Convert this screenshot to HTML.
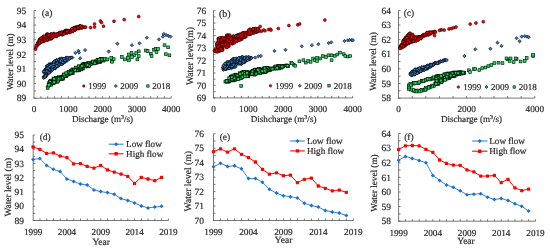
<!DOCTYPE html>
<html><head><meta charset="utf-8"><style>
html,body{margin:0;padding:0;background:#fff;}
svg{display:block;will-change:transform;font-family:"Liberation Serif", serif;fill:#222;}
text{fill:#2a2a2a;stroke:#2a2a2a;stroke-width:0.2px;text-rendering:geometricPrecision;}
</style></head><body>
<svg width="550" height="248" viewBox="0 0 550 248">
<line x1="34.00" y1="98.60" x2="34.00" y2="10.50" stroke="#555" stroke-width="0.8"/>
<line x1="33.60" y1="98.20" x2="171.20" y2="98.20" stroke="#555" stroke-width="0.8"/>
<line x1="34.00" y1="98.20" x2="36.00" y2="98.20" stroke="#555" stroke-width="0.8"/>
<text x="26.20" y="101.40" font-size="9.5" text-anchor="end" >89</text>
<line x1="34.00" y1="83.58" x2="36.00" y2="83.58" stroke="#555" stroke-width="0.8"/>
<text x="26.20" y="86.78" font-size="9.5" text-anchor="end" >90</text>
<line x1="34.00" y1="68.97" x2="36.00" y2="68.97" stroke="#555" stroke-width="0.8"/>
<text x="26.20" y="72.17" font-size="9.5" text-anchor="end" >91</text>
<line x1="34.00" y1="54.35" x2="36.00" y2="54.35" stroke="#555" stroke-width="0.8"/>
<text x="26.20" y="57.55" font-size="9.5" text-anchor="end" >92</text>
<line x1="34.00" y1="39.73" x2="36.00" y2="39.73" stroke="#555" stroke-width="0.8"/>
<text x="26.20" y="42.93" font-size="9.5" text-anchor="end" >93</text>
<line x1="34.00" y1="25.12" x2="36.00" y2="25.12" stroke="#555" stroke-width="0.8"/>
<text x="26.20" y="28.32" font-size="9.5" text-anchor="end" >94</text>
<line x1="34.00" y1="10.50" x2="36.00" y2="10.50" stroke="#555" stroke-width="0.8"/>
<text x="26.20" y="13.70" font-size="9.5" text-anchor="end" >95</text>
<line x1="34.00" y1="90.89" x2="36.00" y2="90.89" stroke="#555" stroke-width="0.8"/>
<line x1="34.00" y1="76.28" x2="36.00" y2="76.28" stroke="#555" stroke-width="0.8"/>
<line x1="34.00" y1="61.66" x2="36.00" y2="61.66" stroke="#555" stroke-width="0.8"/>
<line x1="34.00" y1="47.04" x2="36.00" y2="47.04" stroke="#555" stroke-width="0.8"/>
<line x1="34.00" y1="32.42" x2="36.00" y2="32.42" stroke="#555" stroke-width="0.8"/>
<line x1="34.00" y1="17.81" x2="36.00" y2="17.81" stroke="#555" stroke-width="0.8"/>
<line x1="40.86" y1="98.20" x2="40.86" y2="96.20" stroke="#555" stroke-width="0.8"/>
<line x1="47.72" y1="98.20" x2="47.72" y2="96.20" stroke="#555" stroke-width="0.8"/>
<line x1="54.58" y1="98.20" x2="54.58" y2="96.20" stroke="#555" stroke-width="0.8"/>
<line x1="61.44" y1="98.20" x2="61.44" y2="96.20" stroke="#555" stroke-width="0.8"/>
<line x1="68.30" y1="98.20" x2="68.30" y2="96.20" stroke="#555" stroke-width="0.8"/>
<line x1="75.16" y1="98.20" x2="75.16" y2="96.20" stroke="#555" stroke-width="0.8"/>
<line x1="82.02" y1="98.20" x2="82.02" y2="96.20" stroke="#555" stroke-width="0.8"/>
<line x1="88.88" y1="98.20" x2="88.88" y2="96.20" stroke="#555" stroke-width="0.8"/>
<line x1="95.74" y1="98.20" x2="95.74" y2="96.20" stroke="#555" stroke-width="0.8"/>
<line x1="102.60" y1="98.20" x2="102.60" y2="96.20" stroke="#555" stroke-width="0.8"/>
<line x1="109.46" y1="98.20" x2="109.46" y2="96.20" stroke="#555" stroke-width="0.8"/>
<line x1="116.32" y1="98.20" x2="116.32" y2="96.20" stroke="#555" stroke-width="0.8"/>
<line x1="123.18" y1="98.20" x2="123.18" y2="96.20" stroke="#555" stroke-width="0.8"/>
<line x1="130.04" y1="98.20" x2="130.04" y2="96.20" stroke="#555" stroke-width="0.8"/>
<line x1="136.90" y1="98.20" x2="136.90" y2="96.20" stroke="#555" stroke-width="0.8"/>
<line x1="143.76" y1="98.20" x2="143.76" y2="96.20" stroke="#555" stroke-width="0.8"/>
<line x1="150.62" y1="98.20" x2="150.62" y2="96.20" stroke="#555" stroke-width="0.8"/>
<line x1="157.48" y1="98.20" x2="157.48" y2="96.20" stroke="#555" stroke-width="0.8"/>
<line x1="164.34" y1="98.20" x2="164.34" y2="96.20" stroke="#555" stroke-width="0.8"/>
<line x1="171.20" y1="98.20" x2="171.20" y2="96.20" stroke="#555" stroke-width="0.8"/>
<text x="34.00" y="111.80" font-size="9.2" text-anchor="middle" >0</text>
<text x="68.30" y="111.80" font-size="9.2" text-anchor="middle" >1000</text>
<text x="102.60" y="111.80" font-size="9.2" text-anchor="middle" >2000</text>
<text x="136.90" y="111.80" font-size="9.2" text-anchor="middle" >3000</text>
<text x="171.20" y="111.80" font-size="9.2" text-anchor="middle" >4000</text>
<line x1="213.50" y1="98.30" x2="213.50" y2="10.60" stroke="#555" stroke-width="0.8"/>
<line x1="213.10" y1="97.90" x2="352.70" y2="97.90" stroke="#555" stroke-width="0.8"/>
<line x1="213.50" y1="97.90" x2="215.50" y2="97.90" stroke="#555" stroke-width="0.8"/>
<text x="206.30" y="101.10" font-size="9.5" text-anchor="end" >69</text>
<line x1="213.50" y1="85.43" x2="215.50" y2="85.43" stroke="#555" stroke-width="0.8"/>
<text x="206.30" y="88.63" font-size="9.5" text-anchor="end" >70</text>
<line x1="213.50" y1="72.96" x2="215.50" y2="72.96" stroke="#555" stroke-width="0.8"/>
<text x="206.30" y="76.16" font-size="9.5" text-anchor="end" >71</text>
<line x1="213.50" y1="60.49" x2="215.50" y2="60.49" stroke="#555" stroke-width="0.8"/>
<text x="206.30" y="63.69" font-size="9.5" text-anchor="end" >72</text>
<line x1="213.50" y1="48.01" x2="215.50" y2="48.01" stroke="#555" stroke-width="0.8"/>
<text x="206.30" y="51.21" font-size="9.5" text-anchor="end" >73</text>
<line x1="213.50" y1="35.54" x2="215.50" y2="35.54" stroke="#555" stroke-width="0.8"/>
<text x="206.30" y="38.74" font-size="9.5" text-anchor="end" >74</text>
<line x1="213.50" y1="23.07" x2="215.50" y2="23.07" stroke="#555" stroke-width="0.8"/>
<text x="206.30" y="26.27" font-size="9.5" text-anchor="end" >75</text>
<line x1="213.50" y1="10.60" x2="215.50" y2="10.60" stroke="#555" stroke-width="0.8"/>
<text x="206.30" y="13.80" font-size="9.5" text-anchor="end" >76</text>
<line x1="213.50" y1="91.66" x2="215.50" y2="91.66" stroke="#555" stroke-width="0.8"/>
<line x1="213.50" y1="79.19" x2="215.50" y2="79.19" stroke="#555" stroke-width="0.8"/>
<line x1="213.50" y1="66.72" x2="215.50" y2="66.72" stroke="#555" stroke-width="0.8"/>
<line x1="213.50" y1="54.25" x2="215.50" y2="54.25" stroke="#555" stroke-width="0.8"/>
<line x1="213.50" y1="41.78" x2="215.50" y2="41.78" stroke="#555" stroke-width="0.8"/>
<line x1="213.50" y1="29.31" x2="215.50" y2="29.31" stroke="#555" stroke-width="0.8"/>
<line x1="213.50" y1="16.84" x2="215.50" y2="16.84" stroke="#555" stroke-width="0.8"/>
<line x1="220.46" y1="97.90" x2="220.46" y2="95.90" stroke="#555" stroke-width="0.8"/>
<line x1="227.42" y1="97.90" x2="227.42" y2="95.90" stroke="#555" stroke-width="0.8"/>
<line x1="234.38" y1="97.90" x2="234.38" y2="95.90" stroke="#555" stroke-width="0.8"/>
<line x1="241.34" y1="97.90" x2="241.34" y2="95.90" stroke="#555" stroke-width="0.8"/>
<line x1="248.30" y1="97.90" x2="248.30" y2="95.90" stroke="#555" stroke-width="0.8"/>
<line x1="255.26" y1="97.90" x2="255.26" y2="95.90" stroke="#555" stroke-width="0.8"/>
<line x1="262.22" y1="97.90" x2="262.22" y2="95.90" stroke="#555" stroke-width="0.8"/>
<line x1="269.18" y1="97.90" x2="269.18" y2="95.90" stroke="#555" stroke-width="0.8"/>
<line x1="276.14" y1="97.90" x2="276.14" y2="95.90" stroke="#555" stroke-width="0.8"/>
<line x1="283.10" y1="97.90" x2="283.10" y2="95.90" stroke="#555" stroke-width="0.8"/>
<line x1="290.06" y1="97.90" x2="290.06" y2="95.90" stroke="#555" stroke-width="0.8"/>
<line x1="297.02" y1="97.90" x2="297.02" y2="95.90" stroke="#555" stroke-width="0.8"/>
<line x1="303.98" y1="97.90" x2="303.98" y2="95.90" stroke="#555" stroke-width="0.8"/>
<line x1="310.94" y1="97.90" x2="310.94" y2="95.90" stroke="#555" stroke-width="0.8"/>
<line x1="317.90" y1="97.90" x2="317.90" y2="95.90" stroke="#555" stroke-width="0.8"/>
<line x1="324.86" y1="97.90" x2="324.86" y2="95.90" stroke="#555" stroke-width="0.8"/>
<line x1="331.82" y1="97.90" x2="331.82" y2="95.90" stroke="#555" stroke-width="0.8"/>
<line x1="338.78" y1="97.90" x2="338.78" y2="95.90" stroke="#555" stroke-width="0.8"/>
<line x1="345.74" y1="97.90" x2="345.74" y2="95.90" stroke="#555" stroke-width="0.8"/>
<line x1="352.70" y1="97.90" x2="352.70" y2="95.90" stroke="#555" stroke-width="0.8"/>
<text x="213.50" y="111.80" font-size="9.2" text-anchor="middle" >0</text>
<text x="248.30" y="111.80" font-size="9.2" text-anchor="middle" >1000</text>
<text x="283.10" y="111.80" font-size="9.2" text-anchor="middle" >2000</text>
<text x="317.90" y="111.80" font-size="9.2" text-anchor="middle" >3000</text>
<text x="352.70" y="111.80" font-size="9.2" text-anchor="middle" >4000</text>
<line x1="398.50" y1="98.50" x2="398.50" y2="10.40" stroke="#555" stroke-width="0.8"/>
<line x1="398.10" y1="98.10" x2="534.80" y2="98.10" stroke="#555" stroke-width="0.8"/>
<line x1="398.50" y1="98.10" x2="400.50" y2="98.10" stroke="#555" stroke-width="0.8"/>
<text x="391.00" y="101.30" font-size="9.5" text-anchor="end" >58</text>
<line x1="398.50" y1="83.48" x2="400.50" y2="83.48" stroke="#555" stroke-width="0.8"/>
<text x="391.00" y="86.68" font-size="9.5" text-anchor="end" >59</text>
<line x1="398.50" y1="68.87" x2="400.50" y2="68.87" stroke="#555" stroke-width="0.8"/>
<text x="391.00" y="72.07" font-size="9.5" text-anchor="end" >60</text>
<line x1="398.50" y1="54.25" x2="400.50" y2="54.25" stroke="#555" stroke-width="0.8"/>
<text x="391.00" y="57.45" font-size="9.5" text-anchor="end" >61</text>
<line x1="398.50" y1="39.63" x2="400.50" y2="39.63" stroke="#555" stroke-width="0.8"/>
<text x="391.00" y="42.83" font-size="9.5" text-anchor="end" >62</text>
<line x1="398.50" y1="25.02" x2="400.50" y2="25.02" stroke="#555" stroke-width="0.8"/>
<text x="391.00" y="28.22" font-size="9.5" text-anchor="end" >63</text>
<line x1="398.50" y1="10.40" x2="400.50" y2="10.40" stroke="#555" stroke-width="0.8"/>
<text x="391.00" y="13.60" font-size="9.5" text-anchor="end" >64</text>
<line x1="398.50" y1="90.79" x2="400.50" y2="90.79" stroke="#555" stroke-width="0.8"/>
<line x1="398.50" y1="76.17" x2="400.50" y2="76.17" stroke="#555" stroke-width="0.8"/>
<line x1="398.50" y1="61.56" x2="400.50" y2="61.56" stroke="#555" stroke-width="0.8"/>
<line x1="398.50" y1="46.94" x2="400.50" y2="46.94" stroke="#555" stroke-width="0.8"/>
<line x1="398.50" y1="32.33" x2="400.50" y2="32.33" stroke="#555" stroke-width="0.8"/>
<line x1="398.50" y1="17.71" x2="400.50" y2="17.71" stroke="#555" stroke-width="0.8"/>
<line x1="412.13" y1="98.10" x2="412.13" y2="96.10" stroke="#555" stroke-width="0.8"/>
<line x1="425.76" y1="98.10" x2="425.76" y2="96.10" stroke="#555" stroke-width="0.8"/>
<line x1="439.39" y1="98.10" x2="439.39" y2="96.10" stroke="#555" stroke-width="0.8"/>
<line x1="453.02" y1="98.10" x2="453.02" y2="96.10" stroke="#555" stroke-width="0.8"/>
<line x1="466.65" y1="98.10" x2="466.65" y2="96.10" stroke="#555" stroke-width="0.8"/>
<line x1="480.28" y1="98.10" x2="480.28" y2="96.10" stroke="#555" stroke-width="0.8"/>
<line x1="493.91" y1="98.10" x2="493.91" y2="96.10" stroke="#555" stroke-width="0.8"/>
<line x1="507.54" y1="98.10" x2="507.54" y2="96.10" stroke="#555" stroke-width="0.8"/>
<line x1="521.17" y1="98.10" x2="521.17" y2="96.10" stroke="#555" stroke-width="0.8"/>
<line x1="534.80" y1="98.10" x2="534.80" y2="96.10" stroke="#555" stroke-width="0.8"/>
<text x="398.50" y="111.80" font-size="9.2" text-anchor="middle" >0</text>
<text x="466.65" y="111.80" font-size="9.2" text-anchor="middle" >2000</text>
<text x="534.80" y="111.80" font-size="9.2" text-anchor="middle" >4000</text>
<line x1="33.20" y1="220.90" x2="33.20" y2="135.00" stroke="#555" stroke-width="0.8"/>
<line x1="32.80" y1="220.50" x2="168.40" y2="220.50" stroke="#555" stroke-width="0.8"/>
<line x1="33.20" y1="220.50" x2="35.20" y2="220.50" stroke="#555" stroke-width="0.8"/>
<text x="24.00" y="223.70" font-size="9.5" text-anchor="end" >89</text>
<line x1="33.20" y1="206.25" x2="35.20" y2="206.25" stroke="#555" stroke-width="0.8"/>
<text x="24.00" y="209.45" font-size="9.5" text-anchor="end" >90</text>
<line x1="33.20" y1="192.00" x2="35.20" y2="192.00" stroke="#555" stroke-width="0.8"/>
<text x="24.00" y="195.20" font-size="9.5" text-anchor="end" >91</text>
<line x1="33.20" y1="177.75" x2="35.20" y2="177.75" stroke="#555" stroke-width="0.8"/>
<text x="24.00" y="180.95" font-size="9.5" text-anchor="end" >92</text>
<line x1="33.20" y1="163.50" x2="35.20" y2="163.50" stroke="#555" stroke-width="0.8"/>
<text x="24.00" y="166.70" font-size="9.5" text-anchor="end" >93</text>
<line x1="33.20" y1="149.25" x2="35.20" y2="149.25" stroke="#555" stroke-width="0.8"/>
<text x="24.00" y="152.45" font-size="9.5" text-anchor="end" >94</text>
<line x1="33.20" y1="135.00" x2="35.20" y2="135.00" stroke="#555" stroke-width="0.8"/>
<text x="24.00" y="138.20" font-size="9.5" text-anchor="end" >95</text>
<line x1="33.20" y1="213.38" x2="35.20" y2="213.38" stroke="#555" stroke-width="0.8"/>
<line x1="33.20" y1="199.12" x2="35.20" y2="199.12" stroke="#555" stroke-width="0.8"/>
<line x1="33.20" y1="184.88" x2="35.20" y2="184.88" stroke="#555" stroke-width="0.8"/>
<line x1="33.20" y1="170.62" x2="35.20" y2="170.62" stroke="#555" stroke-width="0.8"/>
<line x1="33.20" y1="156.38" x2="35.20" y2="156.38" stroke="#555" stroke-width="0.8"/>
<line x1="33.20" y1="142.12" x2="35.20" y2="142.12" stroke="#555" stroke-width="0.8"/>
<line x1="39.96" y1="220.50" x2="39.96" y2="218.50" stroke="#555" stroke-width="0.8"/>
<line x1="46.72" y1="220.50" x2="46.72" y2="218.50" stroke="#555" stroke-width="0.8"/>
<line x1="53.48" y1="220.50" x2="53.48" y2="218.50" stroke="#555" stroke-width="0.8"/>
<line x1="60.24" y1="220.50" x2="60.24" y2="218.50" stroke="#555" stroke-width="0.8"/>
<line x1="67.00" y1="220.50" x2="67.00" y2="218.50" stroke="#555" stroke-width="0.8"/>
<line x1="73.76" y1="220.50" x2="73.76" y2="218.50" stroke="#555" stroke-width="0.8"/>
<line x1="80.52" y1="220.50" x2="80.52" y2="218.50" stroke="#555" stroke-width="0.8"/>
<line x1="87.28" y1="220.50" x2="87.28" y2="218.50" stroke="#555" stroke-width="0.8"/>
<line x1="94.04" y1="220.50" x2="94.04" y2="218.50" stroke="#555" stroke-width="0.8"/>
<line x1="100.80" y1="220.50" x2="100.80" y2="218.50" stroke="#555" stroke-width="0.8"/>
<line x1="107.56" y1="220.50" x2="107.56" y2="218.50" stroke="#555" stroke-width="0.8"/>
<line x1="114.32" y1="220.50" x2="114.32" y2="218.50" stroke="#555" stroke-width="0.8"/>
<line x1="121.08" y1="220.50" x2="121.08" y2="218.50" stroke="#555" stroke-width="0.8"/>
<line x1="127.84" y1="220.50" x2="127.84" y2="218.50" stroke="#555" stroke-width="0.8"/>
<line x1="134.60" y1="220.50" x2="134.60" y2="218.50" stroke="#555" stroke-width="0.8"/>
<line x1="141.36" y1="220.50" x2="141.36" y2="218.50" stroke="#555" stroke-width="0.8"/>
<line x1="148.12" y1="220.50" x2="148.12" y2="218.50" stroke="#555" stroke-width="0.8"/>
<line x1="154.88" y1="220.50" x2="154.88" y2="218.50" stroke="#555" stroke-width="0.8"/>
<line x1="161.64" y1="220.50" x2="161.64" y2="218.50" stroke="#555" stroke-width="0.8"/>
<line x1="168.40" y1="220.50" x2="168.40" y2="218.50" stroke="#555" stroke-width="0.8"/>
<text x="33.20" y="234.80" font-size="9.2" text-anchor="middle" >1999</text>
<text x="67.00" y="234.80" font-size="9.2" text-anchor="middle" >2004</text>
<text x="100.80" y="234.80" font-size="9.2" text-anchor="middle" >2009</text>
<text x="134.60" y="234.80" font-size="9.2" text-anchor="middle" >2014</text>
<text x="168.40" y="234.80" font-size="9.2" text-anchor="middle" >2019</text>
<line x1="213.50" y1="220.90" x2="213.50" y2="133.80" stroke="#555" stroke-width="0.8"/>
<line x1="213.10" y1="220.50" x2="353.30" y2="220.50" stroke="#555" stroke-width="0.8"/>
<line x1="213.50" y1="220.50" x2="215.50" y2="220.50" stroke="#555" stroke-width="0.8"/>
<text x="204.00" y="223.70" font-size="9.5" text-anchor="end" >70</text>
<line x1="213.50" y1="206.05" x2="215.50" y2="206.05" stroke="#555" stroke-width="0.8"/>
<text x="204.00" y="209.25" font-size="9.5" text-anchor="end" >71</text>
<line x1="213.50" y1="191.60" x2="215.50" y2="191.60" stroke="#555" stroke-width="0.8"/>
<text x="204.00" y="194.80" font-size="9.5" text-anchor="end" >72</text>
<line x1="213.50" y1="177.15" x2="215.50" y2="177.15" stroke="#555" stroke-width="0.8"/>
<text x="204.00" y="180.35" font-size="9.5" text-anchor="end" >73</text>
<line x1="213.50" y1="162.70" x2="215.50" y2="162.70" stroke="#555" stroke-width="0.8"/>
<text x="204.00" y="165.90" font-size="9.5" text-anchor="end" >74</text>
<line x1="213.50" y1="148.25" x2="215.50" y2="148.25" stroke="#555" stroke-width="0.8"/>
<text x="204.00" y="151.45" font-size="9.5" text-anchor="end" >75</text>
<line x1="213.50" y1="133.80" x2="215.50" y2="133.80" stroke="#555" stroke-width="0.8"/>
<text x="204.00" y="137.00" font-size="9.5" text-anchor="end" >76</text>
<line x1="213.50" y1="213.28" x2="215.50" y2="213.28" stroke="#555" stroke-width="0.8"/>
<line x1="213.50" y1="198.82" x2="215.50" y2="198.82" stroke="#555" stroke-width="0.8"/>
<line x1="213.50" y1="184.38" x2="215.50" y2="184.38" stroke="#555" stroke-width="0.8"/>
<line x1="213.50" y1="169.93" x2="215.50" y2="169.93" stroke="#555" stroke-width="0.8"/>
<line x1="213.50" y1="155.48" x2="215.50" y2="155.48" stroke="#555" stroke-width="0.8"/>
<line x1="213.50" y1="141.03" x2="215.50" y2="141.03" stroke="#555" stroke-width="0.8"/>
<line x1="220.49" y1="220.50" x2="220.49" y2="218.50" stroke="#555" stroke-width="0.8"/>
<line x1="227.48" y1="220.50" x2="227.48" y2="218.50" stroke="#555" stroke-width="0.8"/>
<line x1="234.47" y1="220.50" x2="234.47" y2="218.50" stroke="#555" stroke-width="0.8"/>
<line x1="241.46" y1="220.50" x2="241.46" y2="218.50" stroke="#555" stroke-width="0.8"/>
<line x1="248.45" y1="220.50" x2="248.45" y2="218.50" stroke="#555" stroke-width="0.8"/>
<line x1="255.44" y1="220.50" x2="255.44" y2="218.50" stroke="#555" stroke-width="0.8"/>
<line x1="262.43" y1="220.50" x2="262.43" y2="218.50" stroke="#555" stroke-width="0.8"/>
<line x1="269.42" y1="220.50" x2="269.42" y2="218.50" stroke="#555" stroke-width="0.8"/>
<line x1="276.41" y1="220.50" x2="276.41" y2="218.50" stroke="#555" stroke-width="0.8"/>
<line x1="283.40" y1="220.50" x2="283.40" y2="218.50" stroke="#555" stroke-width="0.8"/>
<line x1="290.39" y1="220.50" x2="290.39" y2="218.50" stroke="#555" stroke-width="0.8"/>
<line x1="297.38" y1="220.50" x2="297.38" y2="218.50" stroke="#555" stroke-width="0.8"/>
<line x1="304.37" y1="220.50" x2="304.37" y2="218.50" stroke="#555" stroke-width="0.8"/>
<line x1="311.36" y1="220.50" x2="311.36" y2="218.50" stroke="#555" stroke-width="0.8"/>
<line x1="318.35" y1="220.50" x2="318.35" y2="218.50" stroke="#555" stroke-width="0.8"/>
<line x1="325.34" y1="220.50" x2="325.34" y2="218.50" stroke="#555" stroke-width="0.8"/>
<line x1="332.33" y1="220.50" x2="332.33" y2="218.50" stroke="#555" stroke-width="0.8"/>
<line x1="339.32" y1="220.50" x2="339.32" y2="218.50" stroke="#555" stroke-width="0.8"/>
<line x1="346.31" y1="220.50" x2="346.31" y2="218.50" stroke="#555" stroke-width="0.8"/>
<line x1="353.30" y1="220.50" x2="353.30" y2="218.50" stroke="#555" stroke-width="0.8"/>
<text x="213.50" y="234.80" font-size="9.2" text-anchor="middle" >1999</text>
<text x="248.45" y="234.80" font-size="9.2" text-anchor="middle" >2004</text>
<text x="283.40" y="234.80" font-size="9.2" text-anchor="middle" >2009</text>
<text x="318.35" y="234.80" font-size="9.2" text-anchor="middle" >2014</text>
<text x="353.30" y="234.80" font-size="9.2" text-anchor="middle" >2019</text>
<line x1="398.60" y1="221.60" x2="398.60" y2="133.50" stroke="#555" stroke-width="0.8"/>
<line x1="398.20" y1="221.20" x2="535.50" y2="221.20" stroke="#555" stroke-width="0.8"/>
<line x1="398.60" y1="221.20" x2="400.60" y2="221.20" stroke="#555" stroke-width="0.8"/>
<text x="391.00" y="224.40" font-size="9.5" text-anchor="end" >58</text>
<line x1="398.60" y1="206.58" x2="400.60" y2="206.58" stroke="#555" stroke-width="0.8"/>
<text x="391.00" y="209.78" font-size="9.5" text-anchor="end" >59</text>
<line x1="398.60" y1="191.97" x2="400.60" y2="191.97" stroke="#555" stroke-width="0.8"/>
<text x="391.00" y="195.17" font-size="9.5" text-anchor="end" >60</text>
<line x1="398.60" y1="177.35" x2="400.60" y2="177.35" stroke="#555" stroke-width="0.8"/>
<text x="391.00" y="180.55" font-size="9.5" text-anchor="end" >61</text>
<line x1="398.60" y1="162.73" x2="400.60" y2="162.73" stroke="#555" stroke-width="0.8"/>
<text x="391.00" y="165.93" font-size="9.5" text-anchor="end" >62</text>
<line x1="398.60" y1="148.12" x2="400.60" y2="148.12" stroke="#555" stroke-width="0.8"/>
<text x="391.00" y="151.32" font-size="9.5" text-anchor="end" >63</text>
<line x1="398.60" y1="133.50" x2="400.60" y2="133.50" stroke="#555" stroke-width="0.8"/>
<text x="391.00" y="136.70" font-size="9.5" text-anchor="end" >64</text>
<line x1="398.60" y1="213.89" x2="400.60" y2="213.89" stroke="#555" stroke-width="0.8"/>
<line x1="398.60" y1="199.27" x2="400.60" y2="199.27" stroke="#555" stroke-width="0.8"/>
<line x1="398.60" y1="184.66" x2="400.60" y2="184.66" stroke="#555" stroke-width="0.8"/>
<line x1="398.60" y1="170.04" x2="400.60" y2="170.04" stroke="#555" stroke-width="0.8"/>
<line x1="398.60" y1="155.43" x2="400.60" y2="155.43" stroke="#555" stroke-width="0.8"/>
<line x1="398.60" y1="140.81" x2="400.60" y2="140.81" stroke="#555" stroke-width="0.8"/>
<line x1="405.45" y1="221.20" x2="405.45" y2="219.20" stroke="#555" stroke-width="0.8"/>
<line x1="412.29" y1="221.20" x2="412.29" y2="219.20" stroke="#555" stroke-width="0.8"/>
<line x1="419.13" y1="221.20" x2="419.13" y2="219.20" stroke="#555" stroke-width="0.8"/>
<line x1="425.98" y1="221.20" x2="425.98" y2="219.20" stroke="#555" stroke-width="0.8"/>
<line x1="432.83" y1="221.20" x2="432.83" y2="219.20" stroke="#555" stroke-width="0.8"/>
<line x1="439.67" y1="221.20" x2="439.67" y2="219.20" stroke="#555" stroke-width="0.8"/>
<line x1="446.51" y1="221.20" x2="446.51" y2="219.20" stroke="#555" stroke-width="0.8"/>
<line x1="453.36" y1="221.20" x2="453.36" y2="219.20" stroke="#555" stroke-width="0.8"/>
<line x1="460.21" y1="221.20" x2="460.21" y2="219.20" stroke="#555" stroke-width="0.8"/>
<line x1="467.05" y1="221.20" x2="467.05" y2="219.20" stroke="#555" stroke-width="0.8"/>
<line x1="473.89" y1="221.20" x2="473.89" y2="219.20" stroke="#555" stroke-width="0.8"/>
<line x1="480.74" y1="221.20" x2="480.74" y2="219.20" stroke="#555" stroke-width="0.8"/>
<line x1="487.59" y1="221.20" x2="487.59" y2="219.20" stroke="#555" stroke-width="0.8"/>
<line x1="494.43" y1="221.20" x2="494.43" y2="219.20" stroke="#555" stroke-width="0.8"/>
<line x1="501.27" y1="221.20" x2="501.27" y2="219.20" stroke="#555" stroke-width="0.8"/>
<line x1="508.12" y1="221.20" x2="508.12" y2="219.20" stroke="#555" stroke-width="0.8"/>
<line x1="514.97" y1="221.20" x2="514.97" y2="219.20" stroke="#555" stroke-width="0.8"/>
<line x1="521.81" y1="221.20" x2="521.81" y2="219.20" stroke="#555" stroke-width="0.8"/>
<line x1="528.65" y1="221.20" x2="528.65" y2="219.20" stroke="#555" stroke-width="0.8"/>
<line x1="535.50" y1="221.20" x2="535.50" y2="219.20" stroke="#555" stroke-width="0.8"/>
<text x="398.60" y="235.80" font-size="9.2" text-anchor="middle" >1999</text>
<text x="432.83" y="235.80" font-size="9.2" text-anchor="middle" >2004</text>
<text x="467.05" y="235.80" font-size="9.2" text-anchor="middle" >2009</text>
<text x="501.27" y="235.80" font-size="9.2" text-anchor="middle" >2014</text>
<text x="535.50" y="235.80" font-size="9.2" text-anchor="middle" >2019</text>
<text x="102.50" y="122.10" font-size="9.1" text-anchor="middle" >Discharge (m<tspan font-size="6" dy="-3.3">3</tspan><tspan dy="3.3">/s)</tspan></text>
<text x="283.60" y="122.10" font-size="9.1" text-anchor="middle" >Dishcharge (m<tspan font-size="6" dy="-3.3">3</tspan><tspan dy="3.3">/s)</tspan></text>
<text x="471.50" y="122.10" font-size="9.1" text-anchor="middle" >Discharge (m<tspan font-size="6" dy="-3.3">3</tspan><tspan dy="3.3">/s)</tspan></text>
<text x="101.20" y="244.50" font-size="9.5" text-anchor="middle" >Year</text>
<text x="283.60" y="242.90" font-size="9.5" text-anchor="middle" >Year</text>
<text x="466.00" y="243.70" font-size="9.5" text-anchor="middle" >Year</text>
<text transform="translate(12.7,61.9) rotate(-90)" font-size="9.1" text-anchor="middle" >Water level (m)</text>
<text transform="translate(192.9,56.0) rotate(-90)" font-size="9.7" text-anchor="middle" stroke="#262626" stroke-width="0.25">Water level(m)</text>
<text transform="translate(375.8,61.5) rotate(-90)" font-size="9.4" text-anchor="middle" >Water level (m)</text>
<text transform="translate(10.8,187.2) rotate(-90)" font-size="9.4" text-anchor="middle" >Water level (m)</text>
<text transform="translate(190.5,181.2) rotate(-90)" font-size="9.7" text-anchor="middle" >Water level (m)</text>
<text transform="translate(377.4,183.1) rotate(-90)" font-size="9.2" text-anchor="middle" >Water level (m)</text>
<text x="41.80" y="15.60" font-size="9.5" text-anchor="start" >(a)</text>
<text x="219.00" y="17.00" font-size="10" text-anchor="start" stroke-width="0.45">(b)</text>
<text x="403.70" y="15.80" font-size="9.5" text-anchor="start" >(c)</text>
<text x="39.70" y="139.60" font-size="9.5" text-anchor="start" >(d)</text>
<text x="219.70" y="139.50" font-size="9.5" text-anchor="start" >(e)</text>
<text x="404.20" y="139.50" font-size="9.5" text-anchor="start" >(f)</text>
<path d="M33.10 159.40 L39.86 158.60 L46.62 165.40 L53.38 169.30 L60.14 171.60 L66.90 178.90 L73.66 181.40 L80.42 184.10 L87.18 185.00 L93.94 189.90 L100.70 191.60 L107.46 192.60 L114.22 194.30 L120.98 198.60 L127.74 200.40 L134.50 202.90 L141.26 205.90 L148.02 207.90 L154.78 207.10 L161.54 206.30" fill="none" stroke="#3585dc" stroke-width="1.0"/>
<path d="M33.10 157.40L35.10 159.40L33.10 161.40L31.10 159.40Z" fill="#1a6fd0"/>
<path d="M39.86 156.60L41.86 158.60L39.86 160.60L37.86 158.60Z" fill="#1a6fd0"/>
<path d="M46.62 163.40L48.62 165.40L46.62 167.40L44.62 165.40Z" fill="#1a6fd0"/>
<path d="M53.38 167.30L55.38 169.30L53.38 171.30L51.38 169.30Z" fill="#1a6fd0"/>
<path d="M60.14 169.60L62.14 171.60L60.14 173.60L58.14 171.60Z" fill="#1a6fd0"/>
<path d="M66.90 176.90L68.90 178.90L66.90 180.90L64.90 178.90Z" fill="#1a6fd0"/>
<path d="M73.66 179.40L75.66 181.40L73.66 183.40L71.66 181.40Z" fill="#1a6fd0"/>
<path d="M80.42 182.10L82.42 184.10L80.42 186.10L78.42 184.10Z" fill="#1a6fd0"/>
<path d="M87.18 183.00L89.18 185.00L87.18 187.00L85.18 185.00Z" fill="#1a6fd0"/>
<path d="M93.94 187.90L95.94 189.90L93.94 191.90L91.94 189.90Z" fill="#1a6fd0"/>
<path d="M100.70 189.60L102.70 191.60L100.70 193.60L98.70 191.60Z" fill="#1a6fd0"/>
<path d="M107.46 190.60L109.46 192.60L107.46 194.60L105.46 192.60Z" fill="#1a6fd0"/>
<path d="M114.22 192.30L116.22 194.30L114.22 196.30L112.22 194.30Z" fill="#1a6fd0"/>
<path d="M120.98 196.60L122.98 198.60L120.98 200.60L118.98 198.60Z" fill="#1a6fd0"/>
<path d="M127.74 198.40L129.74 200.40L127.74 202.40L125.74 200.40Z" fill="#1a6fd0"/>
<path d="M134.50 200.90L136.50 202.90L134.50 204.90L132.50 202.90Z" fill="#1a6fd0"/>
<path d="M141.26 203.90L143.26 205.90L141.26 207.90L139.26 205.90Z" fill="#1a6fd0"/>
<path d="M148.02 205.90L150.02 207.90L148.02 209.90L146.02 207.90Z" fill="#1a6fd0"/>
<path d="M154.78 205.10L156.78 207.10L154.78 209.10L152.78 207.10Z" fill="#1a6fd0"/>
<path d="M161.54 204.30L163.54 206.30L161.54 208.30L159.54 206.30Z" fill="#1a6fd0"/>
<path d="M33.10 147.00 L39.86 149.30 L46.62 153.40 L53.38 152.90 L60.14 156.10 L66.90 157.60 L73.66 163.80 L80.42 163.60 L87.18 166.40 L93.94 168.10 L100.70 165.40 L107.46 169.90 L114.22 172.10 L120.98 174.10 L127.74 176.30 L134.50 183.40 L141.26 177.40 L148.02 179.00 L154.78 180.70 L161.54 177.40" fill="none" stroke="#ff0000" stroke-width="1.0"/>
<rect x="31.45" y="145.35" width="3.3" height="3.3" rx="0.9" fill="#ff0000"/>
<rect x="38.21" y="147.65" width="3.3" height="3.3" rx="0.9" fill="#ff0000"/>
<rect x="44.97" y="151.75" width="3.3" height="3.3" rx="0.9" fill="#ff0000"/>
<rect x="51.73" y="151.25" width="3.3" height="3.3" rx="0.9" fill="#ff0000"/>
<rect x="58.49" y="154.45" width="3.3" height="3.3" rx="0.9" fill="#ff0000"/>
<rect x="65.25" y="155.95" width="3.3" height="3.3" rx="0.9" fill="#ff0000"/>
<rect x="72.01" y="162.15" width="3.3" height="3.3" rx="0.9" fill="#ff0000"/>
<rect x="78.77" y="161.95" width="3.3" height="3.3" rx="0.9" fill="#ff0000"/>
<rect x="85.53" y="164.75" width="3.3" height="3.3" rx="0.9" fill="#ff0000"/>
<rect x="92.29" y="166.45" width="3.3" height="3.3" rx="0.9" fill="#ff0000"/>
<rect x="99.05" y="163.75" width="3.3" height="3.3" rx="0.9" fill="#ff0000"/>
<rect x="105.81" y="168.25" width="3.3" height="3.3" rx="0.9" fill="#ff0000"/>
<rect x="112.57" y="170.45" width="3.3" height="3.3" rx="0.9" fill="#ff0000"/>
<rect x="119.33" y="172.45" width="3.3" height="3.3" rx="0.9" fill="#ff0000"/>
<rect x="126.09" y="174.65" width="3.3" height="3.3" rx="0.9" fill="#ff0000"/>
<rect x="132.85" y="181.75" width="3.3" height="3.3" rx="0.9" fill="#ff0000"/>
<rect x="139.61" y="175.75" width="3.3" height="3.3" rx="0.9" fill="#ff0000"/>
<rect x="146.37" y="177.35" width="3.3" height="3.3" rx="0.9" fill="#ff0000"/>
<rect x="153.13" y="179.05" width="3.3" height="3.3" rx="0.9" fill="#ff0000"/>
<rect x="159.89" y="175.75" width="3.3" height="3.3" rx="0.9" fill="#ff0000"/>
<path d="M213.50 166.80 L220.49 163.20 L227.48 166.40 L234.47 165.80 L241.46 168.80 L248.45 178.60 L255.44 178.40 L262.43 182.30 L269.42 189.30 L276.41 193.10 L283.40 195.70 L290.39 196.70 L297.38 197.90 L304.37 203.30 L311.36 205.60 L318.35 207.10 L325.34 210.60 L332.33 212.00 L339.32 213.10 L346.31 215.60" fill="none" stroke="#3585dc" stroke-width="1.0"/>
<path d="M213.50 164.80L215.50 166.80L213.50 168.80L211.50 166.80Z" fill="#1a6fd0"/>
<path d="M220.49 161.20L222.49 163.20L220.49 165.20L218.49 163.20Z" fill="#1a6fd0"/>
<path d="M227.48 164.40L229.48 166.40L227.48 168.40L225.48 166.40Z" fill="#1a6fd0"/>
<path d="M234.47 163.80L236.47 165.80L234.47 167.80L232.47 165.80Z" fill="#1a6fd0"/>
<path d="M241.46 166.80L243.46 168.80L241.46 170.80L239.46 168.80Z" fill="#1a6fd0"/>
<path d="M248.45 176.60L250.45 178.60L248.45 180.60L246.45 178.60Z" fill="#1a6fd0"/>
<path d="M255.44 176.40L257.44 178.40L255.44 180.40L253.44 178.40Z" fill="#1a6fd0"/>
<path d="M262.43 180.30L264.43 182.30L262.43 184.30L260.43 182.30Z" fill="#1a6fd0"/>
<path d="M269.42 187.30L271.42 189.30L269.42 191.30L267.42 189.30Z" fill="#1a6fd0"/>
<path d="M276.41 191.10L278.41 193.10L276.41 195.10L274.41 193.10Z" fill="#1a6fd0"/>
<path d="M283.40 193.70L285.40 195.70L283.40 197.70L281.40 195.70Z" fill="#1a6fd0"/>
<path d="M290.39 194.70L292.39 196.70L290.39 198.70L288.39 196.70Z" fill="#1a6fd0"/>
<path d="M297.38 195.90L299.38 197.90L297.38 199.90L295.38 197.90Z" fill="#1a6fd0"/>
<path d="M304.37 201.30L306.37 203.30L304.37 205.30L302.37 203.30Z" fill="#1a6fd0"/>
<path d="M311.36 203.60L313.36 205.60L311.36 207.60L309.36 205.60Z" fill="#1a6fd0"/>
<path d="M318.35 205.10L320.35 207.10L318.35 209.10L316.35 207.10Z" fill="#1a6fd0"/>
<path d="M325.34 208.60L327.34 210.60L325.34 212.60L323.34 210.60Z" fill="#1a6fd0"/>
<path d="M332.33 210.00L334.33 212.00L332.33 214.00L330.33 212.00Z" fill="#1a6fd0"/>
<path d="M339.32 211.10L341.32 213.10L339.32 215.10L337.32 213.10Z" fill="#1a6fd0"/>
<path d="M346.31 213.60L348.31 215.60L346.31 217.60L344.31 215.60Z" fill="#1a6fd0"/>
<path d="M213.50 151.60 L220.49 148.90 L227.48 152.10 L234.47 148.80 L241.46 154.30 L248.45 157.60 L255.44 162.00 L262.43 169.30 L269.42 174.20 L276.41 172.80 L283.40 175.70 L290.39 175.10 L297.38 182.60 L304.37 179.30 L311.36 178.10 L318.35 186.00 L325.34 188.30 L332.33 190.80 L339.32 190.10 L346.31 192.30" fill="none" stroke="#ff0000" stroke-width="1.0"/>
<rect x="211.85" y="149.95" width="3.3" height="3.3" rx="0.9" fill="#ff0000"/>
<rect x="218.84" y="147.25" width="3.3" height="3.3" rx="0.9" fill="#ff0000"/>
<rect x="225.83" y="150.45" width="3.3" height="3.3" rx="0.9" fill="#ff0000"/>
<rect x="232.82" y="147.15" width="3.3" height="3.3" rx="0.9" fill="#ff0000"/>
<rect x="239.81" y="152.65" width="3.3" height="3.3" rx="0.9" fill="#ff0000"/>
<rect x="246.80" y="155.95" width="3.3" height="3.3" rx="0.9" fill="#ff0000"/>
<rect x="253.79" y="160.35" width="3.3" height="3.3" rx="0.9" fill="#ff0000"/>
<rect x="260.78" y="167.65" width="3.3" height="3.3" rx="0.9" fill="#ff0000"/>
<rect x="267.77" y="172.55" width="3.3" height="3.3" rx="0.9" fill="#ff0000"/>
<rect x="274.76" y="171.15" width="3.3" height="3.3" rx="0.9" fill="#ff0000"/>
<rect x="281.75" y="174.05" width="3.3" height="3.3" rx="0.9" fill="#ff0000"/>
<rect x="288.74" y="173.45" width="3.3" height="3.3" rx="0.9" fill="#ff0000"/>
<rect x="295.73" y="180.95" width="3.3" height="3.3" rx="0.9" fill="#ff0000"/>
<rect x="302.72" y="177.65" width="3.3" height="3.3" rx="0.9" fill="#ff0000"/>
<rect x="309.71" y="176.45" width="3.3" height="3.3" rx="0.9" fill="#ff0000"/>
<rect x="316.70" y="184.35" width="3.3" height="3.3" rx="0.9" fill="#ff0000"/>
<rect x="323.69" y="186.65" width="3.3" height="3.3" rx="0.9" fill="#ff0000"/>
<rect x="330.68" y="189.15" width="3.3" height="3.3" rx="0.9" fill="#ff0000"/>
<rect x="337.67" y="188.45" width="3.3" height="3.3" rx="0.9" fill="#ff0000"/>
<rect x="344.66" y="190.65" width="3.3" height="3.3" rx="0.9" fill="#ff0000"/>
<path d="M398.60 160.20 L405.44 156.40 L412.28 158.40 L419.12 160.50 L425.96 162.70 L432.80 175.40 L439.64 180.40 L446.48 185.00 L453.32 187.30 L460.16 190.80 L467.00 194.70 L473.84 194.20 L480.68 193.70 L487.52 197.20 L494.36 199.50 L501.20 198.50 L508.04 200.50 L514.88 203.70 L521.72 206.20 L528.56 211.00" fill="none" stroke="#3585dc" stroke-width="1.0"/>
<path d="M398.60 158.20L400.60 160.20L398.60 162.20L396.60 160.20Z" fill="#1a6fd0"/>
<path d="M405.44 154.40L407.44 156.40L405.44 158.40L403.44 156.40Z" fill="#1a6fd0"/>
<path d="M412.28 156.40L414.28 158.40L412.28 160.40L410.28 158.40Z" fill="#1a6fd0"/>
<path d="M419.12 158.50L421.12 160.50L419.12 162.50L417.12 160.50Z" fill="#1a6fd0"/>
<path d="M425.96 160.70L427.96 162.70L425.96 164.70L423.96 162.70Z" fill="#1a6fd0"/>
<path d="M432.80 173.40L434.80 175.40L432.80 177.40L430.80 175.40Z" fill="#1a6fd0"/>
<path d="M439.64 178.40L441.64 180.40L439.64 182.40L437.64 180.40Z" fill="#1a6fd0"/>
<path d="M446.48 183.00L448.48 185.00L446.48 187.00L444.48 185.00Z" fill="#1a6fd0"/>
<path d="M453.32 185.30L455.32 187.30L453.32 189.30L451.32 187.30Z" fill="#1a6fd0"/>
<path d="M460.16 188.80L462.16 190.80L460.16 192.80L458.16 190.80Z" fill="#1a6fd0"/>
<path d="M467.00 192.70L469.00 194.70L467.00 196.70L465.00 194.70Z" fill="#1a6fd0"/>
<path d="M473.84 192.20L475.84 194.20L473.84 196.20L471.84 194.20Z" fill="#1a6fd0"/>
<path d="M480.68 191.70L482.68 193.70L480.68 195.70L478.68 193.70Z" fill="#1a6fd0"/>
<path d="M487.52 195.20L489.52 197.20L487.52 199.20L485.52 197.20Z" fill="#1a6fd0"/>
<path d="M494.36 197.50L496.36 199.50L494.36 201.50L492.36 199.50Z" fill="#1a6fd0"/>
<path d="M501.20 196.50L503.20 198.50L501.20 200.50L499.20 198.50Z" fill="#1a6fd0"/>
<path d="M508.04 198.50L510.04 200.50L508.04 202.50L506.04 200.50Z" fill="#1a6fd0"/>
<path d="M514.88 201.70L516.88 203.70L514.88 205.70L512.88 203.70Z" fill="#1a6fd0"/>
<path d="M521.72 204.20L523.72 206.20L521.72 208.20L519.72 206.20Z" fill="#1a6fd0"/>
<path d="M528.56 209.00L530.56 211.00L528.56 213.00L526.56 211.00Z" fill="#1a6fd0"/>
<path d="M398.60 149.60 L405.44 145.80 L412.28 145.50 L419.12 145.80 L425.96 149.40 L432.80 152.30 L439.64 160.00 L446.48 163.40 L453.32 165.10 L460.16 165.30 L467.00 169.90 L473.84 171.80 L480.68 176.10 L487.52 176.10 L494.36 175.40 L501.20 182.60 L508.04 179.30 L514.88 187.80 L521.72 190.60 L528.56 189.20" fill="none" stroke="#ff0000" stroke-width="1.0"/>
<rect x="396.95" y="147.95" width="3.3" height="3.3" rx="0.9" fill="#ff0000"/>
<rect x="403.79" y="144.15" width="3.3" height="3.3" rx="0.9" fill="#ff0000"/>
<rect x="410.63" y="143.85" width="3.3" height="3.3" rx="0.9" fill="#ff0000"/>
<rect x="417.47" y="144.15" width="3.3" height="3.3" rx="0.9" fill="#ff0000"/>
<rect x="424.31" y="147.75" width="3.3" height="3.3" rx="0.9" fill="#ff0000"/>
<rect x="431.15" y="150.65" width="3.3" height="3.3" rx="0.9" fill="#ff0000"/>
<rect x="437.99" y="158.35" width="3.3" height="3.3" rx="0.9" fill="#ff0000"/>
<rect x="444.83" y="161.75" width="3.3" height="3.3" rx="0.9" fill="#ff0000"/>
<rect x="451.67" y="163.45" width="3.3" height="3.3" rx="0.9" fill="#ff0000"/>
<rect x="458.51" y="163.65" width="3.3" height="3.3" rx="0.9" fill="#ff0000"/>
<rect x="465.35" y="168.25" width="3.3" height="3.3" rx="0.9" fill="#ff0000"/>
<rect x="472.19" y="170.15" width="3.3" height="3.3" rx="0.9" fill="#ff0000"/>
<rect x="479.03" y="174.45" width="3.3" height="3.3" rx="0.9" fill="#ff0000"/>
<rect x="485.87" y="174.45" width="3.3" height="3.3" rx="0.9" fill="#ff0000"/>
<rect x="492.71" y="173.75" width="3.3" height="3.3" rx="0.9" fill="#ff0000"/>
<rect x="499.55" y="180.95" width="3.3" height="3.3" rx="0.9" fill="#ff0000"/>
<rect x="506.39" y="177.65" width="3.3" height="3.3" rx="0.9" fill="#ff0000"/>
<rect x="513.23" y="186.15" width="3.3" height="3.3" rx="0.9" fill="#ff0000"/>
<rect x="520.07" y="188.95" width="3.3" height="3.3" rx="0.9" fill="#ff0000"/>
<rect x="526.91" y="187.55" width="3.3" height="3.3" rx="0.9" fill="#ff0000"/>
<line x1="108.7" y1="144.2" x2="123.5" y2="144.2" stroke="#3585dc" stroke-width="1.1"/>
<path d="M116.10 142.20L118.10 144.20L116.10 146.20L114.10 144.20Z" fill="#1a6fd0"/>
<line x1="108.7" y1="153.8" x2="123.5" y2="153.8" stroke="#ff0000" stroke-width="1.1"/>
<rect x="114.40" y="152.10" width="3.4" height="3.4" rx="0.5" fill="#ff0000"/>
<text x="126.10" y="147.40" font-size="9.1" text-anchor="start" >Low flow</text>
<text x="126.10" y="157.00" font-size="9.1" text-anchor="start" >High flow</text>
<line x1="290.2" y1="141.0" x2="304.8" y2="141.0" stroke="#3585dc" stroke-width="1.1"/>
<path d="M297.50 139.00L299.50 141.00L297.50 143.00L295.50 141.00Z" fill="#1a6fd0"/>
<line x1="290.2" y1="150.9" x2="304.8" y2="150.9" stroke="#ff0000" stroke-width="1.1"/>
<rect x="295.80" y="149.20" width="3.4" height="3.4" rx="0.5" fill="#ff0000"/>
<text x="307.00" y="144.20" font-size="9.1" text-anchor="start" >Low flow</text>
<text x="307.00" y="154.10" font-size="9.1" text-anchor="start" >High flow</text>
<line x1="472.1" y1="141.0" x2="487.4" y2="141.0" stroke="#3585dc" stroke-width="1.1"/>
<path d="M479.75 139.00L481.75 141.00L479.75 143.00L477.75 141.00Z" fill="#1a6fd0"/>
<line x1="472.1" y1="151.2" x2="487.4" y2="151.2" stroke="#ff0000" stroke-width="1.1"/>
<rect x="478.05" y="149.50" width="3.4" height="3.4" rx="0.5" fill="#ff0000"/>
<text x="489.30" y="144.20" font-size="9.1" text-anchor="start" >Low flow</text>
<text x="489.30" y="154.40" font-size="9.1" text-anchor="start" >High flow</text>
<circle cx="83.80" cy="86.00" r="1.25" fill="#f20000" stroke="#200000" stroke-width="0.5"/>
<text x="88.30" y="89.20" font-size="9.0" text-anchor="start" >1999</text>
<path d="M115.80 84.50L117.30 86.00L115.80 87.50L114.30 86.00Z" fill="#3d76b4" stroke="#081220" stroke-width="0.65"/>
<text x="120.30" y="89.20" font-size="9.0" text-anchor="start" >2009</text>
<rect x="146.70" y="84.80" width="2.40" height="2.40" fill="#1ad858" stroke="#021206" stroke-width="0.6"/>
<text x="152.30" y="89.20" font-size="9.0" text-anchor="start" >2018</text>
<circle cx="270.50" cy="85.80" r="1.25" fill="#f20000" stroke="#200000" stroke-width="0.5"/>
<text x="275.30" y="89.00" font-size="9.0" text-anchor="start" >1999</text>
<path d="M299.80 84.30L301.30 85.80L299.80 87.30L298.30 85.80Z" fill="#3d76b4" stroke="#081220" stroke-width="0.65"/>
<text x="304.30" y="89.00" font-size="9.0" text-anchor="start" >2009</text>
<rect x="327.80" y="84.60" width="2.40" height="2.40" fill="#1ad858" stroke="#021206" stroke-width="0.6"/>
<text x="333.80" y="89.00" font-size="9.0" text-anchor="start" >2018</text>
<circle cx="458.30" cy="87.00" r="1.25" fill="#f20000" stroke="#200000" stroke-width="0.5"/>
<text x="463.30" y="90.20" font-size="9.0" text-anchor="start" >1999</text>
<path d="M486.50 85.50L488.00 87.00L486.50 88.50L485.00 87.00Z" fill="#3d76b4" stroke="#081220" stroke-width="0.65"/>
<text x="491.00" y="90.20" font-size="9.0" text-anchor="start" >2009</text>
<rect x="513.00" y="85.80" width="2.40" height="2.40" fill="#1ad858" stroke="#021206" stroke-width="0.6"/>
<text x="518.80" y="90.20" font-size="9.0" text-anchor="start" >2018</text>
<circle cx="73.26" cy="29.49" r="1.5" fill="#f20000" stroke="#200000" stroke-width="0.65"/>
<circle cx="74.50" cy="27.74" r="1.5" fill="#f20000" stroke="#200000" stroke-width="0.65"/>
<circle cx="73.19" cy="29.37" r="1.5" fill="#f20000" stroke="#200000" stroke-width="0.65"/>
<circle cx="71.16" cy="31.66" r="1.5" fill="#f20000" stroke="#200000" stroke-width="0.65"/>
<circle cx="80.10" cy="26.12" r="1.5" fill="#f20000" stroke="#200000" stroke-width="0.65"/>
<circle cx="54.25" cy="35.32" r="1.5" fill="#f20000" stroke="#200000" stroke-width="0.65"/>
<circle cx="57.06" cy="33.99" r="1.5" fill="#f20000" stroke="#200000" stroke-width="0.65"/>
<circle cx="46.77" cy="36.81" r="1.5" fill="#f20000" stroke="#200000" stroke-width="0.65"/>
<circle cx="49.70" cy="38.46" r="1.5" fill="#f20000" stroke="#200000" stroke-width="0.65"/>
<circle cx="78.04" cy="27.42" r="1.5" fill="#f20000" stroke="#200000" stroke-width="0.65"/>
<circle cx="50.38" cy="38.52" r="1.5" fill="#f20000" stroke="#200000" stroke-width="0.65"/>
<circle cx="64.57" cy="31.71" r="1.5" fill="#f20000" stroke="#200000" stroke-width="0.65"/>
<circle cx="74.93" cy="28.01" r="1.5" fill="#f20000" stroke="#200000" stroke-width="0.65"/>
<circle cx="68.82" cy="30.85" r="1.5" fill="#f20000" stroke="#200000" stroke-width="0.65"/>
<circle cx="61.19" cy="33.59" r="1.5" fill="#f20000" stroke="#200000" stroke-width="0.65"/>
<circle cx="36.77" cy="45.36" r="1.5" fill="#f20000" stroke="#200000" stroke-width="0.65"/>
<circle cx="54.86" cy="35.52" r="1.5" fill="#f20000" stroke="#200000" stroke-width="0.65"/>
<circle cx="46.84" cy="40.07" r="1.5" fill="#f20000" stroke="#200000" stroke-width="0.65"/>
<circle cx="64.02" cy="31.98" r="1.5" fill="#f20000" stroke="#200000" stroke-width="0.65"/>
<circle cx="56.48" cy="36.43" r="1.5" fill="#f20000" stroke="#200000" stroke-width="0.65"/>
<circle cx="63.63" cy="32.85" r="1.5" fill="#f20000" stroke="#200000" stroke-width="0.65"/>
<circle cx="59.40" cy="33.67" r="1.5" fill="#f20000" stroke="#200000" stroke-width="0.65"/>
<circle cx="65.74" cy="30.62" r="1.5" fill="#f20000" stroke="#200000" stroke-width="0.65"/>
<circle cx="46.71" cy="37.67" r="1.5" fill="#f20000" stroke="#200000" stroke-width="0.65"/>
<circle cx="47.99" cy="37.77" r="1.5" fill="#f20000" stroke="#200000" stroke-width="0.65"/>
<circle cx="39.44" cy="39.66" r="1.5" fill="#f20000" stroke="#200000" stroke-width="0.65"/>
<circle cx="72.85" cy="28.48" r="1.5" fill="#f20000" stroke="#200000" stroke-width="0.65"/>
<circle cx="66.35" cy="30.53" r="1.5" fill="#f20000" stroke="#200000" stroke-width="0.65"/>
<circle cx="43.23" cy="37.39" r="1.5" fill="#f20000" stroke="#200000" stroke-width="0.65"/>
<circle cx="48.86" cy="36.30" r="1.5" fill="#f20000" stroke="#200000" stroke-width="0.65"/>
<circle cx="51.30" cy="33.93" r="1.5" fill="#f20000" stroke="#200000" stroke-width="0.65"/>
<circle cx="54.51" cy="34.31" r="1.5" fill="#f20000" stroke="#200000" stroke-width="0.65"/>
<circle cx="60.65" cy="34.11" r="1.5" fill="#f20000" stroke="#200000" stroke-width="0.65"/>
<circle cx="75.91" cy="27.29" r="1.5" fill="#f20000" stroke="#200000" stroke-width="0.65"/>
<circle cx="42.58" cy="37.81" r="1.5" fill="#f20000" stroke="#200000" stroke-width="0.65"/>
<circle cx="62.37" cy="34.72" r="1.5" fill="#f20000" stroke="#200000" stroke-width="0.65"/>
<circle cx="46.39" cy="36.61" r="1.5" fill="#f20000" stroke="#200000" stroke-width="0.65"/>
<circle cx="63.92" cy="33.14" r="1.5" fill="#f20000" stroke="#200000" stroke-width="0.65"/>
<circle cx="38.22" cy="44.29" r="1.5" fill="#f20000" stroke="#200000" stroke-width="0.65"/>
<circle cx="78.81" cy="28.47" r="1.5" fill="#f20000" stroke="#200000" stroke-width="0.65"/>
<circle cx="72.27" cy="29.10" r="1.5" fill="#f20000" stroke="#200000" stroke-width="0.65"/>
<circle cx="60.59" cy="33.32" r="1.5" fill="#f20000" stroke="#200000" stroke-width="0.65"/>
<circle cx="45.53" cy="37.37" r="1.5" fill="#f20000" stroke="#200000" stroke-width="0.65"/>
<circle cx="44.95" cy="39.09" r="1.5" fill="#f20000" stroke="#200000" stroke-width="0.65"/>
<circle cx="50.01" cy="35.61" r="1.5" fill="#f20000" stroke="#200000" stroke-width="0.65"/>
<circle cx="74.20" cy="28.36" r="1.5" fill="#f20000" stroke="#200000" stroke-width="0.65"/>
<circle cx="81.63" cy="27.91" r="1.5" fill="#f20000" stroke="#200000" stroke-width="0.65"/>
<circle cx="69.45" cy="32.43" r="1.5" fill="#f20000" stroke="#200000" stroke-width="0.65"/>
<circle cx="46.96" cy="34.17" r="1.5" fill="#f20000" stroke="#200000" stroke-width="0.65"/>
<circle cx="45.88" cy="38.21" r="1.5" fill="#f20000" stroke="#200000" stroke-width="0.65"/>
<circle cx="77.10" cy="27.75" r="1.5" fill="#f20000" stroke="#200000" stroke-width="0.65"/>
<circle cx="79.40" cy="27.59" r="1.5" fill="#f20000" stroke="#200000" stroke-width="0.65"/>
<circle cx="40.48" cy="38.94" r="1.5" fill="#f20000" stroke="#200000" stroke-width="0.65"/>
<circle cx="76.48" cy="28.68" r="1.5" fill="#f20000" stroke="#200000" stroke-width="0.65"/>
<circle cx="74.16" cy="29.39" r="1.5" fill="#f20000" stroke="#200000" stroke-width="0.65"/>
<circle cx="46.42" cy="35.76" r="1.5" fill="#f20000" stroke="#200000" stroke-width="0.65"/>
<circle cx="49.08" cy="38.56" r="1.5" fill="#f20000" stroke="#200000" stroke-width="0.65"/>
<circle cx="39.86" cy="42.79" r="1.5" fill="#f20000" stroke="#200000" stroke-width="0.65"/>
<circle cx="41.04" cy="39.28" r="1.5" fill="#f20000" stroke="#200000" stroke-width="0.65"/>
<circle cx="72.28" cy="31.11" r="1.5" fill="#f20000" stroke="#200000" stroke-width="0.65"/>
<circle cx="80.49" cy="26.59" r="1.5" fill="#f20000" stroke="#200000" stroke-width="0.65"/>
<circle cx="59.01" cy="34.80" r="1.5" fill="#f20000" stroke="#200000" stroke-width="0.65"/>
<circle cx="37.27" cy="45.00" r="1.5" fill="#f20000" stroke="#200000" stroke-width="0.65"/>
<circle cx="49.99" cy="36.28" r="1.5" fill="#f20000" stroke="#200000" stroke-width="0.65"/>
<circle cx="50.87" cy="38.52" r="1.5" fill="#f20000" stroke="#200000" stroke-width="0.65"/>
<circle cx="40.83" cy="41.09" r="1.5" fill="#f20000" stroke="#200000" stroke-width="0.65"/>
<circle cx="48.18" cy="35.32" r="1.5" fill="#f20000" stroke="#200000" stroke-width="0.65"/>
<circle cx="47.55" cy="35.11" r="1.5" fill="#f20000" stroke="#200000" stroke-width="0.65"/>
<circle cx="82.05" cy="26.34" r="1.5" fill="#f20000" stroke="#200000" stroke-width="0.65"/>
<circle cx="51.56" cy="37.97" r="1.5" fill="#f20000" stroke="#200000" stroke-width="0.65"/>
<circle cx="79.71" cy="26.98" r="1.5" fill="#f20000" stroke="#200000" stroke-width="0.65"/>
<circle cx="64.92" cy="30.89" r="1.5" fill="#f20000" stroke="#200000" stroke-width="0.65"/>
<circle cx="47.41" cy="37.07" r="1.5" fill="#f20000" stroke="#200000" stroke-width="0.65"/>
<circle cx="38.82" cy="42.79" r="1.5" fill="#f20000" stroke="#200000" stroke-width="0.65"/>
<circle cx="49.75" cy="36.52" r="1.5" fill="#f20000" stroke="#200000" stroke-width="0.65"/>
<circle cx="78.17" cy="27.78" r="1.5" fill="#f20000" stroke="#200000" stroke-width="0.65"/>
<circle cx="74.81" cy="30.21" r="1.5" fill="#f20000" stroke="#200000" stroke-width="0.65"/>
<circle cx="43.91" cy="41.42" r="1.5" fill="#f20000" stroke="#200000" stroke-width="0.65"/>
<circle cx="76.13" cy="27.46" r="1.5" fill="#f20000" stroke="#200000" stroke-width="0.65"/>
<circle cx="44.15" cy="36.67" r="1.5" fill="#f20000" stroke="#200000" stroke-width="0.65"/>
<circle cx="47.85" cy="39.78" r="1.5" fill="#f20000" stroke="#200000" stroke-width="0.65"/>
<circle cx="57.83" cy="34.12" r="1.5" fill="#f20000" stroke="#200000" stroke-width="0.65"/>
<circle cx="48.12" cy="37.58" r="1.5" fill="#f20000" stroke="#200000" stroke-width="0.65"/>
<circle cx="38.40" cy="41.93" r="1.5" fill="#f20000" stroke="#200000" stroke-width="0.65"/>
<circle cx="41.52" cy="41.70" r="1.5" fill="#f20000" stroke="#200000" stroke-width="0.65"/>
<circle cx="55.07" cy="35.90" r="1.5" fill="#f20000" stroke="#200000" stroke-width="0.65"/>
<circle cx="46.91" cy="37.19" r="1.5" fill="#f20000" stroke="#200000" stroke-width="0.65"/>
<circle cx="71.65" cy="30.05" r="1.5" fill="#f20000" stroke="#200000" stroke-width="0.65"/>
<circle cx="59.10" cy="33.98" r="1.5" fill="#f20000" stroke="#200000" stroke-width="0.65"/>
<circle cx="80.91" cy="27.48" r="1.5" fill="#f20000" stroke="#200000" stroke-width="0.65"/>
<circle cx="37.70" cy="43.84" r="1.5" fill="#f20000" stroke="#200000" stroke-width="0.65"/>
<circle cx="78.91" cy="28.22" r="1.5" fill="#f20000" stroke="#200000" stroke-width="0.65"/>
<circle cx="79.19" cy="27.98" r="1.5" fill="#f20000" stroke="#200000" stroke-width="0.65"/>
<circle cx="77.49" cy="28.52" r="1.5" fill="#f20000" stroke="#200000" stroke-width="0.65"/>
<circle cx="44.06" cy="37.07" r="1.5" fill="#f20000" stroke="#200000" stroke-width="0.65"/>
<circle cx="70.94" cy="30.37" r="1.5" fill="#f20000" stroke="#200000" stroke-width="0.65"/>
<circle cx="43.49" cy="36.52" r="1.5" fill="#f20000" stroke="#200000" stroke-width="0.65"/>
<circle cx="66.53" cy="33.15" r="1.5" fill="#f20000" stroke="#200000" stroke-width="0.65"/>
<circle cx="82.98" cy="27.34" r="1.5" fill="#f20000" stroke="#200000" stroke-width="0.65"/>
<circle cx="70.11" cy="32.01" r="1.5" fill="#f20000" stroke="#200000" stroke-width="0.65"/>
<circle cx="43.49" cy="36.98" r="1.5" fill="#f20000" stroke="#200000" stroke-width="0.65"/>
<circle cx="41.22" cy="39.92" r="1.5" fill="#f20000" stroke="#200000" stroke-width="0.65"/>
<circle cx="41.17" cy="39.22" r="1.5" fill="#f20000" stroke="#200000" stroke-width="0.65"/>
<circle cx="72.55" cy="28.81" r="1.5" fill="#f20000" stroke="#200000" stroke-width="0.65"/>
<circle cx="57.11" cy="35.36" r="1.5" fill="#f20000" stroke="#200000" stroke-width="0.65"/>
<circle cx="45.57" cy="38.02" r="1.5" fill="#f20000" stroke="#200000" stroke-width="0.65"/>
<circle cx="48.88" cy="35.04" r="1.5" fill="#f20000" stroke="#200000" stroke-width="0.65"/>
<circle cx="63.66" cy="32.16" r="1.5" fill="#f20000" stroke="#200000" stroke-width="0.65"/>
<circle cx="42.09" cy="40.18" r="1.5" fill="#f20000" stroke="#200000" stroke-width="0.65"/>
<circle cx="50.77" cy="35.69" r="1.5" fill="#f20000" stroke="#200000" stroke-width="0.65"/>
<circle cx="61.56" cy="33.33" r="1.5" fill="#f20000" stroke="#200000" stroke-width="0.65"/>
<circle cx="57.64" cy="34.39" r="1.5" fill="#f20000" stroke="#200000" stroke-width="0.65"/>
<circle cx="54.06" cy="33.59" r="1.5" fill="#f20000" stroke="#200000" stroke-width="0.65"/>
<circle cx="49.10" cy="38.88" r="1.5" fill="#f20000" stroke="#200000" stroke-width="0.65"/>
<circle cx="50.48" cy="37.12" r="1.5" fill="#f20000" stroke="#200000" stroke-width="0.65"/>
<circle cx="61.69" cy="31.95" r="1.5" fill="#f20000" stroke="#200000" stroke-width="0.65"/>
<circle cx="54.64" cy="35.17" r="1.5" fill="#f20000" stroke="#200000" stroke-width="0.65"/>
<circle cx="65.39" cy="31.49" r="1.5" fill="#f20000" stroke="#200000" stroke-width="0.65"/>
<circle cx="62.35" cy="34.29" r="1.5" fill="#f20000" stroke="#200000" stroke-width="0.65"/>
<circle cx="59.38" cy="32.70" r="1.5" fill="#f20000" stroke="#200000" stroke-width="0.65"/>
<circle cx="56.30" cy="35.73" r="1.5" fill="#f20000" stroke="#200000" stroke-width="0.65"/>
<circle cx="65.37" cy="31.32" r="1.5" fill="#f20000" stroke="#200000" stroke-width="0.65"/>
<circle cx="79.34" cy="26.44" r="1.5" fill="#f20000" stroke="#200000" stroke-width="0.65"/>
<circle cx="53.60" cy="36.83" r="1.5" fill="#f20000" stroke="#200000" stroke-width="0.65"/>
<circle cx="43.68" cy="40.04" r="1.5" fill="#f20000" stroke="#200000" stroke-width="0.65"/>
<circle cx="75.81" cy="28.90" r="1.5" fill="#f20000" stroke="#200000" stroke-width="0.65"/>
<circle cx="46.84" cy="34.85" r="1.5" fill="#f20000" stroke="#200000" stroke-width="0.65"/>
<circle cx="51.68" cy="38.50" r="1.5" fill="#f20000" stroke="#200000" stroke-width="0.65"/>
<circle cx="66.24" cy="31.72" r="1.5" fill="#f20000" stroke="#200000" stroke-width="0.65"/>
<circle cx="44.74" cy="36.29" r="1.5" fill="#f20000" stroke="#200000" stroke-width="0.65"/>
<circle cx="65.43" cy="32.30" r="1.5" fill="#f20000" stroke="#200000" stroke-width="0.65"/>
<circle cx="42.19" cy="40.82" r="1.5" fill="#f20000" stroke="#200000" stroke-width="0.65"/>
<circle cx="47.25" cy="38.31" r="1.5" fill="#f20000" stroke="#200000" stroke-width="0.65"/>
<circle cx="50.48" cy="35.95" r="1.5" fill="#f20000" stroke="#200000" stroke-width="0.65"/>
<circle cx="59.77" cy="33.05" r="1.5" fill="#f20000" stroke="#200000" stroke-width="0.65"/>
<circle cx="79.48" cy="26.30" r="1.5" fill="#f20000" stroke="#200000" stroke-width="0.65"/>
<circle cx="40.03" cy="41.03" r="1.5" fill="#f20000" stroke="#200000" stroke-width="0.65"/>
<circle cx="54.08" cy="34.55" r="1.5" fill="#f20000" stroke="#200000" stroke-width="0.65"/>
<circle cx="64.12" cy="33.33" r="1.5" fill="#f20000" stroke="#200000" stroke-width="0.65"/>
<circle cx="51.71" cy="38.23" r="1.5" fill="#f20000" stroke="#200000" stroke-width="0.65"/>
<circle cx="84.72" cy="27.19" r="1.5" fill="#f20000" stroke="#200000" stroke-width="0.65"/>
<circle cx="77.92" cy="27.58" r="1.5" fill="#f20000" stroke="#200000" stroke-width="0.65"/>
<circle cx="73.00" cy="30.83" r="1.5" fill="#f20000" stroke="#200000" stroke-width="0.65"/>
<circle cx="68.34" cy="30.83" r="1.5" fill="#f20000" stroke="#200000" stroke-width="0.65"/>
<circle cx="41.76" cy="41.64" r="1.5" fill="#f20000" stroke="#200000" stroke-width="0.65"/>
<circle cx="80.33" cy="26.15" r="1.5" fill="#f20000" stroke="#200000" stroke-width="0.65"/>
<circle cx="77.08" cy="27.59" r="1.5" fill="#f20000" stroke="#200000" stroke-width="0.65"/>
<circle cx="41.14" cy="38.24" r="1.5" fill="#f20000" stroke="#200000" stroke-width="0.65"/>
<circle cx="68.25" cy="31.67" r="1.5" fill="#f20000" stroke="#200000" stroke-width="0.65"/>
<circle cx="47.38" cy="39.75" r="1.5" fill="#f20000" stroke="#200000" stroke-width="0.65"/>
<circle cx="64.65" cy="32.81" r="1.5" fill="#f20000" stroke="#200000" stroke-width="0.65"/>
<circle cx="38.32" cy="42.77" r="1.5" fill="#f20000" stroke="#200000" stroke-width="0.65"/>
<circle cx="47.80" cy="34.20" r="1.5" fill="#f20000" stroke="#200000" stroke-width="0.65"/>
<circle cx="77.65" cy="26.95" r="1.5" fill="#f20000" stroke="#200000" stroke-width="0.65"/>
<circle cx="57.33" cy="34.47" r="1.5" fill="#f20000" stroke="#200000" stroke-width="0.65"/>
<circle cx="39.56" cy="40.94" r="1.5" fill="#f20000" stroke="#200000" stroke-width="0.65"/>
<circle cx="71.71" cy="28.90" r="1.5" fill="#f20000" stroke="#200000" stroke-width="0.65"/>
<circle cx="77.84" cy="27.71" r="1.5" fill="#f20000" stroke="#200000" stroke-width="0.65"/>
<circle cx="47.50" cy="35.48" r="1.5" fill="#f20000" stroke="#200000" stroke-width="0.65"/>
<circle cx="49.78" cy="35.84" r="1.5" fill="#f20000" stroke="#200000" stroke-width="0.65"/>
<circle cx="61.20" cy="33.14" r="1.5" fill="#f20000" stroke="#200000" stroke-width="0.65"/>
<circle cx="63.87" cy="33.73" r="1.5" fill="#f20000" stroke="#200000" stroke-width="0.65"/>
<circle cx="67.66" cy="30.80" r="1.5" fill="#f20000" stroke="#200000" stroke-width="0.65"/>
<circle cx="52.83" cy="37.11" r="1.5" fill="#f20000" stroke="#200000" stroke-width="0.65"/>
<circle cx="51.48" cy="34.13" r="1.5" fill="#f20000" stroke="#200000" stroke-width="0.65"/>
<circle cx="75.13" cy="28.91" r="1.5" fill="#f20000" stroke="#200000" stroke-width="0.65"/>
<circle cx="72.41" cy="31.15" r="1.5" fill="#f20000" stroke="#200000" stroke-width="0.65"/>
<circle cx="67.28" cy="31.47" r="1.5" fill="#f20000" stroke="#200000" stroke-width="0.65"/>
<circle cx="43.64" cy="39.91" r="1.5" fill="#f20000" stroke="#200000" stroke-width="0.65"/>
<circle cx="44.47" cy="39.70" r="1.5" fill="#f20000" stroke="#200000" stroke-width="0.65"/>
<circle cx="37.79" cy="43.78" r="1.5" fill="#f20000" stroke="#200000" stroke-width="0.65"/>
<circle cx="48.51" cy="35.06" r="1.5" fill="#f20000" stroke="#200000" stroke-width="0.65"/>
<circle cx="39.20" cy="43.16" r="1.5" fill="#f20000" stroke="#200000" stroke-width="0.65"/>
<path d="M45.11 73.87L46.76 75.52L45.11 77.17L43.46 75.52Z" fill="#3d76b4" stroke="#081220" stroke-width="0.85"/>
<path d="M52.71 65.16L54.36 66.81L52.71 68.46L51.06 66.81Z" fill="#3d76b4" stroke="#081220" stroke-width="0.85"/>
<path d="M60.95 59.52L62.60 61.17L60.95 62.82L59.30 61.17Z" fill="#3d76b4" stroke="#081220" stroke-width="0.85"/>
<path d="M55.28 66.65L56.93 68.30L55.28 69.95L53.63 68.30Z" fill="#3d76b4" stroke="#081220" stroke-width="0.85"/>
<path d="M56.83 58.37L58.48 60.02L56.83 61.67L55.18 60.02Z" fill="#3d76b4" stroke="#081220" stroke-width="0.85"/>
<path d="M44.23 70.88L45.88 72.53L44.23 74.18L42.58 72.53Z" fill="#3d76b4" stroke="#081220" stroke-width="0.85"/>
<path d="M59.28 58.95L60.93 60.60L59.28 62.25L57.63 60.60Z" fill="#3d76b4" stroke="#081220" stroke-width="0.85"/>
<path d="M44.12 69.69L45.77 71.34L44.12 72.99L42.47 71.34Z" fill="#3d76b4" stroke="#081220" stroke-width="0.85"/>
<path d="M63.77 60.69L65.42 62.34L63.77 63.99L62.12 62.34Z" fill="#3d76b4" stroke="#081220" stroke-width="0.85"/>
<path d="M67.25 58.90L68.90 60.55L67.25 62.20L65.60 60.55Z" fill="#3d76b4" stroke="#081220" stroke-width="0.85"/>
<path d="M57.33 61.53L58.98 63.18L57.33 64.83L55.68 63.18Z" fill="#3d76b4" stroke="#081220" stroke-width="0.85"/>
<path d="M57.32 64.69L58.97 66.34L57.32 67.99L55.67 66.34Z" fill="#3d76b4" stroke="#081220" stroke-width="0.85"/>
<path d="M65.26 56.72L66.91 58.37L65.26 60.02L63.61 58.37Z" fill="#3d76b4" stroke="#081220" stroke-width="0.85"/>
<path d="M53.20 60.99L54.85 62.64L53.20 64.29L51.55 62.64Z" fill="#3d76b4" stroke="#081220" stroke-width="0.85"/>
<path d="M58.63 62.05L60.28 63.70L58.63 65.35L56.98 63.70Z" fill="#3d76b4" stroke="#081220" stroke-width="0.85"/>
<path d="M61.16 58.09L62.81 59.74L61.16 61.39L59.51 59.74Z" fill="#3d76b4" stroke="#081220" stroke-width="0.85"/>
<path d="M62.22 61.19L63.87 62.84L62.22 64.49L60.57 62.84Z" fill="#3d76b4" stroke="#081220" stroke-width="0.85"/>
<path d="M49.18 62.52L50.83 64.17L49.18 65.82L47.53 64.17Z" fill="#3d76b4" stroke="#081220" stroke-width="0.85"/>
<path d="M63.12 57.51L64.77 59.16L63.12 60.81L61.47 59.16Z" fill="#3d76b4" stroke="#081220" stroke-width="0.85"/>
<path d="M69.84 56.51L71.49 58.16L69.84 59.81L68.19 58.16Z" fill="#3d76b4" stroke="#081220" stroke-width="0.85"/>
<path d="M49.76 65.40L51.41 67.05L49.76 68.70L48.11 67.05Z" fill="#3d76b4" stroke="#081220" stroke-width="0.85"/>
<path d="M65.05 57.45L66.70 59.10L65.05 60.75L63.40 59.10Z" fill="#3d76b4" stroke="#081220" stroke-width="0.85"/>
<path d="M48.59 63.33L50.24 64.98L48.59 66.63L46.94 64.98Z" fill="#3d76b4" stroke="#081220" stroke-width="0.85"/>
<path d="M72.23 55.92L73.88 57.57L72.23 59.22L70.58 57.57Z" fill="#3d76b4" stroke="#081220" stroke-width="0.85"/>
<path d="M44.04 74.81L45.69 76.46L44.04 78.11L42.39 76.46Z" fill="#3d76b4" stroke="#081220" stroke-width="0.85"/>
<path d="M48.14 69.42L49.79 71.07L48.14 72.72L46.49 71.07Z" fill="#3d76b4" stroke="#081220" stroke-width="0.85"/>
<path d="M55.04 66.79L56.69 68.44L55.04 70.09L53.39 68.44Z" fill="#3d76b4" stroke="#081220" stroke-width="0.85"/>
<path d="M47.97 66.37L49.62 68.02L47.97 69.67L46.32 68.02Z" fill="#3d76b4" stroke="#081220" stroke-width="0.85"/>
<path d="M46.82 64.62L48.47 66.27L46.82 67.92L45.17 66.27Z" fill="#3d76b4" stroke="#081220" stroke-width="0.85"/>
<path d="M56.95 63.57L58.60 65.22L56.95 66.87L55.30 65.22Z" fill="#3d76b4" stroke="#081220" stroke-width="0.85"/>
<path d="M57.68 62.61L59.33 64.26L57.68 65.91L56.03 64.26Z" fill="#3d76b4" stroke="#081220" stroke-width="0.85"/>
<path d="M52.95 63.60L54.60 65.25L52.95 66.90L51.30 65.25Z" fill="#3d76b4" stroke="#081220" stroke-width="0.85"/>
<path d="M69.82 56.62L71.47 58.27L69.82 59.92L68.17 58.27Z" fill="#3d76b4" stroke="#081220" stroke-width="0.85"/>
<path d="M55.27 59.74L56.92 61.39L55.27 63.04L53.62 61.39Z" fill="#3d76b4" stroke="#081220" stroke-width="0.85"/>
<path d="M61.70 56.79L63.35 58.44L61.70 60.09L60.05 58.44Z" fill="#3d76b4" stroke="#081220" stroke-width="0.85"/>
<path d="M60.25 57.44L61.90 59.09L60.25 60.74L58.60 59.09Z" fill="#3d76b4" stroke="#081220" stroke-width="0.85"/>
<path d="M44.41 68.87L46.06 70.52L44.41 72.17L42.76 70.52Z" fill="#3d76b4" stroke="#081220" stroke-width="0.85"/>
<path d="M62.58 61.90L64.23 63.55L62.58 65.20L60.93 63.55Z" fill="#3d76b4" stroke="#081220" stroke-width="0.85"/>
<path d="M50.42 63.30L52.07 64.95L50.42 66.60L48.77 64.95Z" fill="#3d76b4" stroke="#081220" stroke-width="0.85"/>
<path d="M61.26 61.62L62.91 63.27L61.26 64.92L59.61 63.27Z" fill="#3d76b4" stroke="#081220" stroke-width="0.85"/>
<path d="M64.83 57.83L66.48 59.48L64.83 61.13L63.18 59.48Z" fill="#3d76b4" stroke="#081220" stroke-width="0.85"/>
<path d="M59.29 57.60L60.94 59.25L59.29 60.90L57.64 59.25Z" fill="#3d76b4" stroke="#081220" stroke-width="0.85"/>
<path d="M55.74 64.16L57.39 65.81L55.74 67.46L54.09 65.81Z" fill="#3d76b4" stroke="#081220" stroke-width="0.85"/>
<path d="M50.67 62.51L52.32 64.16L50.67 65.81L49.02 64.16Z" fill="#3d76b4" stroke="#081220" stroke-width="0.85"/>
<path d="M50.39 65.86L52.04 67.51L50.39 69.16L48.74 67.51Z" fill="#3d76b4" stroke="#081220" stroke-width="0.85"/>
<path d="M57.42 62.60L59.07 64.25L57.42 65.90L55.77 64.25Z" fill="#3d76b4" stroke="#081220" stroke-width="0.85"/>
<path d="M49.82 70.46L51.47 72.11L49.82 73.76L48.17 72.11Z" fill="#3d76b4" stroke="#081220" stroke-width="0.85"/>
<path d="M65.41 57.97L67.06 59.62L65.41 61.27L63.76 59.62Z" fill="#3d76b4" stroke="#081220" stroke-width="0.85"/>
<path d="M60.95 59.45L62.60 61.10L60.95 62.75L59.30 61.10Z" fill="#3d76b4" stroke="#081220" stroke-width="0.85"/>
<path d="M59.26 58.00L60.91 59.65L59.26 61.30L57.61 59.65Z" fill="#3d76b4" stroke="#081220" stroke-width="0.85"/>
<path d="M61.84 62.36L63.49 64.01L61.84 65.66L60.19 64.01Z" fill="#3d76b4" stroke="#081220" stroke-width="0.85"/>
<path d="M54.64 64.55L56.29 66.20L54.64 67.85L52.99 66.20Z" fill="#3d76b4" stroke="#081220" stroke-width="0.85"/>
<path d="M46.46 72.46L48.11 74.11L46.46 75.76L44.81 74.11Z" fill="#3d76b4" stroke="#081220" stroke-width="0.85"/>
<path d="M63.71 58.46L65.36 60.11L63.71 61.76L62.06 60.11Z" fill="#3d76b4" stroke="#081220" stroke-width="0.85"/>
<path d="M55.80 60.05L57.45 61.70L55.80 63.35L54.15 61.70Z" fill="#3d76b4" stroke="#081220" stroke-width="0.85"/>
<path d="M61.18 58.54L62.83 60.19L61.18 61.84L59.53 60.19Z" fill="#3d76b4" stroke="#081220" stroke-width="0.85"/>
<path d="M45.71 67.42L47.36 69.07L45.71 70.72L44.06 69.07Z" fill="#3d76b4" stroke="#081220" stroke-width="0.85"/>
<path d="M60.66 59.85L62.31 61.50L60.66 63.15L59.01 61.50Z" fill="#3d76b4" stroke="#081220" stroke-width="0.85"/>
<path d="M66.16 56.14L67.81 57.79L66.16 59.44L64.51 57.79Z" fill="#3d76b4" stroke="#081220" stroke-width="0.85"/>
<path d="M47.08 71.94L48.73 73.59L47.08 75.24L45.43 73.59Z" fill="#3d76b4" stroke="#081220" stroke-width="0.85"/>
<path d="M64.32 59.21L65.97 60.86L64.32 62.51L62.67 60.86Z" fill="#3d76b4" stroke="#081220" stroke-width="0.85"/>
<path d="M58.44 60.80L60.09 62.45L58.44 64.10L56.79 62.45Z" fill="#3d76b4" stroke="#081220" stroke-width="0.85"/>
<path d="M67.52 57.30L69.17 58.95L67.52 60.60L65.87 58.95Z" fill="#3d76b4" stroke="#081220" stroke-width="0.85"/>
<path d="M50.40 63.40L52.05 65.05L50.40 66.70L48.75 65.05Z" fill="#3d76b4" stroke="#081220" stroke-width="0.85"/>
<path d="M56.32 65.29L57.97 66.94L56.32 68.59L54.67 66.94Z" fill="#3d76b4" stroke="#081220" stroke-width="0.85"/>
<path d="M46.30 74.07L47.95 75.72L46.30 77.37L44.65 75.72Z" fill="#3d76b4" stroke="#081220" stroke-width="0.85"/>
<path d="M47.82 63.95L49.47 65.60L47.82 67.25L46.17 65.60Z" fill="#3d76b4" stroke="#081220" stroke-width="0.85"/>
<path d="M46.00 74.28L47.65 75.93L46.00 77.58L44.35 75.93Z" fill="#3d76b4" stroke="#081220" stroke-width="0.85"/>
<path d="M62.97 57.94L64.62 59.59L62.97 61.24L61.32 59.59Z" fill="#3d76b4" stroke="#081220" stroke-width="0.85"/>
<path d="M50.40 67.37L52.05 69.02L50.40 70.67L48.75 69.02Z" fill="#3d76b4" stroke="#081220" stroke-width="0.85"/>
<path d="M56.65 59.00L58.30 60.65L56.65 62.30L55.00 60.65Z" fill="#3d76b4" stroke="#081220" stroke-width="0.85"/>
<path d="M66.22 57.71L67.87 59.36L66.22 61.01L64.57 59.36Z" fill="#3d76b4" stroke="#081220" stroke-width="0.85"/>
<path d="M65.00 59.94L66.65 61.59L65.00 63.24L63.35 61.59Z" fill="#3d76b4" stroke="#081220" stroke-width="0.85"/>
<path d="M57.32 60.91L58.97 62.56L57.32 64.21L55.67 62.56Z" fill="#3d76b4" stroke="#081220" stroke-width="0.85"/>
<path d="M60.72 59.69L62.37 61.34L60.72 62.99L59.07 61.34Z" fill="#3d76b4" stroke="#081220" stroke-width="0.85"/>
<path d="M44.29 75.10L45.94 76.75L44.29 78.40L42.64 76.75Z" fill="#3d76b4" stroke="#081220" stroke-width="0.85"/>
<path d="M48.85 66.79L50.50 68.44L48.85 70.09L47.20 68.44Z" fill="#3d76b4" stroke="#081220" stroke-width="0.85"/>
<path d="M55.63 65.93L57.28 67.58L55.63 69.23L53.98 67.58Z" fill="#3d76b4" stroke="#081220" stroke-width="0.85"/>
<path d="M64.70 60.45L66.35 62.10L64.70 63.75L63.05 62.10Z" fill="#3d76b4" stroke="#081220" stroke-width="0.85"/>
<path d="M53.39 65.16L55.04 66.81L53.39 68.46L51.74 66.81Z" fill="#3d76b4" stroke="#081220" stroke-width="0.85"/>
<path d="M50.19 64.87L51.84 66.52L50.19 68.17L48.54 66.52Z" fill="#3d76b4" stroke="#081220" stroke-width="0.85"/>
<path d="M62.57 59.02L64.22 60.67L62.57 62.32L60.92 60.67Z" fill="#3d76b4" stroke="#081220" stroke-width="0.85"/>
<path d="M46.43 71.80L48.08 73.45L46.43 75.10L44.78 73.45Z" fill="#3d76b4" stroke="#081220" stroke-width="0.85"/>
<path d="M49.43 67.22L51.08 68.87L49.43 70.52L47.78 68.87Z" fill="#3d76b4" stroke="#081220" stroke-width="0.85"/>
<path d="M49.18 63.25L50.83 64.90L49.18 66.55L47.53 64.90Z" fill="#3d76b4" stroke="#081220" stroke-width="0.85"/>
<path d="M61.89 58.10L63.54 59.75L61.89 61.40L60.24 59.75Z" fill="#3d76b4" stroke="#081220" stroke-width="0.85"/>
<path d="M60.50 58.30L62.15 59.95L60.50 61.60L58.85 59.95Z" fill="#3d76b4" stroke="#081220" stroke-width="0.85"/>
<path d="M63.78 57.48L65.43 59.13L63.78 60.78L62.13 59.13Z" fill="#3d76b4" stroke="#081220" stroke-width="0.85"/>
<path d="M58.59 58.13L60.24 59.78L58.59 61.43L56.94 59.78Z" fill="#3d76b4" stroke="#081220" stroke-width="0.85"/>
<path d="M66.17 58.66L67.82 60.31L66.17 61.96L64.52 60.31Z" fill="#3d76b4" stroke="#081220" stroke-width="0.85"/>
<path d="M69.49 55.95L71.14 57.60L69.49 59.25L67.84 57.60Z" fill="#3d76b4" stroke="#081220" stroke-width="0.85"/>
<path d="M54.93 61.13L56.58 62.78L54.93 64.43L53.28 62.78Z" fill="#3d76b4" stroke="#081220" stroke-width="0.85"/>
<path d="M43.71 76.19L45.36 77.84L43.71 79.49L42.06 77.84Z" fill="#3d76b4" stroke="#081220" stroke-width="0.85"/>
<path d="M54.47 62.12L56.12 63.77L54.47 65.42L52.82 63.77Z" fill="#3d76b4" stroke="#081220" stroke-width="0.85"/>
<path d="M52.71 64.07L54.36 65.72L52.71 67.37L51.06 65.72Z" fill="#3d76b4" stroke="#081220" stroke-width="0.85"/>
<path d="M45.72 68.41L47.37 70.06L45.72 71.71L44.07 70.06Z" fill="#3d76b4" stroke="#081220" stroke-width="0.85"/>
<path d="M63.13 60.79L64.78 62.44L63.13 64.09L61.48 62.44Z" fill="#3d76b4" stroke="#081220" stroke-width="0.85"/>
<path d="M46.21 68.56L47.86 70.21L46.21 71.86L44.56 70.21Z" fill="#3d76b4" stroke="#081220" stroke-width="0.85"/>
<path d="M52.70 63.84L54.35 65.49L52.70 67.14L51.05 65.49Z" fill="#3d76b4" stroke="#081220" stroke-width="0.85"/>
<path d="M50.41 69.97L52.06 71.62L50.41 73.27L48.76 71.62Z" fill="#3d76b4" stroke="#081220" stroke-width="0.85"/>
<path d="M46.78 67.88L48.43 69.53L46.78 71.18L45.13 69.53Z" fill="#3d76b4" stroke="#081220" stroke-width="0.85"/>
<path d="M54.41 59.59L56.06 61.24L54.41 62.89L52.76 61.24Z" fill="#3d76b4" stroke="#081220" stroke-width="0.85"/>
<path d="M57.21 61.24L58.86 62.89L57.21 64.54L55.56 62.89Z" fill="#3d76b4" stroke="#081220" stroke-width="0.85"/>
<path d="M52.22 68.30L53.87 69.95L52.22 71.60L50.57 69.95Z" fill="#3d76b4" stroke="#081220" stroke-width="0.85"/>
<path d="M56.75 65.10L58.40 66.75L56.75 68.40L55.10 66.75Z" fill="#3d76b4" stroke="#081220" stroke-width="0.85"/>
<path d="M53.25 61.59L54.90 63.24L53.25 64.89L51.60 63.24Z" fill="#3d76b4" stroke="#081220" stroke-width="0.85"/>
<path d="M49.12 65.50L50.77 67.15L49.12 68.80L47.47 67.15Z" fill="#3d76b4" stroke="#081220" stroke-width="0.85"/>
<path d="M54.15 61.05L55.80 62.70L54.15 64.35L52.50 62.70Z" fill="#3d76b4" stroke="#081220" stroke-width="0.85"/>
<path d="M55.49 61.25L57.14 62.90L55.49 64.55L53.84 62.90Z" fill="#3d76b4" stroke="#081220" stroke-width="0.85"/>
<path d="M58.58 64.13L60.23 65.78L58.58 67.43L56.93 65.78Z" fill="#3d76b4" stroke="#081220" stroke-width="0.85"/>
<path d="M52.21 66.06L53.86 67.71L52.21 69.36L50.56 67.71Z" fill="#3d76b4" stroke="#081220" stroke-width="0.85"/>
<path d="M54.50 60.37L56.15 62.02L54.50 63.67L52.85 62.02Z" fill="#3d76b4" stroke="#081220" stroke-width="0.85"/>
<path d="M49.03 63.30L50.68 64.95L49.03 66.60L47.38 64.95Z" fill="#3d76b4" stroke="#081220" stroke-width="0.85"/>
<path d="M44.25 71.17L45.90 72.82L44.25 74.47L42.60 72.82Z" fill="#3d76b4" stroke="#081220" stroke-width="0.85"/>
<path d="M59.79 62.65L61.44 64.30L59.79 65.95L58.14 64.30Z" fill="#3d76b4" stroke="#081220" stroke-width="0.85"/>
<path d="M55.18 63.81L56.83 65.46L55.18 67.11L53.53 65.46Z" fill="#3d76b4" stroke="#081220" stroke-width="0.85"/>
<path d="M47.95 71.79L49.60 73.44L47.95 75.09L46.30 73.44Z" fill="#3d76b4" stroke="#081220" stroke-width="0.85"/>
<path d="M46.27 66.77L47.92 68.42L46.27 70.07L44.62 68.42Z" fill="#3d76b4" stroke="#081220" stroke-width="0.85"/>
<path d="M50.98 62.98L52.63 64.63L50.98 66.28L49.33 64.63Z" fill="#3d76b4" stroke="#081220" stroke-width="0.85"/>
<path d="M53.75 61.33L55.40 62.98L53.75 64.63L52.10 62.98Z" fill="#3d76b4" stroke="#081220" stroke-width="0.85"/>
<path d="M61.84 58.81L63.49 60.46L61.84 62.11L60.19 60.46Z" fill="#3d76b4" stroke="#081220" stroke-width="0.85"/>
<path d="M66.59 56.19L68.24 57.84L66.59 59.49L64.94 57.84Z" fill="#3d76b4" stroke="#081220" stroke-width="0.85"/>
<path d="M66.92 57.49L68.57 59.14L66.92 60.79L65.27 59.14Z" fill="#3d76b4" stroke="#081220" stroke-width="0.85"/>
<path d="M55.25 63.62L56.90 65.27L55.25 66.92L53.60 65.27Z" fill="#3d76b4" stroke="#081220" stroke-width="0.85"/>
<path d="M52.97 64.91L54.62 66.56L52.97 68.21L51.32 66.56Z" fill="#3d76b4" stroke="#081220" stroke-width="0.85"/>
<path d="M61.16 62.79L62.81 64.44L61.16 66.09L59.51 64.44Z" fill="#3d76b4" stroke="#081220" stroke-width="0.85"/>
<path d="M57.13 61.89L58.78 63.54L57.13 65.19L55.48 63.54Z" fill="#3d76b4" stroke="#081220" stroke-width="0.85"/>
<path d="M44.79 75.52L46.44 77.17L44.79 78.82L43.14 77.17Z" fill="#3d76b4" stroke="#081220" stroke-width="0.85"/>
<path d="M47.27 70.17L48.92 71.82L47.27 73.47L45.62 71.82Z" fill="#3d76b4" stroke="#081220" stroke-width="0.85"/>
<path d="M71.04 55.95L72.69 57.60L71.04 59.25L69.39 57.60Z" fill="#3d76b4" stroke="#081220" stroke-width="0.85"/>
<path d="M67.50 55.98L69.15 57.63L67.50 59.28L65.85 57.63Z" fill="#3d76b4" stroke="#081220" stroke-width="0.85"/>
<path d="M53.99 60.41L55.64 62.06L53.99 63.71L52.34 62.06Z" fill="#3d76b4" stroke="#081220" stroke-width="0.85"/>
<path d="M63.63 61.19L65.28 62.84L63.63 64.49L61.98 62.84Z" fill="#3d76b4" stroke="#081220" stroke-width="0.85"/>
<path d="M63.01 61.17L64.66 62.82L63.01 64.47L61.36 62.82Z" fill="#3d76b4" stroke="#081220" stroke-width="0.85"/>
<path d="M50.69 66.03L52.34 67.68L50.69 69.33L49.04 67.68Z" fill="#3d76b4" stroke="#081220" stroke-width="0.85"/>
<path d="M47.59 64.12L49.24 65.77L47.59 67.42L45.94 65.77Z" fill="#3d76b4" stroke="#081220" stroke-width="0.85"/>
<path d="M49.43 69.43L51.08 71.08L49.43 72.73L47.78 71.08Z" fill="#3d76b4" stroke="#081220" stroke-width="0.85"/>
<path d="M59.19 63.27L60.84 64.92L59.19 66.57L57.54 64.92Z" fill="#3d76b4" stroke="#081220" stroke-width="0.85"/>
<path d="M47.63 64.74L49.28 66.39L47.63 68.04L45.98 66.39Z" fill="#3d76b4" stroke="#081220" stroke-width="0.85"/>
<path d="M46.92 66.19L48.57 67.84L46.92 69.49L45.27 67.84Z" fill="#3d76b4" stroke="#081220" stroke-width="0.85"/>
<path d="M45.01 70.18L46.66 71.83L45.01 73.48L43.36 71.83Z" fill="#3d76b4" stroke="#081220" stroke-width="0.85"/>
<path d="M48.32 70.42L49.97 72.07L48.32 73.72L46.67 72.07Z" fill="#3d76b4" stroke="#081220" stroke-width="0.85"/>
<path d="M62.34 58.63L63.99 60.28L62.34 61.93L60.69 60.28Z" fill="#3d76b4" stroke="#081220" stroke-width="0.85"/>
<path d="M52.38 63.77L54.03 65.42L52.38 67.07L50.73 65.42Z" fill="#3d76b4" stroke="#081220" stroke-width="0.85"/>
<path d="M55.42 65.07L57.07 66.72L55.42 68.37L53.77 66.72Z" fill="#3d76b4" stroke="#081220" stroke-width="0.85"/>
<path d="M60.39 58.84L62.04 60.49L60.39 62.14L58.74 60.49Z" fill="#3d76b4" stroke="#081220" stroke-width="0.85"/>
<path d="M50.32 67.59L51.97 69.24L50.32 70.89L48.67 69.24Z" fill="#3d76b4" stroke="#081220" stroke-width="0.85"/>
<path d="M63.28 59.18L64.93 60.83L63.28 62.48L61.63 60.83Z" fill="#3d76b4" stroke="#081220" stroke-width="0.85"/>
<path d="M49.50 67.10L51.15 68.75L49.50 70.40L47.85 68.75Z" fill="#3d76b4" stroke="#081220" stroke-width="0.85"/>
<path d="M57.75 63.37L59.40 65.02L57.75 66.67L56.10 65.02Z" fill="#3d76b4" stroke="#081220" stroke-width="0.85"/>
<path d="M61.46 57.91L63.11 59.56L61.46 61.21L59.81 59.56Z" fill="#3d76b4" stroke="#081220" stroke-width="0.85"/>
<path d="M46.67 69.51L48.32 71.16L46.67 72.81L45.02 71.16Z" fill="#3d76b4" stroke="#081220" stroke-width="0.85"/>
<path d="M49.03 71.21L50.68 72.86L49.03 74.51L47.38 72.86Z" fill="#3d76b4" stroke="#081220" stroke-width="0.85"/>
<path d="M52.21 67.43L53.86 69.08L52.21 70.73L50.56 69.08Z" fill="#3d76b4" stroke="#081220" stroke-width="0.85"/>
<path d="M64.57 60.25L66.22 61.90L64.57 63.55L62.92 61.90Z" fill="#3d76b4" stroke="#081220" stroke-width="0.85"/>
<path d="M60.58 59.59L62.23 61.24L60.58 62.89L58.93 61.24Z" fill="#3d76b4" stroke="#081220" stroke-width="0.85"/>
<path d="M65.16 58.77L66.81 60.42L65.16 62.07L63.51 60.42Z" fill="#3d76b4" stroke="#081220" stroke-width="0.85"/>
<path d="M47.09 66.58L48.74 68.23L47.09 69.88L45.44 68.23Z" fill="#3d76b4" stroke="#081220" stroke-width="0.85"/>
<path d="M53.46 62.81L55.11 64.46L53.46 66.11L51.81 64.46Z" fill="#3d76b4" stroke="#081220" stroke-width="0.85"/>
<path d="M49.47 68.19L51.12 69.84L49.47 71.49L47.82 69.84Z" fill="#3d76b4" stroke="#081220" stroke-width="0.85"/>
<path d="M57.13 61.51L58.78 63.16L57.13 64.81L55.48 63.16Z" fill="#3d76b4" stroke="#081220" stroke-width="0.85"/>
<path d="M51.09 65.01L52.74 66.66L51.09 68.31L49.44 66.66Z" fill="#3d76b4" stroke="#081220" stroke-width="0.85"/>
<path d="M49.20 67.29L50.85 68.94L49.20 70.59L47.55 68.94Z" fill="#3d76b4" stroke="#081220" stroke-width="0.85"/>
<path d="M52.75 65.12L54.40 66.77L52.75 68.42L51.10 66.77Z" fill="#3d76b4" stroke="#081220" stroke-width="0.85"/>
<path d="M69.38 56.84L71.03 58.49L69.38 60.14L67.73 58.49Z" fill="#3d76b4" stroke="#081220" stroke-width="0.85"/>
<path d="M64.00 57.10L65.65 58.75L64.00 60.40L62.35 58.75Z" fill="#3d76b4" stroke="#081220" stroke-width="0.85"/>
<path d="M49.38 64.76L51.03 66.41L49.38 68.06L47.73 66.41Z" fill="#3d76b4" stroke="#081220" stroke-width="0.85"/>
<path d="M51.13 63.75L52.78 65.40L51.13 67.05L49.48 65.40Z" fill="#3d76b4" stroke="#081220" stroke-width="0.85"/>
<path d="M56.71 64.41L58.36 66.06L56.71 67.71L55.06 66.06Z" fill="#3d76b4" stroke="#081220" stroke-width="0.85"/>
<path d="M43.95 69.95L45.60 71.60L43.95 73.25L42.30 71.60Z" fill="#3d76b4" stroke="#081220" stroke-width="0.85"/>
<path d="M47.95 66.69L49.60 68.34L47.95 69.99L46.30 68.34Z" fill="#3d76b4" stroke="#081220" stroke-width="0.85"/>
<path d="M45.36 74.27L47.01 75.92L45.36 77.57L43.71 75.92Z" fill="#3d76b4" stroke="#081220" stroke-width="0.85"/>
<path d="M62.88 60.72L64.53 62.37L62.88 64.02L61.23 62.37Z" fill="#3d76b4" stroke="#081220" stroke-width="0.85"/>
<rect x="60.34" y="75.36" width="2.80" height="2.80" fill="#1ad858" stroke="#021206" stroke-width="0.75"/>
<rect x="82.56" y="62.87" width="2.80" height="2.80" fill="#1ad858" stroke="#021206" stroke-width="0.75"/>
<rect x="61.64" y="77.17" width="2.80" height="2.80" fill="#1ad858" stroke="#021206" stroke-width="0.75"/>
<rect x="74.44" y="68.37" width="2.80" height="2.80" fill="#1ad858" stroke="#021206" stroke-width="0.75"/>
<rect x="84.69" y="64.69" width="2.80" height="2.80" fill="#1ad858" stroke="#021206" stroke-width="0.75"/>
<rect x="98.59" y="59.84" width="2.80" height="2.80" fill="#1ad858" stroke="#021206" stroke-width="0.75"/>
<rect x="86.65" y="64.50" width="2.80" height="2.80" fill="#1ad858" stroke="#021206" stroke-width="0.75"/>
<rect x="81.78" y="62.96" width="2.80" height="2.80" fill="#1ad858" stroke="#021206" stroke-width="0.75"/>
<rect x="98.44" y="59.80" width="2.80" height="2.80" fill="#1ad858" stroke="#021206" stroke-width="0.75"/>
<rect x="101.81" y="59.19" width="2.80" height="2.80" fill="#1ad858" stroke="#021206" stroke-width="0.75"/>
<rect x="99.25" y="57.79" width="2.80" height="2.80" fill="#1ad858" stroke="#021206" stroke-width="0.75"/>
<rect x="72.38" y="68.57" width="2.80" height="2.80" fill="#1ad858" stroke="#021206" stroke-width="0.75"/>
<rect x="76.69" y="66.75" width="2.80" height="2.80" fill="#1ad858" stroke="#021206" stroke-width="0.75"/>
<rect x="81.41" y="67.15" width="2.80" height="2.80" fill="#1ad858" stroke="#021206" stroke-width="0.75"/>
<rect x="86.65" y="64.94" width="2.80" height="2.80" fill="#1ad858" stroke="#021206" stroke-width="0.75"/>
<rect x="80.44" y="64.31" width="2.80" height="2.80" fill="#1ad858" stroke="#021206" stroke-width="0.75"/>
<rect x="96.38" y="58.78" width="2.80" height="2.80" fill="#1ad858" stroke="#021206" stroke-width="0.75"/>
<rect x="49.75" y="83.36" width="2.80" height="2.80" fill="#1ad858" stroke="#021206" stroke-width="0.75"/>
<rect x="51.27" y="79.64" width="2.80" height="2.80" fill="#1ad858" stroke="#021206" stroke-width="0.75"/>
<rect x="55.05" y="79.73" width="2.80" height="2.80" fill="#1ad858" stroke="#021206" stroke-width="0.75"/>
<rect x="98.88" y="59.36" width="2.80" height="2.80" fill="#1ad858" stroke="#021206" stroke-width="0.75"/>
<rect x="48.63" y="80.66" width="2.80" height="2.80" fill="#1ad858" stroke="#021206" stroke-width="0.75"/>
<rect x="64.70" y="73.89" width="2.80" height="2.80" fill="#1ad858" stroke="#021206" stroke-width="0.75"/>
<rect x="47.80" y="81.52" width="2.80" height="2.80" fill="#1ad858" stroke="#021206" stroke-width="0.75"/>
<rect x="82.96" y="62.63" width="2.80" height="2.80" fill="#1ad858" stroke="#021206" stroke-width="0.75"/>
<rect x="98.57" y="60.54" width="2.80" height="2.80" fill="#1ad858" stroke="#021206" stroke-width="0.75"/>
<rect x="100.33" y="58.57" width="2.80" height="2.80" fill="#1ad858" stroke="#021206" stroke-width="0.75"/>
<rect x="77.47" y="67.50" width="2.80" height="2.80" fill="#1ad858" stroke="#021206" stroke-width="0.75"/>
<rect x="79.85" y="68.00" width="2.80" height="2.80" fill="#1ad858" stroke="#021206" stroke-width="0.75"/>
<rect x="76.68" y="68.43" width="2.80" height="2.80" fill="#1ad858" stroke="#021206" stroke-width="0.75"/>
<rect x="60.32" y="77.87" width="2.80" height="2.80" fill="#1ad858" stroke="#021206" stroke-width="0.75"/>
<rect x="77.53" y="64.80" width="2.80" height="2.80" fill="#1ad858" stroke="#021206" stroke-width="0.75"/>
<rect x="71.10" y="68.08" width="2.80" height="2.80" fill="#1ad858" stroke="#021206" stroke-width="0.75"/>
<rect x="83.28" y="62.61" width="2.80" height="2.80" fill="#1ad858" stroke="#021206" stroke-width="0.75"/>
<rect x="83.98" y="65.15" width="2.80" height="2.80" fill="#1ad858" stroke="#021206" stroke-width="0.75"/>
<rect x="67.30" y="72.96" width="2.80" height="2.80" fill="#1ad858" stroke="#021206" stroke-width="0.75"/>
<rect x="47.25" y="83.82" width="2.80" height="2.80" fill="#1ad858" stroke="#021206" stroke-width="0.75"/>
<rect x="104.37" y="58.14" width="2.80" height="2.80" fill="#1ad858" stroke="#021206" stroke-width="0.75"/>
<rect x="81.88" y="64.47" width="2.80" height="2.80" fill="#1ad858" stroke="#021206" stroke-width="0.75"/>
<rect x="64.88" y="73.77" width="2.80" height="2.80" fill="#1ad858" stroke="#021206" stroke-width="0.75"/>
<rect x="64.13" y="74.86" width="2.80" height="2.80" fill="#1ad858" stroke="#021206" stroke-width="0.75"/>
<rect x="47.53" y="83.59" width="2.80" height="2.80" fill="#1ad858" stroke="#021206" stroke-width="0.75"/>
<rect x="64.72" y="74.66" width="2.80" height="2.80" fill="#1ad858" stroke="#021206" stroke-width="0.75"/>
<rect x="60.39" y="75.60" width="2.80" height="2.80" fill="#1ad858" stroke="#021206" stroke-width="0.75"/>
<rect x="88.27" y="62.07" width="2.80" height="2.80" fill="#1ad858" stroke="#021206" stroke-width="0.75"/>
<rect x="56.18" y="78.71" width="2.80" height="2.80" fill="#1ad858" stroke="#021206" stroke-width="0.75"/>
<rect x="99.61" y="58.00" width="2.80" height="2.80" fill="#1ad858" stroke="#021206" stroke-width="0.75"/>
<rect x="53.24" y="77.61" width="2.80" height="2.80" fill="#1ad858" stroke="#021206" stroke-width="0.75"/>
<rect x="57.04" y="79.03" width="2.80" height="2.80" fill="#1ad858" stroke="#021206" stroke-width="0.75"/>
<rect x="84.87" y="63.35" width="2.80" height="2.80" fill="#1ad858" stroke="#021206" stroke-width="0.75"/>
<rect x="53.77" y="80.40" width="2.80" height="2.80" fill="#1ad858" stroke="#021206" stroke-width="0.75"/>
<rect x="62.36" y="74.45" width="2.80" height="2.80" fill="#1ad858" stroke="#021206" stroke-width="0.75"/>
<rect x="71.38" y="71.67" width="2.80" height="2.80" fill="#1ad858" stroke="#021206" stroke-width="0.75"/>
<rect x="55.37" y="80.43" width="2.80" height="2.80" fill="#1ad858" stroke="#021206" stroke-width="0.75"/>
<rect x="102.19" y="58.94" width="2.80" height="2.80" fill="#1ad858" stroke="#021206" stroke-width="0.75"/>
<rect x="96.69" y="59.54" width="2.80" height="2.80" fill="#1ad858" stroke="#021206" stroke-width="0.75"/>
<rect x="63.44" y="73.12" width="2.80" height="2.80" fill="#1ad858" stroke="#021206" stroke-width="0.75"/>
<rect x="50.03" y="79.67" width="2.80" height="2.80" fill="#1ad858" stroke="#021206" stroke-width="0.75"/>
<rect x="95.08" y="61.39" width="2.80" height="2.80" fill="#1ad858" stroke="#021206" stroke-width="0.75"/>
<rect x="80.92" y="66.60" width="2.80" height="2.80" fill="#1ad858" stroke="#021206" stroke-width="0.75"/>
<rect x="56.33" y="78.70" width="2.80" height="2.80" fill="#1ad858" stroke="#021206" stroke-width="0.75"/>
<rect x="77.77" y="68.93" width="2.80" height="2.80" fill="#1ad858" stroke="#021206" stroke-width="0.75"/>
<rect x="83.06" y="63.55" width="2.80" height="2.80" fill="#1ad858" stroke="#021206" stroke-width="0.75"/>
<rect x="98.20" y="60.07" width="2.80" height="2.80" fill="#1ad858" stroke="#021206" stroke-width="0.75"/>
<rect x="67.26" y="72.22" width="2.80" height="2.80" fill="#1ad858" stroke="#021206" stroke-width="0.75"/>
<rect x="95.48" y="60.81" width="2.80" height="2.80" fill="#1ad858" stroke="#021206" stroke-width="0.75"/>
<rect x="95.89" y="60.11" width="2.80" height="2.80" fill="#1ad858" stroke="#021206" stroke-width="0.75"/>
<rect x="98.26" y="58.39" width="2.80" height="2.80" fill="#1ad858" stroke="#021206" stroke-width="0.75"/>
<rect x="62.20" y="74.56" width="2.80" height="2.80" fill="#1ad858" stroke="#021206" stroke-width="0.75"/>
<rect x="74.61" y="66.18" width="2.80" height="2.80" fill="#1ad858" stroke="#021206" stroke-width="0.75"/>
<rect x="49.23" y="79.27" width="2.80" height="2.80" fill="#1ad858" stroke="#021206" stroke-width="0.75"/>
<rect x="97.77" y="59.25" width="2.80" height="2.80" fill="#1ad858" stroke="#021206" stroke-width="0.75"/>
<rect x="65.07" y="72.73" width="2.80" height="2.80" fill="#1ad858" stroke="#021206" stroke-width="0.75"/>
<rect x="85.17" y="63.31" width="2.80" height="2.80" fill="#1ad858" stroke="#021206" stroke-width="0.75"/>
<rect x="57.50" y="75.78" width="2.80" height="2.80" fill="#1ad858" stroke="#021206" stroke-width="0.75"/>
<rect x="79.62" y="65.49" width="2.80" height="2.80" fill="#1ad858" stroke="#021206" stroke-width="0.75"/>
<rect x="50.75" y="79.70" width="2.80" height="2.80" fill="#1ad858" stroke="#021206" stroke-width="0.75"/>
<rect x="82.59" y="64.30" width="2.80" height="2.80" fill="#1ad858" stroke="#021206" stroke-width="0.75"/>
<rect x="94.53" y="59.88" width="2.80" height="2.80" fill="#1ad858" stroke="#021206" stroke-width="0.75"/>
<rect x="68.51" y="72.15" width="2.80" height="2.80" fill="#1ad858" stroke="#021206" stroke-width="0.75"/>
<rect x="71.43" y="69.74" width="2.80" height="2.80" fill="#1ad858" stroke="#021206" stroke-width="0.75"/>
<rect x="60.78" y="76.45" width="2.80" height="2.80" fill="#1ad858" stroke="#021206" stroke-width="0.75"/>
<rect x="50.24" y="80.24" width="2.80" height="2.80" fill="#1ad858" stroke="#021206" stroke-width="0.75"/>
<rect x="93.91" y="60.27" width="2.80" height="2.80" fill="#1ad858" stroke="#021206" stroke-width="0.75"/>
<rect x="53.37" y="79.91" width="2.80" height="2.80" fill="#1ad858" stroke="#021206" stroke-width="0.75"/>
<rect x="86.42" y="63.75" width="2.80" height="2.80" fill="#1ad858" stroke="#021206" stroke-width="0.75"/>
<rect x="52.16" y="77.19" width="2.80" height="2.80" fill="#1ad858" stroke="#021206" stroke-width="0.75"/>
<rect x="54.61" y="76.41" width="2.80" height="2.80" fill="#1ad858" stroke="#021206" stroke-width="0.75"/>
<rect x="51.47" y="81.86" width="2.80" height="2.80" fill="#1ad858" stroke="#021206" stroke-width="0.75"/>
<rect x="56.77" y="79.33" width="2.80" height="2.80" fill="#1ad858" stroke="#021206" stroke-width="0.75"/>
<rect x="53.26" y="80.01" width="2.80" height="2.80" fill="#1ad858" stroke="#021206" stroke-width="0.75"/>
<rect x="81.05" y="63.22" width="2.80" height="2.80" fill="#1ad858" stroke="#021206" stroke-width="0.75"/>
<rect x="92.48" y="61.88" width="2.80" height="2.80" fill="#1ad858" stroke="#021206" stroke-width="0.75"/>
<rect x="52.38" y="81.72" width="2.80" height="2.80" fill="#1ad858" stroke="#021206" stroke-width="0.75"/>
<rect x="49.61" y="81.30" width="2.80" height="2.80" fill="#1ad858" stroke="#021206" stroke-width="0.75"/>
<rect x="96.16" y="58.44" width="2.80" height="2.80" fill="#1ad858" stroke="#021206" stroke-width="0.75"/>
<rect x="61.07" y="76.52" width="2.80" height="2.80" fill="#1ad858" stroke="#021206" stroke-width="0.75"/>
<rect x="69.80" y="70.31" width="2.80" height="2.80" fill="#1ad858" stroke="#021206" stroke-width="0.75"/>
<rect x="67.16" y="70.58" width="2.80" height="2.80" fill="#1ad858" stroke="#021206" stroke-width="0.75"/>
<rect x="70.96" y="68.74" width="2.80" height="2.80" fill="#1ad858" stroke="#021206" stroke-width="0.75"/>
<rect x="87.83" y="63.70" width="2.80" height="2.80" fill="#1ad858" stroke="#021206" stroke-width="0.75"/>
<rect x="77.29" y="67.80" width="2.80" height="2.80" fill="#1ad858" stroke="#021206" stroke-width="0.75"/>
<rect x="100.37" y="57.49" width="2.80" height="2.80" fill="#1ad858" stroke="#021206" stroke-width="0.75"/>
<rect x="77.30" y="68.14" width="2.80" height="2.80" fill="#1ad858" stroke="#021206" stroke-width="0.75"/>
<rect x="57.20" y="76.23" width="2.80" height="2.80" fill="#1ad858" stroke="#021206" stroke-width="0.75"/>
<rect x="81.45" y="64.01" width="2.80" height="2.80" fill="#1ad858" stroke="#021206" stroke-width="0.75"/>
<rect x="63.86" y="73.62" width="2.80" height="2.80" fill="#1ad858" stroke="#021206" stroke-width="0.75"/>
<rect x="97.72" y="58.47" width="2.80" height="2.80" fill="#1ad858" stroke="#021206" stroke-width="0.75"/>
<rect x="59.11" y="76.49" width="2.80" height="2.80" fill="#1ad858" stroke="#021206" stroke-width="0.75"/>
<rect x="69.13" y="70.51" width="2.80" height="2.80" fill="#1ad858" stroke="#021206" stroke-width="0.75"/>
<rect x="75.01" y="68.07" width="2.80" height="2.80" fill="#1ad858" stroke="#021206" stroke-width="0.75"/>
<rect x="79.72" y="67.03" width="2.80" height="2.80" fill="#1ad858" stroke="#021206" stroke-width="0.75"/>
<rect x="97.90" y="59.99" width="2.80" height="2.80" fill="#1ad858" stroke="#021206" stroke-width="0.75"/>
<rect x="59.84" y="77.08" width="2.80" height="2.80" fill="#1ad858" stroke="#021206" stroke-width="0.75"/>
<rect x="97.73" y="58.21" width="2.80" height="2.80" fill="#1ad858" stroke="#021206" stroke-width="0.75"/>
<rect x="61.60" y="76.02" width="2.80" height="2.80" fill="#1ad858" stroke="#021206" stroke-width="0.75"/>
<rect x="64.92" y="74.26" width="2.80" height="2.80" fill="#1ad858" stroke="#021206" stroke-width="0.75"/>
<rect x="51.12" y="81.80" width="2.80" height="2.80" fill="#1ad858" stroke="#021206" stroke-width="0.75"/>
<rect x="63.61" y="74.41" width="2.80" height="2.80" fill="#1ad858" stroke="#021206" stroke-width="0.75"/>
<rect x="86.90" y="62.60" width="2.80" height="2.80" fill="#1ad858" stroke="#021206" stroke-width="0.75"/>
<rect x="72.38" y="68.17" width="2.80" height="2.80" fill="#1ad858" stroke="#021206" stroke-width="0.75"/>
<rect x="69.63" y="69.31" width="2.80" height="2.80" fill="#1ad858" stroke="#021206" stroke-width="0.75"/>
<rect x="62.58" y="73.12" width="2.80" height="2.80" fill="#1ad858" stroke="#021206" stroke-width="0.75"/>
<rect x="91.87" y="62.00" width="2.80" height="2.80" fill="#1ad858" stroke="#021206" stroke-width="0.75"/>
<rect x="85.60" y="62.75" width="2.80" height="2.80" fill="#1ad858" stroke="#021206" stroke-width="0.75"/>
<rect x="86.74" y="61.71" width="2.80" height="2.80" fill="#1ad858" stroke="#021206" stroke-width="0.75"/>
<rect x="75.88" y="68.79" width="2.80" height="2.80" fill="#1ad858" stroke="#021206" stroke-width="0.75"/>
<rect x="87.09" y="61.89" width="2.80" height="2.80" fill="#1ad858" stroke="#021206" stroke-width="0.75"/>
<rect x="85.09" y="62.54" width="2.80" height="2.80" fill="#1ad858" stroke="#021206" stroke-width="0.75"/>
<rect x="53.37" y="77.31" width="2.80" height="2.80" fill="#1ad858" stroke="#021206" stroke-width="0.75"/>
<rect x="66.02" y="73.15" width="2.80" height="2.80" fill="#1ad858" stroke="#021206" stroke-width="0.75"/>
<rect x="79.58" y="65.87" width="2.80" height="2.80" fill="#1ad858" stroke="#021206" stroke-width="0.75"/>
<rect x="64.87" y="71.76" width="2.80" height="2.80" fill="#1ad858" stroke="#021206" stroke-width="0.75"/>
<rect x="89.35" y="62.60" width="2.80" height="2.80" fill="#1ad858" stroke="#021206" stroke-width="0.75"/>
<rect x="90.80" y="60.85" width="2.80" height="2.80" fill="#1ad858" stroke="#021206" stroke-width="0.75"/>
<rect x="48.46" y="80.31" width="2.80" height="2.80" fill="#1ad858" stroke="#021206" stroke-width="0.75"/>
<rect x="92.57" y="60.35" width="2.80" height="2.80" fill="#1ad858" stroke="#021206" stroke-width="0.75"/>
<rect x="70.38" y="71.51" width="2.80" height="2.80" fill="#1ad858" stroke="#021206" stroke-width="0.75"/>
<rect x="52.71" y="77.40" width="2.80" height="2.80" fill="#1ad858" stroke="#021206" stroke-width="0.75"/>
<rect x="52.74" y="80.52" width="2.80" height="2.80" fill="#1ad858" stroke="#021206" stroke-width="0.75"/>
<rect x="57.12" y="77.23" width="2.80" height="2.80" fill="#1ad858" stroke="#021206" stroke-width="0.75"/>
<rect x="91.35" y="60.14" width="2.80" height="2.80" fill="#1ad858" stroke="#021206" stroke-width="0.75"/>
<rect x="70.08" y="70.68" width="2.80" height="2.80" fill="#1ad858" stroke="#021206" stroke-width="0.75"/>
<rect x="80.40" y="64.52" width="2.80" height="2.80" fill="#1ad858" stroke="#021206" stroke-width="0.75"/>
<rect x="93.35" y="61.82" width="2.80" height="2.80" fill="#1ad858" stroke="#021206" stroke-width="0.75"/>
<rect x="69.16" y="71.35" width="2.80" height="2.80" fill="#1ad858" stroke="#021206" stroke-width="0.75"/>
<rect x="87.58" y="64.59" width="2.80" height="2.80" fill="#1ad858" stroke="#021206" stroke-width="0.75"/>
<rect x="75.28" y="69.10" width="2.80" height="2.80" fill="#1ad858" stroke="#021206" stroke-width="0.75"/>
<rect x="86.08" y="63.70" width="2.80" height="2.80" fill="#1ad858" stroke="#021206" stroke-width="0.75"/>
<rect x="73.85" y="68.87" width="2.80" height="2.80" fill="#1ad858" stroke="#021206" stroke-width="0.75"/>
<rect x="48.15" y="82.58" width="2.80" height="2.80" fill="#1ad858" stroke="#021206" stroke-width="0.75"/>
<circle cx="224.62" cy="41.30" r="1.5" fill="#f20000" stroke="#200000" stroke-width="0.65"/>
<circle cx="220.97" cy="42.92" r="1.5" fill="#f20000" stroke="#200000" stroke-width="0.65"/>
<circle cx="248.43" cy="32.93" r="1.5" fill="#f20000" stroke="#200000" stroke-width="0.65"/>
<circle cx="226.45" cy="36.76" r="1.5" fill="#f20000" stroke="#200000" stroke-width="0.65"/>
<circle cx="250.02" cy="31.00" r="1.5" fill="#f20000" stroke="#200000" stroke-width="0.65"/>
<circle cx="217.90" cy="48.41" r="1.5" fill="#f20000" stroke="#200000" stroke-width="0.65"/>
<circle cx="236.77" cy="38.36" r="1.5" fill="#f20000" stroke="#200000" stroke-width="0.65"/>
<circle cx="232.63" cy="39.43" r="1.5" fill="#f20000" stroke="#200000" stroke-width="0.65"/>
<circle cx="221.26" cy="48.16" r="1.5" fill="#f20000" stroke="#200000" stroke-width="0.65"/>
<circle cx="215.95" cy="50.46" r="1.5" fill="#f20000" stroke="#200000" stroke-width="0.65"/>
<circle cx="226.62" cy="41.13" r="1.5" fill="#f20000" stroke="#200000" stroke-width="0.65"/>
<circle cx="222.80" cy="39.85" r="1.5" fill="#f20000" stroke="#200000" stroke-width="0.65"/>
<circle cx="242.47" cy="35.01" r="1.5" fill="#f20000" stroke="#200000" stroke-width="0.65"/>
<circle cx="247.61" cy="33.48" r="1.5" fill="#f20000" stroke="#200000" stroke-width="0.65"/>
<circle cx="254.69" cy="28.92" r="1.5" fill="#f20000" stroke="#200000" stroke-width="0.65"/>
<circle cx="224.30" cy="44.18" r="1.5" fill="#f20000" stroke="#200000" stroke-width="0.65"/>
<circle cx="224.68" cy="38.58" r="1.5" fill="#f20000" stroke="#200000" stroke-width="0.65"/>
<circle cx="234.66" cy="40.95" r="1.5" fill="#f20000" stroke="#200000" stroke-width="0.65"/>
<circle cx="227.20" cy="40.48" r="1.5" fill="#f20000" stroke="#200000" stroke-width="0.65"/>
<circle cx="220.14" cy="50.70" r="1.5" fill="#f20000" stroke="#200000" stroke-width="0.65"/>
<circle cx="228.91" cy="35.55" r="1.5" fill="#f20000" stroke="#200000" stroke-width="0.65"/>
<circle cx="221.63" cy="42.20" r="1.5" fill="#f20000" stroke="#200000" stroke-width="0.65"/>
<circle cx="227.07" cy="47.11" r="1.5" fill="#f20000" stroke="#200000" stroke-width="0.65"/>
<circle cx="233.08" cy="36.36" r="1.5" fill="#f20000" stroke="#200000" stroke-width="0.65"/>
<circle cx="216.49" cy="50.60" r="1.5" fill="#f20000" stroke="#200000" stroke-width="0.65"/>
<circle cx="220.73" cy="44.17" r="1.5" fill="#f20000" stroke="#200000" stroke-width="0.65"/>
<circle cx="219.50" cy="48.47" r="1.5" fill="#f20000" stroke="#200000" stroke-width="0.65"/>
<circle cx="235.50" cy="38.51" r="1.5" fill="#f20000" stroke="#200000" stroke-width="0.65"/>
<circle cx="224.91" cy="39.13" r="1.5" fill="#f20000" stroke="#200000" stroke-width="0.65"/>
<circle cx="253.14" cy="29.09" r="1.5" fill="#f20000" stroke="#200000" stroke-width="0.65"/>
<circle cx="236.24" cy="36.80" r="1.5" fill="#f20000" stroke="#200000" stroke-width="0.65"/>
<circle cx="244.87" cy="36.88" r="1.5" fill="#f20000" stroke="#200000" stroke-width="0.65"/>
<circle cx="257.03" cy="31.87" r="1.5" fill="#f20000" stroke="#200000" stroke-width="0.65"/>
<circle cx="219.74" cy="46.92" r="1.5" fill="#f20000" stroke="#200000" stroke-width="0.65"/>
<circle cx="216.72" cy="49.88" r="1.5" fill="#f20000" stroke="#200000" stroke-width="0.65"/>
<circle cx="255.74" cy="28.54" r="1.5" fill="#f20000" stroke="#200000" stroke-width="0.65"/>
<circle cx="255.51" cy="32.08" r="1.5" fill="#f20000" stroke="#200000" stroke-width="0.65"/>
<circle cx="219.22" cy="48.73" r="1.5" fill="#f20000" stroke="#200000" stroke-width="0.65"/>
<circle cx="253.54" cy="31.85" r="1.5" fill="#f20000" stroke="#200000" stroke-width="0.65"/>
<circle cx="237.69" cy="35.03" r="1.5" fill="#f20000" stroke="#200000" stroke-width="0.65"/>
<circle cx="220.24" cy="48.05" r="1.5" fill="#f20000" stroke="#200000" stroke-width="0.65"/>
<circle cx="237.53" cy="40.41" r="1.5" fill="#f20000" stroke="#200000" stroke-width="0.65"/>
<circle cx="251.24" cy="31.88" r="1.5" fill="#f20000" stroke="#200000" stroke-width="0.65"/>
<circle cx="228.00" cy="40.67" r="1.5" fill="#f20000" stroke="#200000" stroke-width="0.65"/>
<circle cx="257.48" cy="28.90" r="1.5" fill="#f20000" stroke="#200000" stroke-width="0.65"/>
<circle cx="237.06" cy="40.81" r="1.5" fill="#f20000" stroke="#200000" stroke-width="0.65"/>
<circle cx="248.95" cy="34.48" r="1.5" fill="#f20000" stroke="#200000" stroke-width="0.65"/>
<circle cx="222.81" cy="47.72" r="1.5" fill="#f20000" stroke="#200000" stroke-width="0.65"/>
<circle cx="221.53" cy="39.83" r="1.5" fill="#f20000" stroke="#200000" stroke-width="0.65"/>
<circle cx="220.72" cy="42.17" r="1.5" fill="#f20000" stroke="#200000" stroke-width="0.65"/>
<circle cx="245.97" cy="33.02" r="1.5" fill="#f20000" stroke="#200000" stroke-width="0.65"/>
<circle cx="217.41" cy="51.06" r="1.5" fill="#f20000" stroke="#200000" stroke-width="0.65"/>
<circle cx="227.75" cy="44.35" r="1.5" fill="#f20000" stroke="#200000" stroke-width="0.65"/>
<circle cx="220.33" cy="42.60" r="1.5" fill="#f20000" stroke="#200000" stroke-width="0.65"/>
<circle cx="243.79" cy="32.85" r="1.5" fill="#f20000" stroke="#200000" stroke-width="0.65"/>
<circle cx="220.48" cy="40.11" r="1.5" fill="#f20000" stroke="#200000" stroke-width="0.65"/>
<circle cx="239.92" cy="37.78" r="1.5" fill="#f20000" stroke="#200000" stroke-width="0.65"/>
<circle cx="218.21" cy="51.43" r="1.5" fill="#f20000" stroke="#200000" stroke-width="0.65"/>
<circle cx="222.09" cy="41.61" r="1.5" fill="#f20000" stroke="#200000" stroke-width="0.65"/>
<circle cx="227.53" cy="35.14" r="1.5" fill="#f20000" stroke="#200000" stroke-width="0.65"/>
<circle cx="256.90" cy="30.53" r="1.5" fill="#f20000" stroke="#200000" stroke-width="0.65"/>
<circle cx="257.58" cy="30.64" r="1.5" fill="#f20000" stroke="#200000" stroke-width="0.65"/>
<circle cx="232.28" cy="43.53" r="1.5" fill="#f20000" stroke="#200000" stroke-width="0.65"/>
<circle cx="245.66" cy="32.75" r="1.5" fill="#f20000" stroke="#200000" stroke-width="0.65"/>
<circle cx="228.70" cy="46.36" r="1.5" fill="#f20000" stroke="#200000" stroke-width="0.65"/>
<circle cx="226.77" cy="35.46" r="1.5" fill="#f20000" stroke="#200000" stroke-width="0.65"/>
<circle cx="222.28" cy="46.17" r="1.5" fill="#f20000" stroke="#200000" stroke-width="0.65"/>
<circle cx="241.66" cy="38.79" r="1.5" fill="#f20000" stroke="#200000" stroke-width="0.65"/>
<circle cx="242.05" cy="33.58" r="1.5" fill="#f20000" stroke="#200000" stroke-width="0.65"/>
<circle cx="228.05" cy="37.94" r="1.5" fill="#f20000" stroke="#200000" stroke-width="0.65"/>
<circle cx="220.69" cy="41.66" r="1.5" fill="#f20000" stroke="#200000" stroke-width="0.65"/>
<circle cx="256.66" cy="31.35" r="1.5" fill="#f20000" stroke="#200000" stroke-width="0.65"/>
<circle cx="257.17" cy="30.28" r="1.5" fill="#f20000" stroke="#200000" stroke-width="0.65"/>
<circle cx="221.09" cy="38.05" r="1.5" fill="#f20000" stroke="#200000" stroke-width="0.65"/>
<circle cx="228.24" cy="35.63" r="1.5" fill="#f20000" stroke="#200000" stroke-width="0.65"/>
<circle cx="220.94" cy="44.01" r="1.5" fill="#f20000" stroke="#200000" stroke-width="0.65"/>
<circle cx="217.05" cy="51.67" r="1.5" fill="#f20000" stroke="#200000" stroke-width="0.65"/>
<circle cx="225.52" cy="44.31" r="1.5" fill="#f20000" stroke="#200000" stroke-width="0.65"/>
<circle cx="252.77" cy="30.73" r="1.5" fill="#f20000" stroke="#200000" stroke-width="0.65"/>
<circle cx="233.04" cy="43.01" r="1.5" fill="#f20000" stroke="#200000" stroke-width="0.65"/>
<circle cx="220.86" cy="48.83" r="1.5" fill="#f20000" stroke="#200000" stroke-width="0.65"/>
<circle cx="251.05" cy="31.98" r="1.5" fill="#f20000" stroke="#200000" stroke-width="0.65"/>
<circle cx="222.33" cy="49.97" r="1.5" fill="#f20000" stroke="#200000" stroke-width="0.65"/>
<circle cx="240.43" cy="37.51" r="1.5" fill="#f20000" stroke="#200000" stroke-width="0.65"/>
<circle cx="255.03" cy="31.30" r="1.5" fill="#f20000" stroke="#200000" stroke-width="0.65"/>
<circle cx="225.51" cy="44.08" r="1.5" fill="#f20000" stroke="#200000" stroke-width="0.65"/>
<circle cx="242.13" cy="37.87" r="1.5" fill="#f20000" stroke="#200000" stroke-width="0.65"/>
<circle cx="229.89" cy="42.73" r="1.5" fill="#f20000" stroke="#200000" stroke-width="0.65"/>
<circle cx="240.90" cy="34.80" r="1.5" fill="#f20000" stroke="#200000" stroke-width="0.65"/>
<circle cx="219.26" cy="49.31" r="1.5" fill="#f20000" stroke="#200000" stroke-width="0.65"/>
<circle cx="236.92" cy="40.79" r="1.5" fill="#f20000" stroke="#200000" stroke-width="0.65"/>
<circle cx="220.52" cy="49.55" r="1.5" fill="#f20000" stroke="#200000" stroke-width="0.65"/>
<circle cx="227.42" cy="42.32" r="1.5" fill="#f20000" stroke="#200000" stroke-width="0.65"/>
<circle cx="252.82" cy="32.15" r="1.5" fill="#f20000" stroke="#200000" stroke-width="0.65"/>
<circle cx="233.68" cy="36.13" r="1.5" fill="#f20000" stroke="#200000" stroke-width="0.65"/>
<circle cx="226.42" cy="40.46" r="1.5" fill="#f20000" stroke="#200000" stroke-width="0.65"/>
<circle cx="228.45" cy="37.92" r="1.5" fill="#f20000" stroke="#200000" stroke-width="0.65"/>
<circle cx="237.00" cy="36.84" r="1.5" fill="#f20000" stroke="#200000" stroke-width="0.65"/>
<circle cx="219.96" cy="39.01" r="1.5" fill="#f20000" stroke="#200000" stroke-width="0.65"/>
<circle cx="258.39" cy="28.94" r="1.5" fill="#f20000" stroke="#200000" stroke-width="0.65"/>
<circle cx="236.47" cy="37.59" r="1.5" fill="#f20000" stroke="#200000" stroke-width="0.65"/>
<circle cx="221.49" cy="48.45" r="1.5" fill="#f20000" stroke="#200000" stroke-width="0.65"/>
<circle cx="219.13" cy="42.07" r="1.5" fill="#f20000" stroke="#200000" stroke-width="0.65"/>
<circle cx="254.82" cy="32.20" r="1.5" fill="#f20000" stroke="#200000" stroke-width="0.65"/>
<circle cx="222.07" cy="37.81" r="1.5" fill="#f20000" stroke="#200000" stroke-width="0.65"/>
<circle cx="248.50" cy="31.17" r="1.5" fill="#f20000" stroke="#200000" stroke-width="0.65"/>
<circle cx="241.31" cy="39.22" r="1.5" fill="#f20000" stroke="#200000" stroke-width="0.65"/>
<circle cx="221.73" cy="49.77" r="1.5" fill="#f20000" stroke="#200000" stroke-width="0.65"/>
<circle cx="258.04" cy="31.29" r="1.5" fill="#f20000" stroke="#200000" stroke-width="0.65"/>
<circle cx="251.94" cy="29.99" r="1.5" fill="#f20000" stroke="#200000" stroke-width="0.65"/>
<circle cx="220.20" cy="45.10" r="1.5" fill="#f20000" stroke="#200000" stroke-width="0.65"/>
<circle cx="238.33" cy="39.37" r="1.5" fill="#f20000" stroke="#200000" stroke-width="0.65"/>
<circle cx="215.70" cy="48.93" r="1.5" fill="#f20000" stroke="#200000" stroke-width="0.65"/>
<circle cx="224.72" cy="38.77" r="1.5" fill="#f20000" stroke="#200000" stroke-width="0.65"/>
<circle cx="242.11" cy="35.22" r="1.5" fill="#f20000" stroke="#200000" stroke-width="0.65"/>
<circle cx="222.58" cy="49.65" r="1.5" fill="#f20000" stroke="#200000" stroke-width="0.65"/>
<circle cx="223.57" cy="39.35" r="1.5" fill="#f20000" stroke="#200000" stroke-width="0.65"/>
<circle cx="215.86" cy="50.95" r="1.5" fill="#f20000" stroke="#200000" stroke-width="0.65"/>
<circle cx="231.68" cy="39.04" r="1.5" fill="#f20000" stroke="#200000" stroke-width="0.65"/>
<circle cx="234.87" cy="39.05" r="1.5" fill="#f20000" stroke="#200000" stroke-width="0.65"/>
<circle cx="220.13" cy="48.31" r="1.5" fill="#f20000" stroke="#200000" stroke-width="0.65"/>
<circle cx="219.17" cy="45.66" r="1.5" fill="#f20000" stroke="#200000" stroke-width="0.65"/>
<circle cx="222.15" cy="45.05" r="1.5" fill="#f20000" stroke="#200000" stroke-width="0.65"/>
<circle cx="250.01" cy="29.57" r="1.5" fill="#f20000" stroke="#200000" stroke-width="0.65"/>
<circle cx="222.23" cy="42.93" r="1.5" fill="#f20000" stroke="#200000" stroke-width="0.65"/>
<circle cx="228.15" cy="36.90" r="1.5" fill="#f20000" stroke="#200000" stroke-width="0.65"/>
<circle cx="229.55" cy="41.02" r="1.5" fill="#f20000" stroke="#200000" stroke-width="0.65"/>
<circle cx="225.61" cy="42.50" r="1.5" fill="#f20000" stroke="#200000" stroke-width="0.65"/>
<circle cx="238.48" cy="40.05" r="1.5" fill="#f20000" stroke="#200000" stroke-width="0.65"/>
<circle cx="222.86" cy="38.81" r="1.5" fill="#f20000" stroke="#200000" stroke-width="0.65"/>
<circle cx="258.45" cy="30.63" r="1.5" fill="#f20000" stroke="#200000" stroke-width="0.65"/>
<circle cx="240.86" cy="38.48" r="1.5" fill="#f20000" stroke="#200000" stroke-width="0.65"/>
<circle cx="253.34" cy="33.15" r="1.5" fill="#f20000" stroke="#200000" stroke-width="0.65"/>
<circle cx="238.47" cy="34.89" r="1.5" fill="#f20000" stroke="#200000" stroke-width="0.65"/>
<circle cx="223.41" cy="40.56" r="1.5" fill="#f20000" stroke="#200000" stroke-width="0.65"/>
<circle cx="253.96" cy="30.60" r="1.5" fill="#f20000" stroke="#200000" stroke-width="0.65"/>
<circle cx="217.24" cy="43.29" r="1.5" fill="#f20000" stroke="#200000" stroke-width="0.65"/>
<circle cx="226.76" cy="46.96" r="1.5" fill="#f20000" stroke="#200000" stroke-width="0.65"/>
<circle cx="250.83" cy="33.95" r="1.5" fill="#f20000" stroke="#200000" stroke-width="0.65"/>
<circle cx="214.48" cy="50.61" r="1.5" fill="#f20000" stroke="#200000" stroke-width="0.65"/>
<circle cx="237.30" cy="35.57" r="1.5" fill="#f20000" stroke="#200000" stroke-width="0.65"/>
<circle cx="216.90" cy="44.93" r="1.5" fill="#f20000" stroke="#200000" stroke-width="0.65"/>
<circle cx="218.68" cy="42.59" r="1.5" fill="#f20000" stroke="#200000" stroke-width="0.65"/>
<circle cx="229.27" cy="41.55" r="1.5" fill="#f20000" stroke="#200000" stroke-width="0.65"/>
<circle cx="219.32" cy="38.92" r="1.5" fill="#f20000" stroke="#200000" stroke-width="0.65"/>
<circle cx="256.98" cy="31.17" r="1.5" fill="#f20000" stroke="#200000" stroke-width="0.65"/>
<circle cx="238.54" cy="36.44" r="1.5" fill="#f20000" stroke="#200000" stroke-width="0.65"/>
<circle cx="225.14" cy="38.25" r="1.5" fill="#f20000" stroke="#200000" stroke-width="0.65"/>
<circle cx="239.66" cy="39.98" r="1.5" fill="#f20000" stroke="#200000" stroke-width="0.65"/>
<circle cx="228.97" cy="38.59" r="1.5" fill="#f20000" stroke="#200000" stroke-width="0.65"/>
<circle cx="227.51" cy="37.45" r="1.5" fill="#f20000" stroke="#200000" stroke-width="0.65"/>
<circle cx="235.78" cy="38.09" r="1.5" fill="#f20000" stroke="#200000" stroke-width="0.65"/>
<circle cx="243.86" cy="37.10" r="1.5" fill="#f20000" stroke="#200000" stroke-width="0.65"/>
<circle cx="249.89" cy="33.86" r="1.5" fill="#f20000" stroke="#200000" stroke-width="0.65"/>
<circle cx="221.94" cy="50.16" r="1.5" fill="#f20000" stroke="#200000" stroke-width="0.65"/>
<circle cx="215.48" cy="51.38" r="1.5" fill="#f20000" stroke="#200000" stroke-width="0.65"/>
<circle cx="239.01" cy="35.87" r="1.5" fill="#f20000" stroke="#200000" stroke-width="0.65"/>
<circle cx="224.88" cy="45.29" r="1.5" fill="#f20000" stroke="#200000" stroke-width="0.65"/>
<circle cx="227.08" cy="44.77" r="1.5" fill="#f20000" stroke="#200000" stroke-width="0.65"/>
<circle cx="218.33" cy="38.77" r="1.5" fill="#f20000" stroke="#200000" stroke-width="0.65"/>
<circle cx="229.72" cy="35.21" r="1.5" fill="#f20000" stroke="#200000" stroke-width="0.65"/>
<circle cx="217.89" cy="42.79" r="1.5" fill="#f20000" stroke="#200000" stroke-width="0.65"/>
<circle cx="219.68" cy="47.90" r="1.5" fill="#f20000" stroke="#200000" stroke-width="0.65"/>
<circle cx="228.30" cy="45.33" r="1.5" fill="#f20000" stroke="#200000" stroke-width="0.65"/>
<circle cx="218.63" cy="50.38" r="1.5" fill="#f20000" stroke="#200000" stroke-width="0.65"/>
<circle cx="255.60" cy="29.89" r="1.5" fill="#f20000" stroke="#200000" stroke-width="0.65"/>
<circle cx="224.71" cy="42.27" r="1.5" fill="#f20000" stroke="#200000" stroke-width="0.65"/>
<circle cx="232.99" cy="42.77" r="1.5" fill="#f20000" stroke="#200000" stroke-width="0.65"/>
<circle cx="219.58" cy="38.07" r="1.5" fill="#f20000" stroke="#200000" stroke-width="0.65"/>
<circle cx="226.62" cy="39.77" r="1.5" fill="#f20000" stroke="#200000" stroke-width="0.65"/>
<circle cx="225.93" cy="42.64" r="1.5" fill="#f20000" stroke="#200000" stroke-width="0.65"/>
<circle cx="247.37" cy="33.34" r="1.5" fill="#f20000" stroke="#200000" stroke-width="0.65"/>
<circle cx="244.10" cy="35.65" r="1.5" fill="#f20000" stroke="#200000" stroke-width="0.65"/>
<circle cx="222.41" cy="39.62" r="1.5" fill="#f20000" stroke="#200000" stroke-width="0.65"/>
<circle cx="253.14" cy="29.06" r="1.5" fill="#f20000" stroke="#200000" stroke-width="0.65"/>
<circle cx="220.97" cy="48.64" r="1.5" fill="#f20000" stroke="#200000" stroke-width="0.65"/>
<circle cx="239.85" cy="34.35" r="1.5" fill="#f20000" stroke="#200000" stroke-width="0.65"/>
<circle cx="216.85" cy="50.45" r="1.5" fill="#f20000" stroke="#200000" stroke-width="0.65"/>
<circle cx="242.72" cy="37.35" r="1.5" fill="#f20000" stroke="#200000" stroke-width="0.65"/>
<circle cx="216.84" cy="45.47" r="1.5" fill="#f20000" stroke="#200000" stroke-width="0.65"/>
<circle cx="249.81" cy="29.52" r="1.5" fill="#f20000" stroke="#200000" stroke-width="0.65"/>
<circle cx="235.72" cy="39.56" r="1.5" fill="#f20000" stroke="#200000" stroke-width="0.65"/>
<circle cx="242.57" cy="34.37" r="1.5" fill="#f20000" stroke="#200000" stroke-width="0.65"/>
<circle cx="218.32" cy="43.26" r="1.5" fill="#f20000" stroke="#200000" stroke-width="0.65"/>
<circle cx="231.31" cy="37.86" r="1.5" fill="#f20000" stroke="#200000" stroke-width="0.65"/>
<circle cx="236.03" cy="35.91" r="1.5" fill="#f20000" stroke="#200000" stroke-width="0.65"/>
<circle cx="218.84" cy="40.40" r="1.5" fill="#f20000" stroke="#200000" stroke-width="0.65"/>
<circle cx="230.49" cy="37.84" r="1.5" fill="#f20000" stroke="#200000" stroke-width="0.65"/>
<circle cx="242.80" cy="32.90" r="1.5" fill="#f20000" stroke="#200000" stroke-width="0.65"/>
<circle cx="231.92" cy="43.55" r="1.5" fill="#f20000" stroke="#200000" stroke-width="0.65"/>
<circle cx="250.52" cy="33.32" r="1.5" fill="#f20000" stroke="#200000" stroke-width="0.65"/>
<circle cx="245.14" cy="34.70" r="1.5" fill="#f20000" stroke="#200000" stroke-width="0.65"/>
<circle cx="222.51" cy="44.16" r="1.5" fill="#f20000" stroke="#200000" stroke-width="0.65"/>
<circle cx="217.21" cy="43.40" r="1.5" fill="#f20000" stroke="#200000" stroke-width="0.65"/>
<circle cx="234.74" cy="39.70" r="1.5" fill="#f20000" stroke="#200000" stroke-width="0.65"/>
<circle cx="226.54" cy="44.80" r="1.5" fill="#f20000" stroke="#200000" stroke-width="0.65"/>
<circle cx="222.44" cy="44.70" r="1.5" fill="#f20000" stroke="#200000" stroke-width="0.65"/>
<circle cx="240.94" cy="36.50" r="1.5" fill="#f20000" stroke="#200000" stroke-width="0.65"/>
<circle cx="245.89" cy="36.61" r="1.5" fill="#f20000" stroke="#200000" stroke-width="0.65"/>
<circle cx="257.38" cy="31.05" r="1.5" fill="#f20000" stroke="#200000" stroke-width="0.65"/>
<circle cx="229.02" cy="37.42" r="1.5" fill="#f20000" stroke="#200000" stroke-width="0.65"/>
<circle cx="237.83" cy="35.88" r="1.5" fill="#f20000" stroke="#200000" stroke-width="0.65"/>
<circle cx="230.43" cy="43.62" r="1.5" fill="#f20000" stroke="#200000" stroke-width="0.65"/>
<circle cx="234.22" cy="42.74" r="1.5" fill="#f20000" stroke="#200000" stroke-width="0.65"/>
<circle cx="225.71" cy="43.91" r="1.5" fill="#f20000" stroke="#200000" stroke-width="0.65"/>
<circle cx="217.86" cy="46.94" r="1.5" fill="#f20000" stroke="#200000" stroke-width="0.65"/>
<circle cx="221.13" cy="39.93" r="1.5" fill="#f20000" stroke="#200000" stroke-width="0.65"/>
<circle cx="231.28" cy="38.54" r="1.5" fill="#f20000" stroke="#200000" stroke-width="0.65"/>
<circle cx="242.21" cy="34.08" r="1.5" fill="#f20000" stroke="#200000" stroke-width="0.65"/>
<circle cx="227.56" cy="40.19" r="1.5" fill="#f20000" stroke="#200000" stroke-width="0.65"/>
<circle cx="245.30" cy="35.30" r="1.5" fill="#f20000" stroke="#200000" stroke-width="0.65"/>
<circle cx="222.60" cy="37.79" r="1.5" fill="#f20000" stroke="#200000" stroke-width="0.65"/>
<circle cx="236.20" cy="40.72" r="1.5" fill="#f20000" stroke="#200000" stroke-width="0.65"/>
<circle cx="248.70" cy="30.27" r="1.5" fill="#f20000" stroke="#200000" stroke-width="0.65"/>
<circle cx="230.77" cy="39.02" r="1.5" fill="#f20000" stroke="#200000" stroke-width="0.65"/>
<circle cx="239.94" cy="34.76" r="1.5" fill="#f20000" stroke="#200000" stroke-width="0.65"/>
<circle cx="218.62" cy="40.15" r="1.5" fill="#f20000" stroke="#200000" stroke-width="0.65"/>
<circle cx="248.73" cy="33.48" r="1.5" fill="#f20000" stroke="#200000" stroke-width="0.65"/>
<circle cx="251.22" cy="32.60" r="1.5" fill="#f20000" stroke="#200000" stroke-width="0.65"/>
<circle cx="226.60" cy="47.33" r="1.5" fill="#f20000" stroke="#200000" stroke-width="0.65"/>
<circle cx="255.59" cy="29.09" r="1.5" fill="#f20000" stroke="#200000" stroke-width="0.65"/>
<circle cx="225.67" cy="44.65" r="1.5" fill="#f20000" stroke="#200000" stroke-width="0.65"/>
<path d="M241.93 60.66L243.58 62.31L241.93 63.96L240.28 62.31Z" fill="#3d76b4" stroke="#081220" stroke-width="0.85"/>
<path d="M251.51 56.20L253.16 57.85L251.51 59.50L249.86 57.85Z" fill="#3d76b4" stroke="#081220" stroke-width="0.85"/>
<path d="M250.83 56.30L252.48 57.95L250.83 59.60L249.18 57.95Z" fill="#3d76b4" stroke="#081220" stroke-width="0.85"/>
<path d="M229.89 63.41L231.54 65.06L229.89 66.71L228.24 65.06Z" fill="#3d76b4" stroke="#081220" stroke-width="0.85"/>
<path d="M230.94 64.65L232.59 66.30L230.94 67.95L229.29 66.30Z" fill="#3d76b4" stroke="#081220" stroke-width="0.85"/>
<path d="M227.11 61.05L228.76 62.70L227.11 64.35L225.46 62.70Z" fill="#3d76b4" stroke="#081220" stroke-width="0.85"/>
<path d="M241.76 55.38L243.41 57.03L241.76 58.68L240.11 57.03Z" fill="#3d76b4" stroke="#081220" stroke-width="0.85"/>
<path d="M249.88 55.81L251.53 57.46L249.88 59.11L248.23 57.46Z" fill="#3d76b4" stroke="#081220" stroke-width="0.85"/>
<path d="M239.26 57.42L240.91 59.07L239.26 60.72L237.61 59.07Z" fill="#3d76b4" stroke="#081220" stroke-width="0.85"/>
<path d="M231.56 59.48L233.21 61.13L231.56 62.78L229.91 61.13Z" fill="#3d76b4" stroke="#081220" stroke-width="0.85"/>
<path d="M226.66 62.42L228.31 64.07L226.66 65.72L225.01 64.07Z" fill="#3d76b4" stroke="#081220" stroke-width="0.85"/>
<path d="M241.30 60.13L242.95 61.78L241.30 63.43L239.65 61.78Z" fill="#3d76b4" stroke="#081220" stroke-width="0.85"/>
<path d="M232.81 64.60L234.46 66.25L232.81 67.90L231.16 66.25Z" fill="#3d76b4" stroke="#081220" stroke-width="0.85"/>
<path d="M237.38 60.13L239.03 61.78L237.38 63.43L235.73 61.78Z" fill="#3d76b4" stroke="#081220" stroke-width="0.85"/>
<path d="M244.55 60.53L246.20 62.18L244.55 63.83L242.90 62.18Z" fill="#3d76b4" stroke="#081220" stroke-width="0.85"/>
<path d="M249.04 57.66L250.69 59.31L249.04 60.96L247.39 59.31Z" fill="#3d76b4" stroke="#081220" stroke-width="0.85"/>
<path d="M233.72 57.24L235.37 58.89L233.72 60.54L232.07 58.89Z" fill="#3d76b4" stroke="#081220" stroke-width="0.85"/>
<path d="M223.50 68.06L225.15 69.71L223.50 71.36L221.85 69.71Z" fill="#3d76b4" stroke="#081220" stroke-width="0.85"/>
<path d="M228.29 66.63L229.94 68.28L228.29 69.93L226.64 68.28Z" fill="#3d76b4" stroke="#081220" stroke-width="0.85"/>
<path d="M233.35 64.08L235.00 65.73L233.35 67.38L231.70 65.73Z" fill="#3d76b4" stroke="#081220" stroke-width="0.85"/>
<path d="M225.46 66.37L227.11 68.02L225.46 69.67L223.81 68.02Z" fill="#3d76b4" stroke="#081220" stroke-width="0.85"/>
<path d="M249.51 57.91L251.16 59.56L249.51 61.21L247.86 59.56Z" fill="#3d76b4" stroke="#081220" stroke-width="0.85"/>
<path d="M224.92 65.22L226.57 66.87L224.92 68.52L223.27 66.87Z" fill="#3d76b4" stroke="#081220" stroke-width="0.85"/>
<path d="M232.00 59.40L233.65 61.05L232.00 62.70L230.35 61.05Z" fill="#3d76b4" stroke="#081220" stroke-width="0.85"/>
<path d="M224.50 65.88L226.15 67.53L224.50 69.18L222.85 67.53Z" fill="#3d76b4" stroke="#081220" stroke-width="0.85"/>
<path d="M239.07 57.71L240.72 59.36L239.07 61.01L237.42 59.36Z" fill="#3d76b4" stroke="#081220" stroke-width="0.85"/>
<path d="M236.58 56.91L238.23 58.56L236.58 60.21L234.93 58.56Z" fill="#3d76b4" stroke="#081220" stroke-width="0.85"/>
<path d="M251.31 56.28L252.96 57.93L251.31 59.58L249.66 57.93Z" fill="#3d76b4" stroke="#081220" stroke-width="0.85"/>
<path d="M248.83 57.57L250.48 59.22L248.83 60.87L247.18 59.22Z" fill="#3d76b4" stroke="#081220" stroke-width="0.85"/>
<path d="M247.22 57.00L248.87 58.65L247.22 60.30L245.57 58.65Z" fill="#3d76b4" stroke="#081220" stroke-width="0.85"/>
<path d="M231.43 66.46L233.08 68.11L231.43 69.76L229.78 68.11Z" fill="#3d76b4" stroke="#081220" stroke-width="0.85"/>
<path d="M236.51 62.48L238.16 64.13L236.51 65.78L234.86 64.13Z" fill="#3d76b4" stroke="#081220" stroke-width="0.85"/>
<path d="M237.33 59.53L238.98 61.18L237.33 62.83L235.68 61.18Z" fill="#3d76b4" stroke="#081220" stroke-width="0.85"/>
<path d="M226.69 67.44L228.34 69.09L226.69 70.74L225.04 69.09Z" fill="#3d76b4" stroke="#081220" stroke-width="0.85"/>
<path d="M237.98 56.85L239.63 58.50L237.98 60.15L236.33 58.50Z" fill="#3d76b4" stroke="#081220" stroke-width="0.85"/>
<path d="M230.71 65.54L232.36 67.19L230.71 68.84L229.06 67.19Z" fill="#3d76b4" stroke="#081220" stroke-width="0.85"/>
<path d="M233.56 64.02L235.21 65.67L233.56 67.32L231.91 65.67Z" fill="#3d76b4" stroke="#081220" stroke-width="0.85"/>
<path d="M246.31 58.42L247.96 60.07L246.31 61.72L244.66 60.07Z" fill="#3d76b4" stroke="#081220" stroke-width="0.85"/>
<path d="M230.99 64.67L232.64 66.32L230.99 67.97L229.34 66.32Z" fill="#3d76b4" stroke="#081220" stroke-width="0.85"/>
<path d="M244.11 60.59L245.76 62.24L244.11 63.89L242.46 62.24Z" fill="#3d76b4" stroke="#081220" stroke-width="0.85"/>
<path d="M242.79 55.32L244.44 56.97L242.79 58.62L241.14 56.97Z" fill="#3d76b4" stroke="#081220" stroke-width="0.85"/>
<path d="M239.50 60.80L241.15 62.45L239.50 64.10L237.85 62.45Z" fill="#3d76b4" stroke="#081220" stroke-width="0.85"/>
<path d="M236.81 61.68L238.46 63.33L236.81 64.98L235.16 63.33Z" fill="#3d76b4" stroke="#081220" stroke-width="0.85"/>
<path d="M247.52 57.73L249.17 59.38L247.52 61.03L245.87 59.38Z" fill="#3d76b4" stroke="#081220" stroke-width="0.85"/>
<path d="M233.20 64.94L234.85 66.59L233.20 68.24L231.55 66.59Z" fill="#3d76b4" stroke="#081220" stroke-width="0.85"/>
<path d="M238.94 62.28L240.59 63.93L238.94 65.58L237.29 63.93Z" fill="#3d76b4" stroke="#081220" stroke-width="0.85"/>
<path d="M245.37 59.14L247.02 60.79L245.37 62.44L243.72 60.79Z" fill="#3d76b4" stroke="#081220" stroke-width="0.85"/>
<path d="M240.59 58.59L242.24 60.24L240.59 61.89L238.94 60.24Z" fill="#3d76b4" stroke="#081220" stroke-width="0.85"/>
<path d="M242.38 55.43L244.03 57.08L242.38 58.73L240.73 57.08Z" fill="#3d76b4" stroke="#081220" stroke-width="0.85"/>
<path d="M227.12 64.84L228.77 66.49L227.12 68.14L225.47 66.49Z" fill="#3d76b4" stroke="#081220" stroke-width="0.85"/>
<path d="M229.01 64.13L230.66 65.78L229.01 67.43L227.36 65.78Z" fill="#3d76b4" stroke="#081220" stroke-width="0.85"/>
<path d="M229.24 60.15L230.89 61.80L229.24 63.45L227.59 61.80Z" fill="#3d76b4" stroke="#081220" stroke-width="0.85"/>
<path d="M232.16 59.47L233.81 61.12L232.16 62.77L230.51 61.12Z" fill="#3d76b4" stroke="#081220" stroke-width="0.85"/>
<path d="M234.17 62.21L235.82 63.86L234.17 65.51L232.52 63.86Z" fill="#3d76b4" stroke="#081220" stroke-width="0.85"/>
<path d="M230.91 59.32L232.56 60.97L230.91 62.62L229.26 60.97Z" fill="#3d76b4" stroke="#081220" stroke-width="0.85"/>
<path d="M248.60 55.37L250.25 57.02L248.60 58.67L246.95 57.02Z" fill="#3d76b4" stroke="#081220" stroke-width="0.85"/>
<path d="M241.63 59.09L243.28 60.74L241.63 62.39L239.98 60.74Z" fill="#3d76b4" stroke="#081220" stroke-width="0.85"/>
<path d="M232.86 65.79L234.51 67.44L232.86 69.09L231.21 67.44Z" fill="#3d76b4" stroke="#081220" stroke-width="0.85"/>
<path d="M233.82 62.37L235.47 64.02L233.82 65.67L232.17 64.02Z" fill="#3d76b4" stroke="#081220" stroke-width="0.85"/>
<path d="M233.24 57.38L234.89 59.03L233.24 60.68L231.59 59.03Z" fill="#3d76b4" stroke="#081220" stroke-width="0.85"/>
<path d="M225.45 65.08L227.10 66.73L225.45 68.38L223.80 66.73Z" fill="#3d76b4" stroke="#081220" stroke-width="0.85"/>
<path d="M226.50 66.78L228.15 68.43L226.50 70.08L224.85 68.43Z" fill="#3d76b4" stroke="#081220" stroke-width="0.85"/>
<path d="M234.03 59.03L235.68 60.68L234.03 62.33L232.38 60.68Z" fill="#3d76b4" stroke="#081220" stroke-width="0.85"/>
<path d="M234.15 65.09L235.80 66.74L234.15 68.39L232.50 66.74Z" fill="#3d76b4" stroke="#081220" stroke-width="0.85"/>
<path d="M241.07 62.33L242.72 63.98L241.07 65.63L239.42 63.98Z" fill="#3d76b4" stroke="#081220" stroke-width="0.85"/>
<path d="M237.88 58.68L239.53 60.33L237.88 61.98L236.23 60.33Z" fill="#3d76b4" stroke="#081220" stroke-width="0.85"/>
<path d="M231.16 59.27L232.81 60.92L231.16 62.57L229.51 60.92Z" fill="#3d76b4" stroke="#081220" stroke-width="0.85"/>
<path d="M241.89 57.30L243.54 58.95L241.89 60.60L240.24 58.95Z" fill="#3d76b4" stroke="#081220" stroke-width="0.85"/>
<path d="M247.02 56.35L248.67 58.00L247.02 59.65L245.37 58.00Z" fill="#3d76b4" stroke="#081220" stroke-width="0.85"/>
<path d="M231.38 62.11L233.03 63.76L231.38 65.41L229.73 63.76Z" fill="#3d76b4" stroke="#081220" stroke-width="0.85"/>
<path d="M242.64 60.03L244.29 61.68L242.64 63.33L240.99 61.68Z" fill="#3d76b4" stroke="#081220" stroke-width="0.85"/>
<path d="M225.78 62.74L227.43 64.39L225.78 66.04L224.13 64.39Z" fill="#3d76b4" stroke="#081220" stroke-width="0.85"/>
<path d="M239.07 58.16L240.72 59.81L239.07 61.46L237.42 59.81Z" fill="#3d76b4" stroke="#081220" stroke-width="0.85"/>
<path d="M238.96 58.68L240.61 60.33L238.96 61.98L237.31 60.33Z" fill="#3d76b4" stroke="#081220" stroke-width="0.85"/>
<path d="M223.17 66.59L224.82 68.24L223.17 69.89L221.52 68.24Z" fill="#3d76b4" stroke="#081220" stroke-width="0.85"/>
<path d="M239.46 61.61L241.11 63.26L239.46 64.91L237.81 63.26Z" fill="#3d76b4" stroke="#081220" stroke-width="0.85"/>
<path d="M235.69 62.64L237.34 64.29L235.69 65.94L234.04 64.29Z" fill="#3d76b4" stroke="#081220" stroke-width="0.85"/>
<path d="M242.23 61.30L243.88 62.95L242.23 64.60L240.58 62.95Z" fill="#3d76b4" stroke="#081220" stroke-width="0.85"/>
<path d="M234.34 64.47L235.99 66.12L234.34 67.77L232.69 66.12Z" fill="#3d76b4" stroke="#081220" stroke-width="0.85"/>
<path d="M228.29 65.87L229.94 67.52L228.29 69.17L226.64 67.52Z" fill="#3d76b4" stroke="#081220" stroke-width="0.85"/>
<path d="M244.23 56.85L245.88 58.50L244.23 60.15L242.58 58.50Z" fill="#3d76b4" stroke="#081220" stroke-width="0.85"/>
<path d="M226.57 64.26L228.22 65.91L226.57 67.56L224.92 65.91Z" fill="#3d76b4" stroke="#081220" stroke-width="0.85"/>
<path d="M237.93 57.37L239.58 59.02L237.93 60.67L236.28 59.02Z" fill="#3d76b4" stroke="#081220" stroke-width="0.85"/>
<path d="M224.19 67.00L225.84 68.65L224.19 70.30L222.54 68.65Z" fill="#3d76b4" stroke="#081220" stroke-width="0.85"/>
<path d="M244.44 59.86L246.09 61.51L244.44 63.16L242.79 61.51Z" fill="#3d76b4" stroke="#081220" stroke-width="0.85"/>
<path d="M229.02 66.63L230.67 68.28L229.02 69.93L227.37 68.28Z" fill="#3d76b4" stroke="#081220" stroke-width="0.85"/>
<path d="M244.80 56.80L246.45 58.45L244.80 60.10L243.15 58.45Z" fill="#3d76b4" stroke="#081220" stroke-width="0.85"/>
<path d="M251.38 56.44L253.03 58.09L251.38 59.74L249.73 58.09Z" fill="#3d76b4" stroke="#081220" stroke-width="0.85"/>
<path d="M235.25 62.09L236.90 63.74L235.25 65.39L233.60 63.74Z" fill="#3d76b4" stroke="#081220" stroke-width="0.85"/>
<path d="M223.39 65.91L225.04 67.56L223.39 69.21L221.74 67.56Z" fill="#3d76b4" stroke="#081220" stroke-width="0.85"/>
<path d="M224.30 65.37L225.95 67.02L224.30 68.67L222.65 67.02Z" fill="#3d76b4" stroke="#081220" stroke-width="0.85"/>
<path d="M226.30 62.65L227.95 64.30L226.30 65.95L224.65 64.30Z" fill="#3d76b4" stroke="#081220" stroke-width="0.85"/>
<path d="M241.21 61.97L242.86 63.62L241.21 65.27L239.56 63.62Z" fill="#3d76b4" stroke="#081220" stroke-width="0.85"/>
<path d="M233.97 63.22L235.62 64.87L233.97 66.52L232.32 64.87Z" fill="#3d76b4" stroke="#081220" stroke-width="0.85"/>
<path d="M226.84 63.86L228.49 65.51L226.84 67.16L225.19 65.51Z" fill="#3d76b4" stroke="#081220" stroke-width="0.85"/>
<path d="M241.87 59.05L243.52 60.70L241.87 62.35L240.22 60.70Z" fill="#3d76b4" stroke="#081220" stroke-width="0.85"/>
<path d="M230.13 62.87L231.78 64.52L230.13 66.17L228.48 64.52Z" fill="#3d76b4" stroke="#081220" stroke-width="0.85"/>
<path d="M226.28 63.07L227.93 64.72L226.28 66.37L224.63 64.72Z" fill="#3d76b4" stroke="#081220" stroke-width="0.85"/>
<path d="M245.58 58.73L247.23 60.38L245.58 62.03L243.93 60.38Z" fill="#3d76b4" stroke="#081220" stroke-width="0.85"/>
<path d="M242.96 59.43L244.61 61.08L242.96 62.73L241.31 61.08Z" fill="#3d76b4" stroke="#081220" stroke-width="0.85"/>
<path d="M224.92 65.10L226.57 66.75L224.92 68.40L223.27 66.75Z" fill="#3d76b4" stroke="#081220" stroke-width="0.85"/>
<path d="M229.63 62.74L231.28 64.39L229.63 66.04L227.98 64.39Z" fill="#3d76b4" stroke="#081220" stroke-width="0.85"/>
<path d="M232.35 58.00L234.00 59.65L232.35 61.30L230.70 59.65Z" fill="#3d76b4" stroke="#081220" stroke-width="0.85"/>
<path d="M245.20 56.02L246.85 57.67L245.20 59.32L243.55 57.67Z" fill="#3d76b4" stroke="#081220" stroke-width="0.85"/>
<path d="M229.14 66.77L230.79 68.42L229.14 70.07L227.49 68.42Z" fill="#3d76b4" stroke="#081220" stroke-width="0.85"/>
<path d="M226.47 62.87L228.12 64.52L226.47 66.17L224.82 64.52Z" fill="#3d76b4" stroke="#081220" stroke-width="0.85"/>
<path d="M229.52 63.84L231.17 65.49L229.52 67.14L227.87 65.49Z" fill="#3d76b4" stroke="#081220" stroke-width="0.85"/>
<path d="M233.16 58.59L234.81 60.24L233.16 61.89L231.51 60.24Z" fill="#3d76b4" stroke="#081220" stroke-width="0.85"/>
<path d="M247.74 58.44L249.39 60.09L247.74 61.74L246.09 60.09Z" fill="#3d76b4" stroke="#081220" stroke-width="0.85"/>
<path d="M238.56 60.43L240.21 62.08L238.56 63.73L236.91 62.08Z" fill="#3d76b4" stroke="#081220" stroke-width="0.85"/>
<path d="M245.69 55.72L247.34 57.37L245.69 59.02L244.04 57.37Z" fill="#3d76b4" stroke="#081220" stroke-width="0.85"/>
<path d="M223.06 65.58L224.71 67.23L223.06 68.88L221.41 67.23Z" fill="#3d76b4" stroke="#081220" stroke-width="0.85"/>
<path d="M246.33 57.36L247.98 59.01L246.33 60.66L244.68 59.01Z" fill="#3d76b4" stroke="#081220" stroke-width="0.85"/>
<path d="M235.72 57.48L237.37 59.13L235.72 60.78L234.07 59.13Z" fill="#3d76b4" stroke="#081220" stroke-width="0.85"/>
<path d="M226.95 62.85L228.60 64.50L226.95 66.15L225.30 64.50Z" fill="#3d76b4" stroke="#081220" stroke-width="0.85"/>
<path d="M234.34 58.27L235.99 59.92L234.34 61.57L232.69 59.92Z" fill="#3d76b4" stroke="#081220" stroke-width="0.85"/>
<path d="M230.13 60.01L231.78 61.66L230.13 63.31L228.48 61.66Z" fill="#3d76b4" stroke="#081220" stroke-width="0.85"/>
<path d="M231.19 62.24L232.84 63.89L231.19 65.54L229.54 63.89Z" fill="#3d76b4" stroke="#081220" stroke-width="0.85"/>
<path d="M233.81 63.18L235.46 64.83L233.81 66.48L232.16 64.83Z" fill="#3d76b4" stroke="#081220" stroke-width="0.85"/>
<path d="M243.56 60.86L245.21 62.51L243.56 64.16L241.91 62.51Z" fill="#3d76b4" stroke="#081220" stroke-width="0.85"/>
<path d="M225.77 62.67L227.42 64.32L225.77 65.97L224.12 64.32Z" fill="#3d76b4" stroke="#081220" stroke-width="0.85"/>
<path d="M227.22 60.16L228.87 61.81L227.22 63.46L225.57 61.81Z" fill="#3d76b4" stroke="#081220" stroke-width="0.85"/>
<path d="M229.38 62.20L231.03 63.85L229.38 65.50L227.73 63.85Z" fill="#3d76b4" stroke="#081220" stroke-width="0.85"/>
<path d="M231.98 60.30L233.63 61.95L231.98 63.60L230.33 61.95Z" fill="#3d76b4" stroke="#081220" stroke-width="0.85"/>
<path d="M227.23 64.97L228.88 66.62L227.23 68.27L225.58 66.62Z" fill="#3d76b4" stroke="#081220" stroke-width="0.85"/>
<path d="M246.94 55.44L248.59 57.09L246.94 58.74L245.29 57.09Z" fill="#3d76b4" stroke="#081220" stroke-width="0.85"/>
<path d="M238.61 56.74L240.26 58.39L238.61 60.04L236.96 58.39Z" fill="#3d76b4" stroke="#081220" stroke-width="0.85"/>
<path d="M223.72 63.73L225.37 65.38L223.72 67.03L222.07 65.38Z" fill="#3d76b4" stroke="#081220" stroke-width="0.85"/>
<path d="M234.71 59.08L236.36 60.73L234.71 62.38L233.06 60.73Z" fill="#3d76b4" stroke="#081220" stroke-width="0.85"/>
<path d="M235.04 57.22L236.69 58.87L235.04 60.52L233.39 58.87Z" fill="#3d76b4" stroke="#081220" stroke-width="0.85"/>
<path d="M227.74 62.78L229.39 64.43L227.74 66.08L226.09 64.43Z" fill="#3d76b4" stroke="#081220" stroke-width="0.85"/>
<path d="M239.00 58.31L240.65 59.96L239.00 61.61L237.35 59.96Z" fill="#3d76b4" stroke="#081220" stroke-width="0.85"/>
<path d="M225.46 67.25L227.11 68.90L225.46 70.55L223.81 68.90Z" fill="#3d76b4" stroke="#081220" stroke-width="0.85"/>
<path d="M228.86 63.46L230.51 65.11L228.86 66.76L227.21 65.11Z" fill="#3d76b4" stroke="#081220" stroke-width="0.85"/>
<path d="M237.57 59.23L239.22 60.88L237.57 62.53L235.92 60.88Z" fill="#3d76b4" stroke="#081220" stroke-width="0.85"/>
<path d="M242.00 61.42L243.65 63.07L242.00 64.72L240.35 63.07Z" fill="#3d76b4" stroke="#081220" stroke-width="0.85"/>
<path d="M231.84 64.92L233.49 66.57L231.84 68.22L230.19 66.57Z" fill="#3d76b4" stroke="#081220" stroke-width="0.85"/>
<path d="M229.17 61.57L230.82 63.22L229.17 64.87L227.52 63.22Z" fill="#3d76b4" stroke="#081220" stroke-width="0.85"/>
<path d="M224.80 66.70L226.45 68.35L224.80 70.00L223.15 68.35Z" fill="#3d76b4" stroke="#081220" stroke-width="0.85"/>
<path d="M232.01 58.59L233.66 60.24L232.01 61.89L230.36 60.24Z" fill="#3d76b4" stroke="#081220" stroke-width="0.85"/>
<path d="M229.84 62.26L231.49 63.91L229.84 65.56L228.19 63.91Z" fill="#3d76b4" stroke="#081220" stroke-width="0.85"/>
<path d="M240.46 56.07L242.11 57.72L240.46 59.37L238.81 57.72Z" fill="#3d76b4" stroke="#081220" stroke-width="0.85"/>
<path d="M244.42 56.35L246.07 58.00L244.42 59.65L242.77 58.00Z" fill="#3d76b4" stroke="#081220" stroke-width="0.85"/>
<path d="M231.15 59.08L232.80 60.73L231.15 62.38L229.50 60.73Z" fill="#3d76b4" stroke="#081220" stroke-width="0.85"/>
<path d="M235.46 63.11L237.11 64.76L235.46 66.41L233.81 64.76Z" fill="#3d76b4" stroke="#081220" stroke-width="0.85"/>
<path d="M240.39 61.48L242.04 63.13L240.39 64.78L238.74 63.13Z" fill="#3d76b4" stroke="#081220" stroke-width="0.85"/>
<path d="M230.57 61.64L232.22 63.29L230.57 64.94L228.92 63.29Z" fill="#3d76b4" stroke="#081220" stroke-width="0.85"/>
<path d="M226.17 61.65L227.82 63.30L226.17 64.95L224.52 63.30Z" fill="#3d76b4" stroke="#081220" stroke-width="0.85"/>
<path d="M230.40 60.91L232.05 62.56L230.40 64.21L228.75 62.56Z" fill="#3d76b4" stroke="#081220" stroke-width="0.85"/>
<path d="M239.83 56.14L241.48 57.79L239.83 59.44L238.18 57.79Z" fill="#3d76b4" stroke="#081220" stroke-width="0.85"/>
<path d="M226.16 66.63L227.81 68.28L226.16 69.93L224.51 68.28Z" fill="#3d76b4" stroke="#081220" stroke-width="0.85"/>
<path d="M229.40 61.89L231.05 63.54L229.40 65.19L227.75 63.54Z" fill="#3d76b4" stroke="#081220" stroke-width="0.85"/>
<path d="M232.57 62.66L234.22 64.31L232.57 65.96L230.92 64.31Z" fill="#3d76b4" stroke="#081220" stroke-width="0.85"/>
<path d="M225.05 62.11L226.70 63.76L225.05 65.41L223.40 63.76Z" fill="#3d76b4" stroke="#081220" stroke-width="0.85"/>
<path d="M244.70 60.26L246.35 61.91L244.70 63.56L243.05 61.91Z" fill="#3d76b4" stroke="#081220" stroke-width="0.85"/>
<path d="M247.43 56.49L249.08 58.14L247.43 59.79L245.78 58.14Z" fill="#3d76b4" stroke="#081220" stroke-width="0.85"/>
<path d="M235.89 63.06L237.54 64.71L235.89 66.36L234.24 64.71Z" fill="#3d76b4" stroke="#081220" stroke-width="0.85"/>
<path d="M235.42 65.06L237.07 66.71L235.42 68.36L233.77 66.71Z" fill="#3d76b4" stroke="#081220" stroke-width="0.85"/>
<path d="M237.42 59.41L239.07 61.06L237.42 62.71L235.77 61.06Z" fill="#3d76b4" stroke="#081220" stroke-width="0.85"/>
<path d="M228.90 60.81L230.55 62.46L228.90 64.11L227.25 62.46Z" fill="#3d76b4" stroke="#081220" stroke-width="0.85"/>
<path d="M240.00 61.18L241.65 62.83L240.00 64.48L238.35 62.83Z" fill="#3d76b4" stroke="#081220" stroke-width="0.85"/>
<path d="M229.73 60.86L231.38 62.51L229.73 64.16L228.08 62.51Z" fill="#3d76b4" stroke="#081220" stroke-width="0.85"/>
<path d="M234.83 64.07L236.48 65.72L234.83 67.37L233.18 65.72Z" fill="#3d76b4" stroke="#081220" stroke-width="0.85"/>
<path d="M237.68 57.56L239.33 59.21L237.68 60.86L236.03 59.21Z" fill="#3d76b4" stroke="#081220" stroke-width="0.85"/>
<path d="M225.16 67.17L226.81 68.82L225.16 70.47L223.51 68.82Z" fill="#3d76b4" stroke="#081220" stroke-width="0.85"/>
<path d="M228.38 61.96L230.03 63.61L228.38 65.26L226.73 63.61Z" fill="#3d76b4" stroke="#081220" stroke-width="0.85"/>
<path d="M234.05 61.55L235.70 63.20L234.05 64.85L232.40 63.20Z" fill="#3d76b4" stroke="#081220" stroke-width="0.85"/>
<path d="M240.77 58.31L242.42 59.96L240.77 61.61L239.12 59.96Z" fill="#3d76b4" stroke="#081220" stroke-width="0.85"/>
<path d="M232.15 60.48L233.80 62.13L232.15 63.78L230.50 62.13Z" fill="#3d76b4" stroke="#081220" stroke-width="0.85"/>
<path d="M234.25 63.19L235.90 64.84L234.25 66.49L232.60 64.84Z" fill="#3d76b4" stroke="#081220" stroke-width="0.85"/>
<path d="M234.77 63.96L236.42 65.61L234.77 67.26L233.12 65.61Z" fill="#3d76b4" stroke="#081220" stroke-width="0.85"/>
<path d="M243.45 60.04L245.10 61.69L243.45 63.34L241.80 61.69Z" fill="#3d76b4" stroke="#081220" stroke-width="0.85"/>
<path d="M233.61 63.17L235.26 64.82L233.61 66.47L231.96 64.82Z" fill="#3d76b4" stroke="#081220" stroke-width="0.85"/>
<path d="M238.71 56.60L240.36 58.25L238.71 59.90L237.06 58.25Z" fill="#3d76b4" stroke="#081220" stroke-width="0.85"/>
<path d="M224.79 65.04L226.44 66.69L224.79 68.34L223.14 66.69Z" fill="#3d76b4" stroke="#081220" stroke-width="0.85"/>
<path d="M231.82 60.29L233.47 61.94L231.82 63.59L230.17 61.94Z" fill="#3d76b4" stroke="#081220" stroke-width="0.85"/>
<rect x="254.05" y="68.18" width="2.80" height="2.80" fill="#1ad858" stroke="#021206" stroke-width="0.75"/>
<rect x="265.29" y="69.42" width="2.80" height="2.80" fill="#1ad858" stroke="#021206" stroke-width="0.75"/>
<rect x="246.98" y="71.07" width="2.80" height="2.80" fill="#1ad858" stroke="#021206" stroke-width="0.75"/>
<rect x="249.57" y="72.61" width="2.80" height="2.80" fill="#1ad858" stroke="#021206" stroke-width="0.75"/>
<rect x="235.60" y="77.26" width="2.80" height="2.80" fill="#1ad858" stroke="#021206" stroke-width="0.75"/>
<rect x="240.18" y="74.93" width="2.80" height="2.80" fill="#1ad858" stroke="#021206" stroke-width="0.75"/>
<rect x="276.76" y="64.89" width="2.80" height="2.80" fill="#1ad858" stroke="#021206" stroke-width="0.75"/>
<rect x="251.54" y="69.73" width="2.80" height="2.80" fill="#1ad858" stroke="#021206" stroke-width="0.75"/>
<rect x="263.53" y="70.60" width="2.80" height="2.80" fill="#1ad858" stroke="#021206" stroke-width="0.75"/>
<rect x="260.60" y="69.93" width="2.80" height="2.80" fill="#1ad858" stroke="#021206" stroke-width="0.75"/>
<rect x="264.14" y="69.85" width="2.80" height="2.80" fill="#1ad858" stroke="#021206" stroke-width="0.75"/>
<rect x="285.11" y="64.00" width="2.80" height="2.80" fill="#1ad858" stroke="#021206" stroke-width="0.75"/>
<rect x="261.43" y="69.48" width="2.80" height="2.80" fill="#1ad858" stroke="#021206" stroke-width="0.75"/>
<rect x="256.60" y="70.78" width="2.80" height="2.80" fill="#1ad858" stroke="#021206" stroke-width="0.75"/>
<rect x="243.14" y="73.02" width="2.80" height="2.80" fill="#1ad858" stroke="#021206" stroke-width="0.75"/>
<rect x="232.13" y="78.75" width="2.80" height="2.80" fill="#1ad858" stroke="#021206" stroke-width="0.75"/>
<rect x="267.53" y="68.96" width="2.80" height="2.80" fill="#1ad858" stroke="#021206" stroke-width="0.75"/>
<rect x="242.75" y="72.57" width="2.80" height="2.80" fill="#1ad858" stroke="#021206" stroke-width="0.75"/>
<rect x="226.80" y="79.64" width="2.80" height="2.80" fill="#1ad858" stroke="#021206" stroke-width="0.75"/>
<rect x="238.90" y="76.59" width="2.80" height="2.80" fill="#1ad858" stroke="#021206" stroke-width="0.75"/>
<rect x="251.66" y="72.66" width="2.80" height="2.80" fill="#1ad858" stroke="#021206" stroke-width="0.75"/>
<rect x="256.05" y="71.12" width="2.80" height="2.80" fill="#1ad858" stroke="#021206" stroke-width="0.75"/>
<rect x="249.25" y="73.01" width="2.80" height="2.80" fill="#1ad858" stroke="#021206" stroke-width="0.75"/>
<rect x="240.20" y="75.50" width="2.80" height="2.80" fill="#1ad858" stroke="#021206" stroke-width="0.75"/>
<rect x="234.28" y="73.72" width="2.80" height="2.80" fill="#1ad858" stroke="#021206" stroke-width="0.75"/>
<rect x="260.65" y="68.14" width="2.80" height="2.80" fill="#1ad858" stroke="#021206" stroke-width="0.75"/>
<rect x="239.50" y="76.30" width="2.80" height="2.80" fill="#1ad858" stroke="#021206" stroke-width="0.75"/>
<rect x="262.09" y="68.85" width="2.80" height="2.80" fill="#1ad858" stroke="#021206" stroke-width="0.75"/>
<rect x="253.64" y="70.12" width="2.80" height="2.80" fill="#1ad858" stroke="#021206" stroke-width="0.75"/>
<rect x="242.72" y="72.20" width="2.80" height="2.80" fill="#1ad858" stroke="#021206" stroke-width="0.75"/>
<rect x="281.74" y="65.09" width="2.80" height="2.80" fill="#1ad858" stroke="#021206" stroke-width="0.75"/>
<rect x="243.63" y="72.93" width="2.80" height="2.80" fill="#1ad858" stroke="#021206" stroke-width="0.75"/>
<rect x="241.78" y="73.12" width="2.80" height="2.80" fill="#1ad858" stroke="#021206" stroke-width="0.75"/>
<rect x="227.01" y="79.65" width="2.80" height="2.80" fill="#1ad858" stroke="#021206" stroke-width="0.75"/>
<rect x="230.49" y="76.57" width="2.80" height="2.80" fill="#1ad858" stroke="#021206" stroke-width="0.75"/>
<rect x="227.34" y="80.28" width="2.80" height="2.80" fill="#1ad858" stroke="#021206" stroke-width="0.75"/>
<rect x="262.17" y="70.17" width="2.80" height="2.80" fill="#1ad858" stroke="#021206" stroke-width="0.75"/>
<rect x="274.81" y="66.28" width="2.80" height="2.80" fill="#1ad858" stroke="#021206" stroke-width="0.75"/>
<rect x="229.73" y="75.80" width="2.80" height="2.80" fill="#1ad858" stroke="#021206" stroke-width="0.75"/>
<rect x="262.94" y="67.29" width="2.80" height="2.80" fill="#1ad858" stroke="#021206" stroke-width="0.75"/>
<rect x="263.09" y="67.11" width="2.80" height="2.80" fill="#1ad858" stroke="#021206" stroke-width="0.75"/>
<rect x="264.20" y="70.23" width="2.80" height="2.80" fill="#1ad858" stroke="#021206" stroke-width="0.75"/>
<rect x="263.17" y="67.19" width="2.80" height="2.80" fill="#1ad858" stroke="#021206" stroke-width="0.75"/>
<rect x="276.02" y="66.47" width="2.80" height="2.80" fill="#1ad858" stroke="#021206" stroke-width="0.75"/>
<rect x="232.06" y="79.01" width="2.80" height="2.80" fill="#1ad858" stroke="#021206" stroke-width="0.75"/>
<rect x="251.26" y="71.03" width="2.80" height="2.80" fill="#1ad858" stroke="#021206" stroke-width="0.75"/>
<rect x="240.87" y="71.08" width="2.80" height="2.80" fill="#1ad858" stroke="#021206" stroke-width="0.75"/>
<rect x="241.48" y="71.08" width="2.80" height="2.80" fill="#1ad858" stroke="#021206" stroke-width="0.75"/>
<rect x="277.63" y="67.05" width="2.80" height="2.80" fill="#1ad858" stroke="#021206" stroke-width="0.75"/>
<rect x="225.42" y="80.26" width="2.80" height="2.80" fill="#1ad858" stroke="#021206" stroke-width="0.75"/>
<rect x="263.76" y="66.70" width="2.80" height="2.80" fill="#1ad858" stroke="#021206" stroke-width="0.75"/>
<rect x="234.35" y="73.27" width="2.80" height="2.80" fill="#1ad858" stroke="#021206" stroke-width="0.75"/>
<rect x="245.11" y="73.93" width="2.80" height="2.80" fill="#1ad858" stroke="#021206" stroke-width="0.75"/>
<rect x="230.61" y="77.05" width="2.80" height="2.80" fill="#1ad858" stroke="#021206" stroke-width="0.75"/>
<rect x="254.65" y="68.40" width="2.80" height="2.80" fill="#1ad858" stroke="#021206" stroke-width="0.75"/>
<rect x="256.28" y="70.20" width="2.80" height="2.80" fill="#1ad858" stroke="#021206" stroke-width="0.75"/>
<rect x="232.90" y="74.38" width="2.80" height="2.80" fill="#1ad858" stroke="#021206" stroke-width="0.75"/>
<rect x="259.33" y="68.20" width="2.80" height="2.80" fill="#1ad858" stroke="#021206" stroke-width="0.75"/>
<rect x="237.40" y="77.23" width="2.80" height="2.80" fill="#1ad858" stroke="#021206" stroke-width="0.75"/>
<rect x="249.89" y="70.71" width="2.80" height="2.80" fill="#1ad858" stroke="#021206" stroke-width="0.75"/>
<rect x="238.59" y="76.08" width="2.80" height="2.80" fill="#1ad858" stroke="#021206" stroke-width="0.75"/>
<rect x="259.36" y="68.67" width="2.80" height="2.80" fill="#1ad858" stroke="#021206" stroke-width="0.75"/>
<rect x="247.48" y="71.62" width="2.80" height="2.80" fill="#1ad858" stroke="#021206" stroke-width="0.75"/>
<rect x="246.92" y="74.77" width="2.80" height="2.80" fill="#1ad858" stroke="#021206" stroke-width="0.75"/>
<rect x="233.77" y="75.43" width="2.80" height="2.80" fill="#1ad858" stroke="#021206" stroke-width="0.75"/>
<rect x="227.26" y="79.51" width="2.80" height="2.80" fill="#1ad858" stroke="#021206" stroke-width="0.75"/>
<rect x="230.64" y="75.15" width="2.80" height="2.80" fill="#1ad858" stroke="#021206" stroke-width="0.75"/>
<rect x="246.63" y="72.57" width="2.80" height="2.80" fill="#1ad858" stroke="#021206" stroke-width="0.75"/>
<rect x="273.10" y="66.91" width="2.80" height="2.80" fill="#1ad858" stroke="#021206" stroke-width="0.75"/>
<rect x="281.69" y="64.83" width="2.80" height="2.80" fill="#1ad858" stroke="#021206" stroke-width="0.75"/>
<rect x="234.06" y="73.78" width="2.80" height="2.80" fill="#1ad858" stroke="#021206" stroke-width="0.75"/>
<rect x="241.54" y="71.75" width="2.80" height="2.80" fill="#1ad858" stroke="#021206" stroke-width="0.75"/>
<rect x="273.17" y="66.98" width="2.80" height="2.80" fill="#1ad858" stroke="#021206" stroke-width="0.75"/>
<rect x="239.51" y="75.51" width="2.80" height="2.80" fill="#1ad858" stroke="#021206" stroke-width="0.75"/>
<rect x="229.32" y="75.45" width="2.80" height="2.80" fill="#1ad858" stroke="#021206" stroke-width="0.75"/>
<rect x="246.60" y="74.72" width="2.80" height="2.80" fill="#1ad858" stroke="#021206" stroke-width="0.75"/>
<rect x="276.01" y="65.12" width="2.80" height="2.80" fill="#1ad858" stroke="#021206" stroke-width="0.75"/>
<rect x="224.02" y="80.14" width="2.80" height="2.80" fill="#1ad858" stroke="#021206" stroke-width="0.75"/>
<rect x="275.75" y="66.45" width="2.80" height="2.80" fill="#1ad858" stroke="#021206" stroke-width="0.75"/>
<rect x="240.67" y="73.21" width="2.80" height="2.80" fill="#1ad858" stroke="#021206" stroke-width="0.75"/>
<rect x="234.89" y="75.04" width="2.80" height="2.80" fill="#1ad858" stroke="#021206" stroke-width="0.75"/>
<rect x="260.93" y="69.74" width="2.80" height="2.80" fill="#1ad858" stroke="#021206" stroke-width="0.75"/>
<rect x="253.76" y="68.91" width="2.80" height="2.80" fill="#1ad858" stroke="#021206" stroke-width="0.75"/>
<rect x="279.52" y="65.27" width="2.80" height="2.80" fill="#1ad858" stroke="#021206" stroke-width="0.75"/>
<rect x="255.86" y="70.63" width="2.80" height="2.80" fill="#1ad858" stroke="#021206" stroke-width="0.75"/>
<rect x="256.95" y="71.41" width="2.80" height="2.80" fill="#1ad858" stroke="#021206" stroke-width="0.75"/>
<rect x="280.24" y="66.18" width="2.80" height="2.80" fill="#1ad858" stroke="#021206" stroke-width="0.75"/>
<rect x="244.75" y="70.75" width="2.80" height="2.80" fill="#1ad858" stroke="#021206" stroke-width="0.75"/>
<rect x="246.85" y="71.57" width="2.80" height="2.80" fill="#1ad858" stroke="#021206" stroke-width="0.75"/>
<rect x="228.62" y="79.17" width="2.80" height="2.80" fill="#1ad858" stroke="#021206" stroke-width="0.75"/>
<rect x="281.96" y="64.58" width="2.80" height="2.80" fill="#1ad858" stroke="#021206" stroke-width="0.75"/>
<rect x="231.35" y="78.78" width="2.80" height="2.80" fill="#1ad858" stroke="#021206" stroke-width="0.75"/>
<rect x="256.28" y="70.02" width="2.80" height="2.80" fill="#1ad858" stroke="#021206" stroke-width="0.75"/>
<rect x="273.82" y="65.42" width="2.80" height="2.80" fill="#1ad858" stroke="#021206" stroke-width="0.75"/>
<rect x="230.31" y="78.45" width="2.80" height="2.80" fill="#1ad858" stroke="#021206" stroke-width="0.75"/>
<rect x="233.20" y="74.03" width="2.80" height="2.80" fill="#1ad858" stroke="#021206" stroke-width="0.75"/>
<rect x="265.42" y="67.75" width="2.80" height="2.80" fill="#1ad858" stroke="#021206" stroke-width="0.75"/>
<rect x="233.40" y="78.70" width="2.80" height="2.80" fill="#1ad858" stroke="#021206" stroke-width="0.75"/>
<rect x="234.47" y="76.63" width="2.80" height="2.80" fill="#1ad858" stroke="#021206" stroke-width="0.75"/>
<rect x="252.33" y="71.60" width="2.80" height="2.80" fill="#1ad858" stroke="#021206" stroke-width="0.75"/>
<rect x="252.19" y="71.42" width="2.80" height="2.80" fill="#1ad858" stroke="#021206" stroke-width="0.75"/>
<rect x="240.71" y="75.88" width="2.80" height="2.80" fill="#1ad858" stroke="#021206" stroke-width="0.75"/>
<rect x="252.20" y="69.95" width="2.80" height="2.80" fill="#1ad858" stroke="#021206" stroke-width="0.75"/>
<rect x="268.99" y="68.04" width="2.80" height="2.80" fill="#1ad858" stroke="#021206" stroke-width="0.75"/>
<rect x="229.84" y="76.88" width="2.80" height="2.80" fill="#1ad858" stroke="#021206" stroke-width="0.75"/>
<rect x="276.03" y="66.61" width="2.80" height="2.80" fill="#1ad858" stroke="#021206" stroke-width="0.75"/>
<rect x="253.04" y="68.50" width="2.80" height="2.80" fill="#1ad858" stroke="#021206" stroke-width="0.75"/>
<rect x="229.96" y="75.03" width="2.80" height="2.80" fill="#1ad858" stroke="#021206" stroke-width="0.75"/>
<rect x="266.28" y="66.48" width="2.80" height="2.80" fill="#1ad858" stroke="#021206" stroke-width="0.75"/>
<rect x="231.05" y="78.64" width="2.80" height="2.80" fill="#1ad858" stroke="#021206" stroke-width="0.75"/>
<rect x="251.08" y="71.55" width="2.80" height="2.80" fill="#1ad858" stroke="#021206" stroke-width="0.75"/>
<rect x="245.26" y="74.72" width="2.80" height="2.80" fill="#1ad858" stroke="#021206" stroke-width="0.75"/>
<rect x="268.80" y="68.53" width="2.80" height="2.80" fill="#1ad858" stroke="#021206" stroke-width="0.75"/>
<rect x="265.21" y="66.38" width="2.80" height="2.80" fill="#1ad858" stroke="#021206" stroke-width="0.75"/>
<rect x="257.32" y="67.62" width="2.80" height="2.80" fill="#1ad858" stroke="#021206" stroke-width="0.75"/>
<rect x="242.62" y="70.73" width="2.80" height="2.80" fill="#1ad858" stroke="#021206" stroke-width="0.75"/>
<rect x="279.15" y="66.04" width="2.80" height="2.80" fill="#1ad858" stroke="#021206" stroke-width="0.75"/>
<rect x="260.97" y="70.83" width="2.80" height="2.80" fill="#1ad858" stroke="#021206" stroke-width="0.75"/>
<rect x="245.98" y="70.79" width="2.80" height="2.80" fill="#1ad858" stroke="#021206" stroke-width="0.75"/>
<rect x="281.82" y="64.62" width="2.80" height="2.80" fill="#1ad858" stroke="#021206" stroke-width="0.75"/>
<rect x="257.97" y="70.46" width="2.80" height="2.80" fill="#1ad858" stroke="#021206" stroke-width="0.75"/>
<rect x="228.94" y="78.22" width="2.80" height="2.80" fill="#1ad858" stroke="#021206" stroke-width="0.75"/>
<rect x="262.52" y="67.89" width="2.80" height="2.80" fill="#1ad858" stroke="#021206" stroke-width="0.75"/>
<rect x="253.89" y="72.30" width="2.80" height="2.80" fill="#1ad858" stroke="#021206" stroke-width="0.75"/>
<rect x="239.35" y="76.88" width="2.80" height="2.80" fill="#1ad858" stroke="#021206" stroke-width="0.75"/>
<rect x="242.40" y="72.54" width="2.80" height="2.80" fill="#1ad858" stroke="#021206" stroke-width="0.75"/>
<rect x="280.04" y="64.76" width="2.80" height="2.80" fill="#1ad858" stroke="#021206" stroke-width="0.75"/>
<rect x="264.46" y="69.20" width="2.80" height="2.80" fill="#1ad858" stroke="#021206" stroke-width="0.75"/>
<rect x="255.49" y="68.39" width="2.80" height="2.80" fill="#1ad858" stroke="#021206" stroke-width="0.75"/>
<rect x="251.12" y="69.72" width="2.80" height="2.80" fill="#1ad858" stroke="#021206" stroke-width="0.75"/>
<rect x="240.03" y="72.55" width="2.80" height="2.80" fill="#1ad858" stroke="#021206" stroke-width="0.75"/>
<rect x="242.94" y="73.67" width="2.80" height="2.80" fill="#1ad858" stroke="#021206" stroke-width="0.75"/>
<rect x="270.22" y="67.31" width="2.80" height="2.80" fill="#1ad858" stroke="#021206" stroke-width="0.75"/>
<rect x="238.60" y="71.79" width="2.80" height="2.80" fill="#1ad858" stroke="#021206" stroke-width="0.75"/>
<rect x="233.09" y="77.18" width="2.80" height="2.80" fill="#1ad858" stroke="#021206" stroke-width="0.75"/>
<rect x="230.18" y="75.54" width="2.80" height="2.80" fill="#1ad858" stroke="#021206" stroke-width="0.75"/>
<rect x="230.90" y="77.07" width="2.80" height="2.80" fill="#1ad858" stroke="#021206" stroke-width="0.75"/>
<rect x="227.81" y="76.81" width="2.80" height="2.80" fill="#1ad858" stroke="#021206" stroke-width="0.75"/>
<rect x="231.93" y="74.12" width="2.80" height="2.80" fill="#1ad858" stroke="#021206" stroke-width="0.75"/>
<rect x="237.15" y="74.45" width="2.80" height="2.80" fill="#1ad858" stroke="#021206" stroke-width="0.75"/>
<rect x="267.29" y="67.91" width="2.80" height="2.80" fill="#1ad858" stroke="#021206" stroke-width="0.75"/>
<rect x="243.81" y="71.26" width="2.80" height="2.80" fill="#1ad858" stroke="#021206" stroke-width="0.75"/>
<rect x="234.61" y="76.81" width="2.80" height="2.80" fill="#1ad858" stroke="#021206" stroke-width="0.75"/>
<rect x="232.20" y="75.83" width="2.80" height="2.80" fill="#1ad858" stroke="#021206" stroke-width="0.75"/>
<rect x="259.04" y="69.95" width="2.80" height="2.80" fill="#1ad858" stroke="#021206" stroke-width="0.75"/>
<rect x="261.07" y="70.98" width="2.80" height="2.80" fill="#1ad858" stroke="#021206" stroke-width="0.75"/>
<rect x="269.98" y="67.01" width="2.80" height="2.80" fill="#1ad858" stroke="#021206" stroke-width="0.75"/>
<rect x="259.87" y="70.03" width="2.80" height="2.80" fill="#1ad858" stroke="#021206" stroke-width="0.75"/>
<rect x="280.46" y="65.17" width="2.80" height="2.80" fill="#1ad858" stroke="#021206" stroke-width="0.75"/>
<rect x="239.40" y="73.41" width="2.80" height="2.80" fill="#1ad858" stroke="#021206" stroke-width="0.75"/>
<rect x="246.19" y="71.76" width="2.80" height="2.80" fill="#1ad858" stroke="#021206" stroke-width="0.75"/>
<rect x="260.63" y="69.63" width="2.80" height="2.80" fill="#1ad858" stroke="#021206" stroke-width="0.75"/>
<rect x="253.24" y="72.72" width="2.80" height="2.80" fill="#1ad858" stroke="#021206" stroke-width="0.75"/>
<rect x="233.54" y="77.24" width="2.80" height="2.80" fill="#1ad858" stroke="#021206" stroke-width="0.75"/>
<rect x="253.02" y="70.64" width="2.80" height="2.80" fill="#1ad858" stroke="#021206" stroke-width="0.75"/>
<rect x="286.57" y="64.82" width="2.80" height="2.80" fill="#1ad858" stroke="#021206" stroke-width="0.75"/>
<rect x="261.78" y="69.62" width="2.80" height="2.80" fill="#1ad858" stroke="#021206" stroke-width="0.75"/>
<rect x="245.60" y="74.78" width="2.80" height="2.80" fill="#1ad858" stroke="#021206" stroke-width="0.75"/>
<rect x="253.74" y="71.12" width="2.80" height="2.80" fill="#1ad858" stroke="#021206" stroke-width="0.75"/>
<rect x="230.66" y="78.00" width="2.80" height="2.80" fill="#1ad858" stroke="#021206" stroke-width="0.75"/>
<rect x="262.11" y="70.39" width="2.80" height="2.80" fill="#1ad858" stroke="#021206" stroke-width="0.75"/>
<rect x="274.69" y="67.24" width="2.80" height="2.80" fill="#1ad858" stroke="#021206" stroke-width="0.75"/>
<rect x="262.53" y="67.49" width="2.80" height="2.80" fill="#1ad858" stroke="#021206" stroke-width="0.75"/>
<rect x="276.99" y="64.65" width="2.80" height="2.80" fill="#1ad858" stroke="#021206" stroke-width="0.75"/>
<rect x="274.16" y="65.10" width="2.80" height="2.80" fill="#1ad858" stroke="#021206" stroke-width="0.75"/>
<rect x="258.92" y="71.56" width="2.80" height="2.80" fill="#1ad858" stroke="#021206" stroke-width="0.75"/>
<rect x="253.13" y="73.28" width="2.80" height="2.80" fill="#1ad858" stroke="#021206" stroke-width="0.75"/>
<rect x="230.37" y="75.90" width="2.80" height="2.80" fill="#1ad858" stroke="#021206" stroke-width="0.75"/>
<rect x="245.95" y="71.80" width="2.80" height="2.80" fill="#1ad858" stroke="#021206" stroke-width="0.75"/>
<rect x="241.06" y="75.39" width="2.80" height="2.80" fill="#1ad858" stroke="#021206" stroke-width="0.75"/>
<rect x="258.89" y="68.17" width="2.80" height="2.80" fill="#1ad858" stroke="#021206" stroke-width="0.75"/>
<rect x="263.77" y="70.38" width="2.80" height="2.80" fill="#1ad858" stroke="#021206" stroke-width="0.75"/>
<rect x="277.41" y="64.77" width="2.80" height="2.80" fill="#1ad858" stroke="#021206" stroke-width="0.75"/>
<rect x="266.07" y="67.00" width="2.80" height="2.80" fill="#1ad858" stroke="#021206" stroke-width="0.75"/>
<rect x="286.03" y="64.33" width="2.80" height="2.80" fill="#1ad858" stroke="#021206" stroke-width="0.75"/>
<rect x="253.86" y="71.49" width="2.80" height="2.80" fill="#1ad858" stroke="#021206" stroke-width="0.75"/>
<rect x="251.26" y="72.64" width="2.80" height="2.80" fill="#1ad858" stroke="#021206" stroke-width="0.75"/>
<rect x="257.68" y="70.25" width="2.80" height="2.80" fill="#1ad858" stroke="#021206" stroke-width="0.75"/>
<rect x="225.24" y="79.66" width="2.80" height="2.80" fill="#1ad858" stroke="#021206" stroke-width="0.75"/>
<rect x="236.99" y="74.47" width="2.80" height="2.80" fill="#1ad858" stroke="#021206" stroke-width="0.75"/>
<rect x="260.96" y="69.61" width="2.80" height="2.80" fill="#1ad858" stroke="#021206" stroke-width="0.75"/>
<rect x="254.89" y="72.21" width="2.80" height="2.80" fill="#1ad858" stroke="#021206" stroke-width="0.75"/>
<rect x="236.00" y="74.05" width="2.80" height="2.80" fill="#1ad858" stroke="#021206" stroke-width="0.75"/>
<rect x="242.40" y="70.62" width="2.80" height="2.80" fill="#1ad858" stroke="#021206" stroke-width="0.75"/>
<rect x="251.10" y="70.00" width="2.80" height="2.80" fill="#1ad858" stroke="#021206" stroke-width="0.75"/>
<rect x="250.65" y="72.20" width="2.80" height="2.80" fill="#1ad858" stroke="#021206" stroke-width="0.75"/>
<rect x="243.30" y="72.55" width="2.80" height="2.80" fill="#1ad858" stroke="#021206" stroke-width="0.75"/>
<rect x="246.04" y="71.33" width="2.80" height="2.80" fill="#1ad858" stroke="#021206" stroke-width="0.75"/>
<rect x="233.11" y="76.91" width="2.80" height="2.80" fill="#1ad858" stroke="#021206" stroke-width="0.75"/>
<rect x="264.86" y="68.46" width="2.80" height="2.80" fill="#1ad858" stroke="#021206" stroke-width="0.75"/>
<rect x="263.18" y="66.92" width="2.80" height="2.80" fill="#1ad858" stroke="#021206" stroke-width="0.75"/>
<rect x="257.19" y="67.53" width="2.80" height="2.80" fill="#1ad858" stroke="#021206" stroke-width="0.75"/>
<rect x="236.74" y="77.80" width="2.80" height="2.80" fill="#1ad858" stroke="#021206" stroke-width="0.75"/>
<rect x="276.28" y="65.78" width="2.80" height="2.80" fill="#1ad858" stroke="#021206" stroke-width="0.75"/>
<rect x="245.53" y="71.45" width="2.80" height="2.80" fill="#1ad858" stroke="#021206" stroke-width="0.75"/>
<rect x="240.47" y="71.60" width="2.80" height="2.80" fill="#1ad858" stroke="#021206" stroke-width="0.75"/>
<rect x="263.35" y="69.33" width="2.80" height="2.80" fill="#1ad858" stroke="#021206" stroke-width="0.75"/>
<rect x="238.72" y="72.67" width="2.80" height="2.80" fill="#1ad858" stroke="#021206" stroke-width="0.75"/>
<rect x="243.39" y="75.04" width="2.80" height="2.80" fill="#1ad858" stroke="#021206" stroke-width="0.75"/>
<rect x="271.06" y="67.36" width="2.80" height="2.80" fill="#1ad858" stroke="#021206" stroke-width="0.75"/>
<rect x="275.84" y="66.62" width="2.80" height="2.80" fill="#1ad858" stroke="#021206" stroke-width="0.75"/>
<rect x="256.51" y="68.42" width="2.80" height="2.80" fill="#1ad858" stroke="#021206" stroke-width="0.75"/>
<circle cx="413.05" cy="39.25" r="1.5" fill="#f20000" stroke="#200000" stroke-width="0.65"/>
<circle cx="402.14" cy="45.10" r="1.5" fill="#f20000" stroke="#200000" stroke-width="0.65"/>
<circle cx="402.03" cy="45.55" r="1.5" fill="#f20000" stroke="#200000" stroke-width="0.65"/>
<circle cx="434.89" cy="31.48" r="1.5" fill="#f20000" stroke="#200000" stroke-width="0.65"/>
<circle cx="441.37" cy="29.86" r="1.5" fill="#f20000" stroke="#200000" stroke-width="0.65"/>
<circle cx="411.57" cy="34.72" r="1.5" fill="#f20000" stroke="#200000" stroke-width="0.65"/>
<circle cx="406.84" cy="41.30" r="1.5" fill="#f20000" stroke="#200000" stroke-width="0.65"/>
<circle cx="401.73" cy="44.90" r="1.5" fill="#f20000" stroke="#200000" stroke-width="0.65"/>
<circle cx="412.63" cy="37.79" r="1.5" fill="#f20000" stroke="#200000" stroke-width="0.65"/>
<circle cx="412.01" cy="39.56" r="1.5" fill="#f20000" stroke="#200000" stroke-width="0.65"/>
<circle cx="409.59" cy="38.31" r="1.5" fill="#f20000" stroke="#200000" stroke-width="0.65"/>
<circle cx="404.12" cy="45.30" r="1.5" fill="#f20000" stroke="#200000" stroke-width="0.65"/>
<circle cx="405.60" cy="37.91" r="1.5" fill="#f20000" stroke="#200000" stroke-width="0.65"/>
<circle cx="412.62" cy="38.80" r="1.5" fill="#f20000" stroke="#200000" stroke-width="0.65"/>
<circle cx="406.29" cy="37.28" r="1.5" fill="#f20000" stroke="#200000" stroke-width="0.65"/>
<circle cx="432.34" cy="32.09" r="1.5" fill="#f20000" stroke="#200000" stroke-width="0.65"/>
<circle cx="402.50" cy="45.77" r="1.5" fill="#f20000" stroke="#200000" stroke-width="0.65"/>
<circle cx="417.02" cy="40.00" r="1.5" fill="#f20000" stroke="#200000" stroke-width="0.65"/>
<circle cx="406.65" cy="38.28" r="1.5" fill="#f20000" stroke="#200000" stroke-width="0.65"/>
<circle cx="410.40" cy="36.96" r="1.5" fill="#f20000" stroke="#200000" stroke-width="0.65"/>
<circle cx="428.35" cy="34.91" r="1.5" fill="#f20000" stroke="#200000" stroke-width="0.65"/>
<circle cx="416.32" cy="39.18" r="1.5" fill="#f20000" stroke="#200000" stroke-width="0.65"/>
<circle cx="401.70" cy="44.95" r="1.5" fill="#f20000" stroke="#200000" stroke-width="0.65"/>
<circle cx="406.04" cy="37.51" r="1.5" fill="#f20000" stroke="#200000" stroke-width="0.65"/>
<circle cx="403.40" cy="40.78" r="1.5" fill="#f20000" stroke="#200000" stroke-width="0.65"/>
<circle cx="405.45" cy="40.54" r="1.5" fill="#f20000" stroke="#200000" stroke-width="0.65"/>
<circle cx="414.80" cy="40.35" r="1.5" fill="#f20000" stroke="#200000" stroke-width="0.65"/>
<circle cx="420.00" cy="36.71" r="1.5" fill="#f20000" stroke="#200000" stroke-width="0.65"/>
<circle cx="413.87" cy="40.36" r="1.5" fill="#f20000" stroke="#200000" stroke-width="0.65"/>
<circle cx="406.01" cy="44.74" r="1.5" fill="#f20000" stroke="#200000" stroke-width="0.65"/>
<circle cx="421.93" cy="37.05" r="1.5" fill="#f20000" stroke="#200000" stroke-width="0.65"/>
<circle cx="429.21" cy="33.17" r="1.5" fill="#f20000" stroke="#200000" stroke-width="0.65"/>
<circle cx="406.25" cy="41.12" r="1.5" fill="#f20000" stroke="#200000" stroke-width="0.65"/>
<circle cx="408.68" cy="43.13" r="1.5" fill="#f20000" stroke="#200000" stroke-width="0.65"/>
<circle cx="408.84" cy="37.30" r="1.5" fill="#f20000" stroke="#200000" stroke-width="0.65"/>
<circle cx="400.26" cy="47.21" r="1.5" fill="#f20000" stroke="#200000" stroke-width="0.65"/>
<circle cx="410.25" cy="42.21" r="1.5" fill="#f20000" stroke="#200000" stroke-width="0.65"/>
<circle cx="414.83" cy="37.30" r="1.5" fill="#f20000" stroke="#200000" stroke-width="0.65"/>
<circle cx="407.54" cy="40.61" r="1.5" fill="#f20000" stroke="#200000" stroke-width="0.65"/>
<circle cx="433.70" cy="32.28" r="1.5" fill="#f20000" stroke="#200000" stroke-width="0.65"/>
<circle cx="406.75" cy="38.96" r="1.5" fill="#f20000" stroke="#200000" stroke-width="0.65"/>
<circle cx="416.18" cy="40.46" r="1.5" fill="#f20000" stroke="#200000" stroke-width="0.65"/>
<circle cx="430.46" cy="32.32" r="1.5" fill="#f20000" stroke="#200000" stroke-width="0.65"/>
<circle cx="422.81" cy="35.16" r="1.5" fill="#f20000" stroke="#200000" stroke-width="0.65"/>
<circle cx="409.93" cy="35.26" r="1.5" fill="#f20000" stroke="#200000" stroke-width="0.65"/>
<circle cx="424.45" cy="35.22" r="1.5" fill="#f20000" stroke="#200000" stroke-width="0.65"/>
<circle cx="414.35" cy="38.98" r="1.5" fill="#f20000" stroke="#200000" stroke-width="0.65"/>
<circle cx="406.95" cy="42.47" r="1.5" fill="#f20000" stroke="#200000" stroke-width="0.65"/>
<circle cx="406.48" cy="42.40" r="1.5" fill="#f20000" stroke="#200000" stroke-width="0.65"/>
<circle cx="433.04" cy="32.34" r="1.5" fill="#f20000" stroke="#200000" stroke-width="0.65"/>
<circle cx="409.78" cy="40.60" r="1.5" fill="#f20000" stroke="#200000" stroke-width="0.65"/>
<circle cx="410.27" cy="42.08" r="1.5" fill="#f20000" stroke="#200000" stroke-width="0.65"/>
<circle cx="404.28" cy="39.66" r="1.5" fill="#f20000" stroke="#200000" stroke-width="0.65"/>
<circle cx="409.44" cy="39.80" r="1.5" fill="#f20000" stroke="#200000" stroke-width="0.65"/>
<circle cx="405.70" cy="42.75" r="1.5" fill="#f20000" stroke="#200000" stroke-width="0.65"/>
<circle cx="413.72" cy="37.28" r="1.5" fill="#f20000" stroke="#200000" stroke-width="0.65"/>
<circle cx="430.34" cy="33.22" r="1.5" fill="#f20000" stroke="#200000" stroke-width="0.65"/>
<circle cx="418.12" cy="37.75" r="1.5" fill="#f20000" stroke="#200000" stroke-width="0.65"/>
<circle cx="403.55" cy="40.61" r="1.5" fill="#f20000" stroke="#200000" stroke-width="0.65"/>
<circle cx="404.62" cy="45.97" r="1.5" fill="#f20000" stroke="#200000" stroke-width="0.65"/>
<circle cx="402.88" cy="46.36" r="1.5" fill="#f20000" stroke="#200000" stroke-width="0.65"/>
<circle cx="417.46" cy="40.02" r="1.5" fill="#f20000" stroke="#200000" stroke-width="0.65"/>
<circle cx="410.63" cy="38.03" r="1.5" fill="#f20000" stroke="#200000" stroke-width="0.65"/>
<circle cx="409.35" cy="35.04" r="1.5" fill="#f20000" stroke="#200000" stroke-width="0.65"/>
<circle cx="401.19" cy="46.14" r="1.5" fill="#f20000" stroke="#200000" stroke-width="0.65"/>
<circle cx="412.24" cy="36.42" r="1.5" fill="#f20000" stroke="#200000" stroke-width="0.65"/>
<circle cx="420.70" cy="37.17" r="1.5" fill="#f20000" stroke="#200000" stroke-width="0.65"/>
<circle cx="422.92" cy="36.30" r="1.5" fill="#f20000" stroke="#200000" stroke-width="0.65"/>
<circle cx="416.56" cy="36.90" r="1.5" fill="#f20000" stroke="#200000" stroke-width="0.65"/>
<circle cx="404.63" cy="44.60" r="1.5" fill="#f20000" stroke="#200000" stroke-width="0.65"/>
<circle cx="410.09" cy="33.55" r="1.5" fill="#f20000" stroke="#200000" stroke-width="0.65"/>
<circle cx="428.10" cy="33.15" r="1.5" fill="#f20000" stroke="#200000" stroke-width="0.65"/>
<circle cx="411.72" cy="35.13" r="1.5" fill="#f20000" stroke="#200000" stroke-width="0.65"/>
<circle cx="418.35" cy="39.69" r="1.5" fill="#f20000" stroke="#200000" stroke-width="0.65"/>
<circle cx="409.61" cy="36.22" r="1.5" fill="#f20000" stroke="#200000" stroke-width="0.65"/>
<circle cx="414.48" cy="37.93" r="1.5" fill="#f20000" stroke="#200000" stroke-width="0.65"/>
<circle cx="407.72" cy="35.28" r="1.5" fill="#f20000" stroke="#200000" stroke-width="0.65"/>
<circle cx="410.46" cy="36.79" r="1.5" fill="#f20000" stroke="#200000" stroke-width="0.65"/>
<circle cx="400.81" cy="46.60" r="1.5" fill="#f20000" stroke="#200000" stroke-width="0.65"/>
<circle cx="409.10" cy="38.70" r="1.5" fill="#f20000" stroke="#200000" stroke-width="0.65"/>
<circle cx="415.91" cy="40.69" r="1.5" fill="#f20000" stroke="#200000" stroke-width="0.65"/>
<circle cx="405.49" cy="42.86" r="1.5" fill="#f20000" stroke="#200000" stroke-width="0.65"/>
<circle cx="405.05" cy="42.25" r="1.5" fill="#f20000" stroke="#200000" stroke-width="0.65"/>
<circle cx="429.09" cy="32.37" r="1.5" fill="#f20000" stroke="#200000" stroke-width="0.65"/>
<circle cx="404.78" cy="39.36" r="1.5" fill="#f20000" stroke="#200000" stroke-width="0.65"/>
<circle cx="409.95" cy="35.49" r="1.5" fill="#f20000" stroke="#200000" stroke-width="0.65"/>
<circle cx="430.65" cy="33.46" r="1.5" fill="#f20000" stroke="#200000" stroke-width="0.65"/>
<circle cx="402.36" cy="44.16" r="1.5" fill="#f20000" stroke="#200000" stroke-width="0.65"/>
<circle cx="423.64" cy="34.69" r="1.5" fill="#f20000" stroke="#200000" stroke-width="0.65"/>
<circle cx="410.66" cy="39.59" r="1.5" fill="#f20000" stroke="#200000" stroke-width="0.65"/>
<circle cx="428.33" cy="33.85" r="1.5" fill="#f20000" stroke="#200000" stroke-width="0.65"/>
<circle cx="439.63" cy="30.34" r="1.5" fill="#f20000" stroke="#200000" stroke-width="0.65"/>
<circle cx="418.51" cy="37.28" r="1.5" fill="#f20000" stroke="#200000" stroke-width="0.65"/>
<circle cx="424.24" cy="35.67" r="1.5" fill="#f20000" stroke="#200000" stroke-width="0.65"/>
<circle cx="409.04" cy="38.35" r="1.5" fill="#f20000" stroke="#200000" stroke-width="0.65"/>
<circle cx="400.08" cy="47.79" r="1.5" fill="#f20000" stroke="#200000" stroke-width="0.65"/>
<circle cx="418.56" cy="37.06" r="1.5" fill="#f20000" stroke="#200000" stroke-width="0.65"/>
<circle cx="413.93" cy="40.42" r="1.5" fill="#f20000" stroke="#200000" stroke-width="0.65"/>
<circle cx="435.42" cy="32.07" r="1.5" fill="#f20000" stroke="#200000" stroke-width="0.65"/>
<circle cx="411.58" cy="37.03" r="1.5" fill="#f20000" stroke="#200000" stroke-width="0.65"/>
<circle cx="414.65" cy="37.46" r="1.5" fill="#f20000" stroke="#200000" stroke-width="0.65"/>
<circle cx="401.09" cy="48.04" r="1.5" fill="#f20000" stroke="#200000" stroke-width="0.65"/>
<circle cx="409.82" cy="38.01" r="1.5" fill="#f20000" stroke="#200000" stroke-width="0.65"/>
<circle cx="407.24" cy="43.49" r="1.5" fill="#f20000" stroke="#200000" stroke-width="0.65"/>
<circle cx="430.23" cy="33.63" r="1.5" fill="#f20000" stroke="#200000" stroke-width="0.65"/>
<circle cx="426.97" cy="32.80" r="1.5" fill="#f20000" stroke="#200000" stroke-width="0.65"/>
<circle cx="411.92" cy="41.78" r="1.5" fill="#f20000" stroke="#200000" stroke-width="0.65"/>
<circle cx="410.29" cy="35.78" r="1.5" fill="#f20000" stroke="#200000" stroke-width="0.65"/>
<circle cx="406.26" cy="38.51" r="1.5" fill="#f20000" stroke="#200000" stroke-width="0.65"/>
<circle cx="408.55" cy="43.29" r="1.5" fill="#f20000" stroke="#200000" stroke-width="0.65"/>
<circle cx="418.53" cy="37.22" r="1.5" fill="#f20000" stroke="#200000" stroke-width="0.65"/>
<circle cx="402.94" cy="42.16" r="1.5" fill="#f20000" stroke="#200000" stroke-width="0.65"/>
<circle cx="409.38" cy="38.89" r="1.5" fill="#f20000" stroke="#200000" stroke-width="0.65"/>
<circle cx="413.68" cy="37.01" r="1.5" fill="#f20000" stroke="#200000" stroke-width="0.65"/>
<circle cx="410.76" cy="36.87" r="1.5" fill="#f20000" stroke="#200000" stroke-width="0.65"/>
<circle cx="399.95" cy="48.23" r="1.5" fill="#f20000" stroke="#200000" stroke-width="0.65"/>
<circle cx="424.48" cy="35.12" r="1.5" fill="#f20000" stroke="#200000" stroke-width="0.65"/>
<circle cx="409.78" cy="34.55" r="1.5" fill="#f20000" stroke="#200000" stroke-width="0.65"/>
<circle cx="409.09" cy="39.80" r="1.5" fill="#f20000" stroke="#200000" stroke-width="0.65"/>
<circle cx="412.18" cy="36.11" r="1.5" fill="#f20000" stroke="#200000" stroke-width="0.65"/>
<circle cx="403.87" cy="43.79" r="1.5" fill="#f20000" stroke="#200000" stroke-width="0.65"/>
<circle cx="408.70" cy="34.28" r="1.5" fill="#f20000" stroke="#200000" stroke-width="0.65"/>
<circle cx="412.09" cy="41.58" r="1.5" fill="#f20000" stroke="#200000" stroke-width="0.65"/>
<circle cx="419.63" cy="37.16" r="1.5" fill="#f20000" stroke="#200000" stroke-width="0.65"/>
<circle cx="412.34" cy="38.04" r="1.5" fill="#f20000" stroke="#200000" stroke-width="0.65"/>
<circle cx="410.16" cy="41.93" r="1.5" fill="#f20000" stroke="#200000" stroke-width="0.65"/>
<circle cx="408.84" cy="37.14" r="1.5" fill="#f20000" stroke="#200000" stroke-width="0.65"/>
<circle cx="407.60" cy="41.53" r="1.5" fill="#f20000" stroke="#200000" stroke-width="0.65"/>
<circle cx="420.91" cy="38.54" r="1.5" fill="#f20000" stroke="#200000" stroke-width="0.65"/>
<circle cx="409.02" cy="40.91" r="1.5" fill="#f20000" stroke="#200000" stroke-width="0.65"/>
<circle cx="420.52" cy="36.92" r="1.5" fill="#f20000" stroke="#200000" stroke-width="0.65"/>
<circle cx="416.08" cy="40.60" r="1.5" fill="#f20000" stroke="#200000" stroke-width="0.65"/>
<circle cx="405.16" cy="38.57" r="1.5" fill="#f20000" stroke="#200000" stroke-width="0.65"/>
<circle cx="413.29" cy="41.12" r="1.5" fill="#f20000" stroke="#200000" stroke-width="0.65"/>
<circle cx="431.39" cy="33.02" r="1.5" fill="#f20000" stroke="#200000" stroke-width="0.65"/>
<circle cx="415.43" cy="37.94" r="1.5" fill="#f20000" stroke="#200000" stroke-width="0.65"/>
<circle cx="406.35" cy="38.99" r="1.5" fill="#f20000" stroke="#200000" stroke-width="0.65"/>
<circle cx="408.00" cy="42.00" r="1.5" fill="#f20000" stroke="#200000" stroke-width="0.65"/>
<circle cx="407.38" cy="42.95" r="1.5" fill="#f20000" stroke="#200000" stroke-width="0.65"/>
<circle cx="400.76" cy="45.98" r="1.5" fill="#f20000" stroke="#200000" stroke-width="0.65"/>
<circle cx="413.72" cy="41.16" r="1.5" fill="#f20000" stroke="#200000" stroke-width="0.65"/>
<circle cx="425.78" cy="35.45" r="1.5" fill="#f20000" stroke="#200000" stroke-width="0.65"/>
<circle cx="412.74" cy="34.61" r="1.5" fill="#f20000" stroke="#200000" stroke-width="0.65"/>
<circle cx="409.90" cy="37.79" r="1.5" fill="#f20000" stroke="#200000" stroke-width="0.65"/>
<circle cx="425.35" cy="34.34" r="1.5" fill="#f20000" stroke="#200000" stroke-width="0.65"/>
<circle cx="402.43" cy="47.05" r="1.5" fill="#f20000" stroke="#200000" stroke-width="0.65"/>
<circle cx="409.73" cy="33.42" r="1.5" fill="#f20000" stroke="#200000" stroke-width="0.65"/>
<circle cx="402.65" cy="45.30" r="1.5" fill="#f20000" stroke="#200000" stroke-width="0.65"/>
<circle cx="409.16" cy="39.51" r="1.5" fill="#f20000" stroke="#200000" stroke-width="0.65"/>
<circle cx="411.75" cy="36.91" r="1.5" fill="#f20000" stroke="#200000" stroke-width="0.65"/>
<circle cx="431.03" cy="32.42" r="1.5" fill="#f20000" stroke="#200000" stroke-width="0.65"/>
<circle cx="409.65" cy="41.76" r="1.5" fill="#f20000" stroke="#200000" stroke-width="0.65"/>
<circle cx="421.02" cy="38.13" r="1.5" fill="#f20000" stroke="#200000" stroke-width="0.65"/>
<circle cx="403.44" cy="46.65" r="1.5" fill="#f20000" stroke="#200000" stroke-width="0.65"/>
<circle cx="400.75" cy="46.15" r="1.5" fill="#f20000" stroke="#200000" stroke-width="0.65"/>
<circle cx="418.49" cy="39.05" r="1.5" fill="#f20000" stroke="#200000" stroke-width="0.65"/>
<circle cx="408.45" cy="35.72" r="1.5" fill="#f20000" stroke="#200000" stroke-width="0.65"/>
<circle cx="407.85" cy="40.19" r="1.5" fill="#f20000" stroke="#200000" stroke-width="0.65"/>
<circle cx="427.28" cy="32.63" r="1.5" fill="#f20000" stroke="#200000" stroke-width="0.65"/>
<circle cx="407.04" cy="37.60" r="1.5" fill="#f20000" stroke="#200000" stroke-width="0.65"/>
<circle cx="401.75" cy="45.75" r="1.5" fill="#f20000" stroke="#200000" stroke-width="0.65"/>
<path d="M415.76 67.94L417.41 69.59L415.76 71.24L414.11 69.59Z" fill="#3d76b4" stroke="#081220" stroke-width="0.85"/>
<path d="M435.07 61.58L436.72 63.23L435.07 64.88L433.42 63.23Z" fill="#3d76b4" stroke="#081220" stroke-width="0.85"/>
<path d="M424.91 65.28L426.56 66.93L424.91 68.58L423.26 66.93Z" fill="#3d76b4" stroke="#081220" stroke-width="0.85"/>
<path d="M440.15 59.77L441.80 61.42L440.15 63.07L438.50 61.42Z" fill="#3d76b4" stroke="#081220" stroke-width="0.85"/>
<path d="M421.91 66.52L423.56 68.17L421.91 69.82L420.26 68.17Z" fill="#3d76b4" stroke="#081220" stroke-width="0.85"/>
<path d="M431.65 63.75L433.30 65.40L431.65 67.05L430.00 65.40Z" fill="#3d76b4" stroke="#081220" stroke-width="0.85"/>
<path d="M420.27 68.13L421.92 69.78L420.27 71.43L418.62 69.78Z" fill="#3d76b4" stroke="#081220" stroke-width="0.85"/>
<path d="M430.09 62.90L431.74 64.55L430.09 66.20L428.44 64.55Z" fill="#3d76b4" stroke="#081220" stroke-width="0.85"/>
<path d="M414.43 70.98L416.08 72.63L414.43 74.28L412.78 72.63Z" fill="#3d76b4" stroke="#081220" stroke-width="0.85"/>
<path d="M418.14 70.78L419.79 72.43L418.14 74.08L416.49 72.43Z" fill="#3d76b4" stroke="#081220" stroke-width="0.85"/>
<path d="M412.05 70.35L413.70 72.00L412.05 73.65L410.40 72.00Z" fill="#3d76b4" stroke="#081220" stroke-width="0.85"/>
<path d="M426.95 64.41L428.60 66.06L426.95 67.71L425.30 66.06Z" fill="#3d76b4" stroke="#081220" stroke-width="0.85"/>
<path d="M427.96 63.74L429.61 65.39L427.96 67.04L426.31 65.39Z" fill="#3d76b4" stroke="#081220" stroke-width="0.85"/>
<path d="M434.93 61.62L436.58 63.27L434.93 64.92L433.28 63.27Z" fill="#3d76b4" stroke="#081220" stroke-width="0.85"/>
<path d="M417.38 68.64L419.03 70.29L417.38 71.94L415.73 70.29Z" fill="#3d76b4" stroke="#081220" stroke-width="0.85"/>
<path d="M413.68 69.45L415.33 71.10L413.68 72.75L412.03 71.10Z" fill="#3d76b4" stroke="#081220" stroke-width="0.85"/>
<path d="M414.75 69.35L416.40 71.00L414.75 72.65L413.10 71.00Z" fill="#3d76b4" stroke="#081220" stroke-width="0.85"/>
<path d="M420.41 67.80L422.06 69.45L420.41 71.10L418.76 69.45Z" fill="#3d76b4" stroke="#081220" stroke-width="0.85"/>
<path d="M415.96 69.52L417.61 71.17L415.96 72.82L414.31 71.17Z" fill="#3d76b4" stroke="#081220" stroke-width="0.85"/>
<path d="M423.49 66.12L425.14 67.77L423.49 69.42L421.84 67.77Z" fill="#3d76b4" stroke="#081220" stroke-width="0.85"/>
<path d="M410.44 71.60L412.09 73.25L410.44 74.90L408.79 73.25Z" fill="#3d76b4" stroke="#081220" stroke-width="0.85"/>
<path d="M427.65 66.34L429.30 67.99L427.65 69.64L426.00 67.99Z" fill="#3d76b4" stroke="#081220" stroke-width="0.85"/>
<path d="M422.21 68.47L423.86 70.12L422.21 71.77L420.56 70.12Z" fill="#3d76b4" stroke="#081220" stroke-width="0.85"/>
<path d="M415.09 67.71L416.74 69.36L415.09 71.01L413.44 69.36Z" fill="#3d76b4" stroke="#081220" stroke-width="0.85"/>
<path d="M424.44 67.05L426.09 68.70L424.44 70.35L422.79 68.70Z" fill="#3d76b4" stroke="#081220" stroke-width="0.85"/>
<path d="M426.69 64.53L428.34 66.18L426.69 67.83L425.04 66.18Z" fill="#3d76b4" stroke="#081220" stroke-width="0.85"/>
<path d="M411.53 72.11L413.18 73.76L411.53 75.41L409.88 73.76Z" fill="#3d76b4" stroke="#081220" stroke-width="0.85"/>
<path d="M411.71 73.08L413.36 74.73L411.71 76.38L410.06 74.73Z" fill="#3d76b4" stroke="#081220" stroke-width="0.85"/>
<path d="M422.51 66.18L424.16 67.83L422.51 69.48L420.86 67.83Z" fill="#3d76b4" stroke="#081220" stroke-width="0.85"/>
<path d="M414.58 68.49L416.23 70.14L414.58 71.79L412.93 70.14Z" fill="#3d76b4" stroke="#081220" stroke-width="0.85"/>
<path d="M431.31 63.19L432.96 64.84L431.31 66.49L429.66 64.84Z" fill="#3d76b4" stroke="#081220" stroke-width="0.85"/>
<path d="M424.07 68.63L425.72 70.28L424.07 71.93L422.42 70.28Z" fill="#3d76b4" stroke="#081220" stroke-width="0.85"/>
<path d="M435.09 61.54L436.74 63.19L435.09 64.84L433.44 63.19Z" fill="#3d76b4" stroke="#081220" stroke-width="0.85"/>
<path d="M432.75 63.15L434.40 64.80L432.75 66.45L431.10 64.80Z" fill="#3d76b4" stroke="#081220" stroke-width="0.85"/>
<path d="M415.64 70.17L417.29 71.82L415.64 73.47L413.99 71.82Z" fill="#3d76b4" stroke="#081220" stroke-width="0.85"/>
<path d="M427.46 66.95L429.11 68.60L427.46 70.25L425.81 68.60Z" fill="#3d76b4" stroke="#081220" stroke-width="0.85"/>
<path d="M438.24 61.44L439.89 63.09L438.24 64.74L436.59 63.09Z" fill="#3d76b4" stroke="#081220" stroke-width="0.85"/>
<path d="M414.51 72.85L416.16 74.50L414.51 76.15L412.86 74.50Z" fill="#3d76b4" stroke="#081220" stroke-width="0.85"/>
<path d="M418.34 70.52L419.99 72.17L418.34 73.82L416.69 72.17Z" fill="#3d76b4" stroke="#081220" stroke-width="0.85"/>
<path d="M431.04 63.47L432.69 65.12L431.04 66.77L429.39 65.12Z" fill="#3d76b4" stroke="#081220" stroke-width="0.85"/>
<path d="M426.39 67.14L428.04 68.79L426.39 70.44L424.74 68.79Z" fill="#3d76b4" stroke="#081220" stroke-width="0.85"/>
<path d="M417.46 70.37L419.11 72.02L417.46 73.67L415.81 72.02Z" fill="#3d76b4" stroke="#081220" stroke-width="0.85"/>
<path d="M417.54 67.31L419.19 68.96L417.54 70.61L415.89 68.96Z" fill="#3d76b4" stroke="#081220" stroke-width="0.85"/>
<path d="M418.38 68.88L420.03 70.53L418.38 72.18L416.73 70.53Z" fill="#3d76b4" stroke="#081220" stroke-width="0.85"/>
<path d="M417.80 68.66L419.45 70.31L417.80 71.96L416.15 70.31Z" fill="#3d76b4" stroke="#081220" stroke-width="0.85"/>
<path d="M416.70 70.00L418.35 71.65L416.70 73.30L415.05 71.65Z" fill="#3d76b4" stroke="#081220" stroke-width="0.85"/>
<path d="M422.27 68.60L423.92 70.25L422.27 71.90L420.62 70.25Z" fill="#3d76b4" stroke="#081220" stroke-width="0.85"/>
<path d="M438.36 61.03L440.01 62.68L438.36 64.33L436.71 62.68Z" fill="#3d76b4" stroke="#081220" stroke-width="0.85"/>
<path d="M434.28 62.28L435.93 63.93L434.28 65.58L432.63 63.93Z" fill="#3d76b4" stroke="#081220" stroke-width="0.85"/>
<path d="M443.98 58.49L445.63 60.14L443.98 61.79L442.33 60.14Z" fill="#3d76b4" stroke="#081220" stroke-width="0.85"/>
<path d="M419.52 70.35L421.17 72.00L419.52 73.65L417.87 72.00Z" fill="#3d76b4" stroke="#081220" stroke-width="0.85"/>
<path d="M421.40 69.10L423.05 70.75L421.40 72.40L419.75 70.75Z" fill="#3d76b4" stroke="#081220" stroke-width="0.85"/>
<path d="M419.50 67.78L421.15 69.43L419.50 71.08L417.85 69.43Z" fill="#3d76b4" stroke="#081220" stroke-width="0.85"/>
<path d="M419.80 66.56L421.45 68.21L419.80 69.86L418.15 68.21Z" fill="#3d76b4" stroke="#081220" stroke-width="0.85"/>
<path d="M435.74 61.20L437.39 62.85L435.74 64.50L434.09 62.85Z" fill="#3d76b4" stroke="#081220" stroke-width="0.85"/>
<path d="M416.90 69.09L418.55 70.74L416.90 72.39L415.25 70.74Z" fill="#3d76b4" stroke="#081220" stroke-width="0.85"/>
<path d="M438.20 60.52L439.85 62.17L438.20 63.82L436.55 62.17Z" fill="#3d76b4" stroke="#081220" stroke-width="0.85"/>
<path d="M418.44 70.03L420.09 71.68L418.44 73.33L416.79 71.68Z" fill="#3d76b4" stroke="#081220" stroke-width="0.85"/>
<path d="M411.00 72.81L412.65 74.46L411.00 76.11L409.35 74.46Z" fill="#3d76b4" stroke="#081220" stroke-width="0.85"/>
<path d="M429.20 65.69L430.85 67.34L429.20 68.99L427.55 67.34Z" fill="#3d76b4" stroke="#081220" stroke-width="0.85"/>
<path d="M411.96 71.67L413.61 73.32L411.96 74.97L410.31 73.32Z" fill="#3d76b4" stroke="#081220" stroke-width="0.85"/>
<path d="M413.43 69.15L415.08 70.80L413.43 72.45L411.78 70.80Z" fill="#3d76b4" stroke="#081220" stroke-width="0.85"/>
<path d="M431.40 64.57L433.05 66.22L431.40 67.87L429.75 66.22Z" fill="#3d76b4" stroke="#081220" stroke-width="0.85"/>
<path d="M427.93 65.76L429.58 67.41L427.93 69.06L426.28 67.41Z" fill="#3d76b4" stroke="#081220" stroke-width="0.85"/>
<path d="M425.83 67.40L427.48 69.05L425.83 70.70L424.18 69.05Z" fill="#3d76b4" stroke="#081220" stroke-width="0.85"/>
<path d="M418.28 69.03L419.93 70.68L418.28 72.33L416.63 70.68Z" fill="#3d76b4" stroke="#081220" stroke-width="0.85"/>
<path d="M432.76 62.66L434.41 64.31L432.76 65.96L431.11 64.31Z" fill="#3d76b4" stroke="#081220" stroke-width="0.85"/>
<path d="M412.39 70.03L414.04 71.68L412.39 73.33L410.74 71.68Z" fill="#3d76b4" stroke="#081220" stroke-width="0.85"/>
<path d="M414.06 68.98L415.71 70.63L414.06 72.28L412.41 70.63Z" fill="#3d76b4" stroke="#081220" stroke-width="0.85"/>
<path d="M413.46 70.54L415.11 72.19L413.46 73.84L411.81 72.19Z" fill="#3d76b4" stroke="#081220" stroke-width="0.85"/>
<path d="M420.59 69.39L422.24 71.04L420.59 72.69L418.94 71.04Z" fill="#3d76b4" stroke="#081220" stroke-width="0.85"/>
<path d="M421.75 65.63L423.40 67.28L421.75 68.93L420.10 67.28Z" fill="#3d76b4" stroke="#081220" stroke-width="0.85"/>
<path d="M412.28 73.48L413.93 75.13L412.28 76.78L410.63 75.13Z" fill="#3d76b4" stroke="#081220" stroke-width="0.85"/>
<path d="M419.25 67.29L420.90 68.94L419.25 70.59L417.60 68.94Z" fill="#3d76b4" stroke="#081220" stroke-width="0.85"/>
<path d="M421.16 68.08L422.81 69.73L421.16 71.38L419.51 69.73Z" fill="#3d76b4" stroke="#081220" stroke-width="0.85"/>
<path d="M418.79 70.05L420.44 71.70L418.79 73.35L417.14 71.70Z" fill="#3d76b4" stroke="#081220" stroke-width="0.85"/>
<path d="M430.20 65.01L431.85 66.66L430.20 68.31L428.55 66.66Z" fill="#3d76b4" stroke="#081220" stroke-width="0.85"/>
<path d="M418.30 68.64L419.95 70.29L418.30 71.94L416.65 70.29Z" fill="#3d76b4" stroke="#081220" stroke-width="0.85"/>
<path d="M433.02 62.98L434.67 64.63L433.02 66.28L431.37 64.63Z" fill="#3d76b4" stroke="#081220" stroke-width="0.85"/>
<path d="M436.36 61.78L438.01 63.43L436.36 65.08L434.71 63.43Z" fill="#3d76b4" stroke="#081220" stroke-width="0.85"/>
<path d="M425.04 65.97L426.69 67.62L425.04 69.27L423.39 67.62Z" fill="#3d76b4" stroke="#081220" stroke-width="0.85"/>
<path d="M413.62 72.60L415.27 74.25L413.62 75.90L411.97 74.25Z" fill="#3d76b4" stroke="#081220" stroke-width="0.85"/>
<path d="M437.27 61.49L438.92 63.14L437.27 64.79L435.62 63.14Z" fill="#3d76b4" stroke="#081220" stroke-width="0.85"/>
<path d="M416.84 67.94L418.49 69.59L416.84 71.24L415.19 69.59Z" fill="#3d76b4" stroke="#081220" stroke-width="0.85"/>
<path d="M411.27 73.26L412.92 74.91L411.27 76.56L409.62 74.91Z" fill="#3d76b4" stroke="#081220" stroke-width="0.85"/>
<path d="M415.16 72.63L416.81 74.28L415.16 75.93L413.51 74.28Z" fill="#3d76b4" stroke="#081220" stroke-width="0.85"/>
<path d="M419.89 67.89L421.54 69.54L419.89 71.19L418.24 69.54Z" fill="#3d76b4" stroke="#081220" stroke-width="0.85"/>
<path d="M443.42 58.79L445.07 60.44L443.42 62.09L441.77 60.44Z" fill="#3d76b4" stroke="#081220" stroke-width="0.85"/>
<path d="M410.47 72.85L412.12 74.50L410.47 76.15L408.82 74.50Z" fill="#3d76b4" stroke="#081220" stroke-width="0.85"/>
<path d="M423.77 65.45L425.42 67.10L423.77 68.75L422.12 67.10Z" fill="#3d76b4" stroke="#081220" stroke-width="0.85"/>
<path d="M433.47 62.85L435.12 64.50L433.47 66.15L431.82 64.50Z" fill="#3d76b4" stroke="#081220" stroke-width="0.85"/>
<path d="M433.14 63.18L434.79 64.83L433.14 66.48L431.49 64.83Z" fill="#3d76b4" stroke="#081220" stroke-width="0.85"/>
<path d="M414.65 68.22L416.30 69.87L414.65 71.52L413.00 69.87Z" fill="#3d76b4" stroke="#081220" stroke-width="0.85"/>
<path d="M426.33 64.93L427.98 66.58L426.33 68.23L424.68 66.58Z" fill="#3d76b4" stroke="#081220" stroke-width="0.85"/>
<path d="M422.63 66.30L424.28 67.95L422.63 69.60L420.98 67.95Z" fill="#3d76b4" stroke="#081220" stroke-width="0.85"/>
<path d="M427.70 64.96L429.35 66.61L427.70 68.26L426.05 66.61Z" fill="#3d76b4" stroke="#081220" stroke-width="0.85"/>
<path d="M415.02 71.26L416.67 72.91L415.02 74.56L413.37 72.91Z" fill="#3d76b4" stroke="#081220" stroke-width="0.85"/>
<path d="M414.23 71.47L415.88 73.12L414.23 74.77L412.58 73.12Z" fill="#3d76b4" stroke="#081220" stroke-width="0.85"/>
<path d="M419.31 66.57L420.96 68.22L419.31 69.87L417.66 68.22Z" fill="#3d76b4" stroke="#081220" stroke-width="0.85"/>
<path d="M420.57 69.74L422.22 71.39L420.57 73.04L418.92 71.39Z" fill="#3d76b4" stroke="#081220" stroke-width="0.85"/>
<path d="M425.54 67.36L427.19 69.01L425.54 70.66L423.89 69.01Z" fill="#3d76b4" stroke="#081220" stroke-width="0.85"/>
<path d="M431.26 62.90L432.91 64.55L431.26 66.20L429.61 64.55Z" fill="#3d76b4" stroke="#081220" stroke-width="0.85"/>
<path d="M415.52 70.48L417.17 72.13L415.52 73.78L413.87 72.13Z" fill="#3d76b4" stroke="#081220" stroke-width="0.85"/>
<path d="M414.72 70.72L416.37 72.37L414.72 74.02L413.07 72.37Z" fill="#3d76b4" stroke="#081220" stroke-width="0.85"/>
<path d="M417.37 71.69L419.02 73.34L417.37 74.99L415.72 73.34Z" fill="#3d76b4" stroke="#081220" stroke-width="0.85"/>
<path d="M412.30 72.24L413.95 73.89L412.30 75.54L410.65 73.89Z" fill="#3d76b4" stroke="#081220" stroke-width="0.85"/>
<path d="M422.73 65.67L424.38 67.32L422.73 68.97L421.08 67.32Z" fill="#3d76b4" stroke="#081220" stroke-width="0.85"/>
<path d="M430.78 63.91L432.43 65.56L430.78 67.21L429.13 65.56Z" fill="#3d76b4" stroke="#081220" stroke-width="0.85"/>
<path d="M414.69 72.69L416.34 74.34L414.69 75.99L413.04 74.34Z" fill="#3d76b4" stroke="#081220" stroke-width="0.85"/>
<path d="M431.13 63.29L432.78 64.94L431.13 66.59L429.48 64.94Z" fill="#3d76b4" stroke="#081220" stroke-width="0.85"/>
<rect x="415.58" y="81.29" width="3.10" height="3.10" fill="#1ad858" stroke="#021206" stroke-width="0.6"/>
<rect x="416.74" y="81.55" width="3.10" height="3.10" fill="#1ad858" stroke="#021206" stroke-width="0.6"/>
<rect x="417.88" y="80.73" width="3.10" height="3.10" fill="#1ad858" stroke="#021206" stroke-width="0.6"/>
<rect x="420.49" y="79.38" width="3.10" height="3.10" fill="#1ad858" stroke="#021206" stroke-width="0.6"/>
<rect x="421.64" y="79.69" width="3.10" height="3.10" fill="#1ad858" stroke="#021206" stroke-width="0.6"/>
<rect x="422.26" y="79.19" width="3.10" height="3.10" fill="#1ad858" stroke="#021206" stroke-width="0.6"/>
<rect x="424.69" y="78.51" width="3.10" height="3.10" fill="#1ad858" stroke="#021206" stroke-width="0.6"/>
<rect x="426.05" y="77.70" width="3.10" height="3.10" fill="#1ad858" stroke="#021206" stroke-width="0.6"/>
<rect x="426.77" y="77.42" width="3.10" height="3.10" fill="#1ad858" stroke="#021206" stroke-width="0.6"/>
<rect x="428.89" y="77.76" width="3.10" height="3.10" fill="#1ad858" stroke="#021206" stroke-width="0.6"/>
<rect x="430.41" y="77.09" width="3.10" height="3.10" fill="#1ad858" stroke="#021206" stroke-width="0.6"/>
<rect x="431.56" y="76.70" width="3.10" height="3.10" fill="#1ad858" stroke="#021206" stroke-width="0.6"/>
<rect x="432.44" y="75.84" width="3.10" height="3.10" fill="#1ad858" stroke="#021206" stroke-width="0.6"/>
<rect x="434.90" y="75.62" width="3.10" height="3.10" fill="#1ad858" stroke="#021206" stroke-width="0.6"/>
<rect x="435.76" y="74.54" width="3.10" height="3.10" fill="#1ad858" stroke="#021206" stroke-width="0.6"/>
<rect x="437.17" y="74.30" width="3.10" height="3.10" fill="#1ad858" stroke="#021206" stroke-width="0.6"/>
<rect x="439.20" y="74.60" width="3.10" height="3.10" fill="#1ad858" stroke="#021206" stroke-width="0.6"/>
<rect x="439.79" y="79.87" width="3.10" height="3.10" fill="#1ad858" stroke="#021206" stroke-width="0.6"/>
<rect x="438.68" y="80.71" width="3.10" height="3.10" fill="#1ad858" stroke="#021206" stroke-width="0.6"/>
<rect x="436.85" y="80.79" width="3.10" height="3.10" fill="#1ad858" stroke="#021206" stroke-width="0.6"/>
<rect x="436.17" y="82.01" width="3.10" height="3.10" fill="#1ad858" stroke="#021206" stroke-width="0.6"/>
<rect x="435.03" y="82.35" width="3.10" height="3.10" fill="#1ad858" stroke="#021206" stroke-width="0.6"/>
<rect x="433.79" y="82.13" width="3.10" height="3.10" fill="#1ad858" stroke="#021206" stroke-width="0.6"/>
<rect x="432.17" y="84.20" width="3.10" height="3.10" fill="#1ad858" stroke="#021206" stroke-width="0.6"/>
<rect x="430.81" y="84.15" width="3.10" height="3.10" fill="#1ad858" stroke="#021206" stroke-width="0.6"/>
<rect x="430.36" y="84.82" width="3.10" height="3.10" fill="#1ad858" stroke="#021206" stroke-width="0.6"/>
<rect x="428.69" y="85.46" width="3.10" height="3.10" fill="#1ad858" stroke="#021206" stroke-width="0.6"/>
<rect x="427.34" y="85.88" width="3.10" height="3.10" fill="#1ad858" stroke="#021206" stroke-width="0.6"/>
<rect x="426.77" y="86.01" width="3.10" height="3.10" fill="#1ad858" stroke="#021206" stroke-width="0.6"/>
<rect x="424.44" y="86.65" width="3.10" height="3.10" fill="#1ad858" stroke="#021206" stroke-width="0.6"/>
<rect x="424.07" y="87.98" width="3.10" height="3.10" fill="#1ad858" stroke="#021206" stroke-width="0.6"/>
<rect x="423.55" y="88.06" width="3.10" height="3.10" fill="#1ad858" stroke="#021206" stroke-width="0.6"/>
<rect x="421.12" y="88.78" width="3.10" height="3.10" fill="#1ad858" stroke="#021206" stroke-width="0.6"/>
<rect x="420.35" y="88.31" width="3.10" height="3.10" fill="#1ad858" stroke="#021206" stroke-width="0.6"/>
<rect x="419.24" y="89.04" width="3.10" height="3.10" fill="#1ad858" stroke="#021206" stroke-width="0.6"/>
<rect x="417.51" y="89.81" width="3.10" height="3.10" fill="#1ad858" stroke="#021206" stroke-width="0.6"/>
<rect x="415.57" y="89.07" width="3.10" height="3.10" fill="#1ad858" stroke="#021206" stroke-width="0.6"/>
<rect x="414.64" y="89.81" width="3.10" height="3.10" fill="#1ad858" stroke="#021206" stroke-width="0.6"/>
<rect x="412.70" y="89.57" width="3.10" height="3.10" fill="#1ad858" stroke="#021206" stroke-width="0.6"/>
<rect x="411.30" y="88.26" width="3.10" height="3.10" fill="#1ad858" stroke="#021206" stroke-width="0.6"/>
<rect x="409.55" y="87.89" width="3.10" height="3.10" fill="#1ad858" stroke="#021206" stroke-width="0.6"/>
<rect x="407.64" y="87.33" width="3.10" height="3.10" fill="#1ad858" stroke="#021206" stroke-width="0.6"/>
<rect x="407.33" y="85.80" width="3.10" height="3.10" fill="#1ad858" stroke="#021206" stroke-width="0.6"/>
<rect x="407.28" y="83.88" width="3.10" height="3.10" fill="#1ad858" stroke="#021206" stroke-width="0.6"/>
<rect x="408.88" y="82.62" width="3.10" height="3.10" fill="#1ad858" stroke="#021206" stroke-width="0.6"/>
<rect x="409.70" y="83.24" width="3.10" height="3.10" fill="#1ad858" stroke="#021206" stroke-width="0.6"/>
<rect x="412.05" y="81.96" width="3.10" height="3.10" fill="#1ad858" stroke="#021206" stroke-width="0.6"/>
<rect x="412.63" y="81.52" width="3.10" height="3.10" fill="#1ad858" stroke="#021206" stroke-width="0.6"/>
<rect x="413.98" y="81.53" width="3.10" height="3.10" fill="#1ad858" stroke="#021206" stroke-width="0.6"/>
<rect x="447.54" y="76.48" width="2.80" height="2.80" fill="#1ad858" stroke="#021206" stroke-width="0.75"/>
<rect x="447.93" y="74.52" width="2.80" height="2.80" fill="#1ad858" stroke="#021206" stroke-width="0.75"/>
<rect x="439.58" y="78.27" width="2.80" height="2.80" fill="#1ad858" stroke="#021206" stroke-width="0.75"/>
<rect x="457.65" y="71.41" width="2.80" height="2.80" fill="#1ad858" stroke="#021206" stroke-width="0.75"/>
<rect x="436.79" y="80.07" width="2.80" height="2.80" fill="#1ad858" stroke="#021206" stroke-width="0.75"/>
<rect x="452.38" y="71.05" width="2.80" height="2.80" fill="#1ad858" stroke="#021206" stroke-width="0.75"/>
<rect x="449.79" y="72.13" width="2.80" height="2.80" fill="#1ad858" stroke="#021206" stroke-width="0.75"/>
<rect x="441.29" y="76.39" width="2.80" height="2.80" fill="#1ad858" stroke="#021206" stroke-width="0.75"/>
<rect x="447.68" y="76.79" width="2.80" height="2.80" fill="#1ad858" stroke="#021206" stroke-width="0.75"/>
<rect x="455.12" y="71.43" width="2.80" height="2.80" fill="#1ad858" stroke="#021206" stroke-width="0.75"/>
<rect x="442.68" y="77.79" width="2.80" height="2.80" fill="#1ad858" stroke="#021206" stroke-width="0.75"/>
<rect x="459.27" y="71.09" width="2.80" height="2.80" fill="#1ad858" stroke="#021206" stroke-width="0.75"/>
<rect x="436.27" y="80.96" width="2.80" height="2.80" fill="#1ad858" stroke="#021206" stroke-width="0.75"/>
<rect x="442.11" y="75.23" width="2.80" height="2.80" fill="#1ad858" stroke="#021206" stroke-width="0.75"/>
<rect x="437.60" y="75.34" width="2.80" height="2.80" fill="#1ad858" stroke="#021206" stroke-width="0.75"/>
<rect x="435.88" y="76.59" width="2.80" height="2.80" fill="#1ad858" stroke="#021206" stroke-width="0.75"/>
<rect x="450.71" y="71.99" width="2.80" height="2.80" fill="#1ad858" stroke="#021206" stroke-width="0.75"/>
<rect x="455.84" y="72.55" width="2.80" height="2.80" fill="#1ad858" stroke="#021206" stroke-width="0.75"/>
<rect x="437.56" y="76.18" width="2.80" height="2.80" fill="#1ad858" stroke="#021206" stroke-width="0.75"/>
<rect x="457.96" y="72.69" width="2.80" height="2.80" fill="#1ad858" stroke="#021206" stroke-width="0.75"/>
<rect x="440.36" y="79.43" width="2.80" height="2.80" fill="#1ad858" stroke="#021206" stroke-width="0.75"/>
<rect x="453.16" y="74.55" width="2.80" height="2.80" fill="#1ad858" stroke="#021206" stroke-width="0.75"/>
<rect x="440.43" y="78.84" width="2.80" height="2.80" fill="#1ad858" stroke="#021206" stroke-width="0.75"/>
<rect x="443.87" y="73.03" width="2.80" height="2.80" fill="#1ad858" stroke="#021206" stroke-width="0.75"/>
<rect x="436.78" y="76.72" width="2.80" height="2.80" fill="#1ad858" stroke="#021206" stroke-width="0.75"/>
<rect x="451.96" y="72.86" width="2.80" height="2.80" fill="#1ad858" stroke="#021206" stroke-width="0.75"/>
<rect x="439.53" y="80.24" width="2.80" height="2.80" fill="#1ad858" stroke="#021206" stroke-width="0.75"/>
<rect x="458.39" y="71.10" width="2.80" height="2.80" fill="#1ad858" stroke="#021206" stroke-width="0.75"/>
<rect x="446.62" y="72.03" width="2.80" height="2.80" fill="#1ad858" stroke="#021206" stroke-width="0.75"/>
<rect x="455.03" y="73.30" width="2.80" height="2.80" fill="#1ad858" stroke="#021206" stroke-width="0.75"/>
<rect x="451.82" y="71.76" width="2.80" height="2.80" fill="#1ad858" stroke="#021206" stroke-width="0.75"/>
<rect x="455.49" y="71.38" width="2.80" height="2.80" fill="#1ad858" stroke="#021206" stroke-width="0.75"/>
<rect x="452.34" y="74.59" width="2.80" height="2.80" fill="#1ad858" stroke="#021206" stroke-width="0.75"/>
<rect x="440.16" y="75.51" width="2.80" height="2.80" fill="#1ad858" stroke="#021206" stroke-width="0.75"/>
<rect x="447.34" y="72.56" width="2.80" height="2.80" fill="#1ad858" stroke="#021206" stroke-width="0.75"/>
<rect x="445.05" y="73.02" width="2.80" height="2.80" fill="#1ad858" stroke="#021206" stroke-width="0.75"/>
<rect x="438.27" y="74.49" width="2.80" height="2.80" fill="#1ad858" stroke="#021206" stroke-width="0.75"/>
<rect x="462.69" y="71.62" width="2.80" height="2.80" fill="#1ad858" stroke="#021206" stroke-width="0.75"/>
<rect x="436.34" y="80.62" width="2.80" height="2.80" fill="#1ad858" stroke="#021206" stroke-width="0.75"/>
<rect x="445.46" y="75.65" width="2.80" height="2.80" fill="#1ad858" stroke="#021206" stroke-width="0.75"/>
<rect x="436.48" y="82.47" width="2.80" height="2.80" fill="#1ad858" stroke="#021206" stroke-width="0.75"/>
<rect x="445.64" y="75.42" width="2.80" height="2.80" fill="#1ad858" stroke="#021206" stroke-width="0.75"/>
<rect x="436.59" y="75.20" width="2.80" height="2.80" fill="#1ad858" stroke="#021206" stroke-width="0.75"/>
<rect x="451.96" y="71.96" width="2.80" height="2.80" fill="#1ad858" stroke="#021206" stroke-width="0.75"/>
<rect x="441.70" y="75.17" width="2.80" height="2.80" fill="#1ad858" stroke="#021206" stroke-width="0.75"/>
<rect x="454.24" y="71.38" width="2.80" height="2.80" fill="#1ad858" stroke="#021206" stroke-width="0.75"/>
<rect x="443.81" y="73.81" width="2.80" height="2.80" fill="#1ad858" stroke="#021206" stroke-width="0.75"/>
<rect x="445.52" y="73.94" width="2.80" height="2.80" fill="#1ad858" stroke="#021206" stroke-width="0.75"/>
<rect x="438.14" y="80.45" width="2.80" height="2.80" fill="#1ad858" stroke="#021206" stroke-width="0.75"/>
<rect x="439.12" y="75.99" width="2.80" height="2.80" fill="#1ad858" stroke="#021206" stroke-width="0.75"/>
<rect x="440.46" y="77.82" width="2.80" height="2.80" fill="#1ad858" stroke="#021206" stroke-width="0.75"/>
<rect x="448.77" y="75.53" width="2.80" height="2.80" fill="#1ad858" stroke="#021206" stroke-width="0.75"/>
<rect x="436.32" y="81.65" width="2.80" height="2.80" fill="#1ad858" stroke="#021206" stroke-width="0.75"/>
<rect x="435.33" y="79.83" width="2.80" height="2.80" fill="#1ad858" stroke="#021206" stroke-width="0.75"/>
<rect x="443.28" y="72.87" width="2.80" height="2.80" fill="#1ad858" stroke="#021206" stroke-width="0.75"/>
<rect x="438.14" y="74.59" width="2.80" height="2.80" fill="#1ad858" stroke="#021206" stroke-width="0.75"/>
<rect x="458.74" y="70.99" width="2.80" height="2.80" fill="#1ad858" stroke="#021206" stroke-width="0.75"/>
<rect x="435.49" y="78.81" width="2.80" height="2.80" fill="#1ad858" stroke="#021206" stroke-width="0.75"/>
<rect x="454.43" y="72.36" width="2.80" height="2.80" fill="#1ad858" stroke="#021206" stroke-width="0.75"/>
<rect x="439.41" y="77.25" width="2.80" height="2.80" fill="#1ad858" stroke="#021206" stroke-width="0.75"/>
<rect x="455.31" y="71.53" width="2.80" height="2.80" fill="#1ad858" stroke="#021206" stroke-width="0.75"/>
<rect x="444.37" y="75.57" width="2.80" height="2.80" fill="#1ad858" stroke="#021206" stroke-width="0.75"/>
<rect x="461.02" y="72.04" width="2.80" height="2.80" fill="#1ad858" stroke="#021206" stroke-width="0.75"/>
<rect x="455.55" y="72.04" width="2.80" height="2.80" fill="#1ad858" stroke="#021206" stroke-width="0.75"/>
<rect x="445.29" y="77.29" width="2.80" height="2.80" fill="#1ad858" stroke="#021206" stroke-width="0.75"/>
<rect x="447.87" y="72.54" width="2.80" height="2.80" fill="#1ad858" stroke="#021206" stroke-width="0.75"/>
<rect x="436.56" y="79.11" width="2.80" height="2.80" fill="#1ad858" stroke="#021206" stroke-width="0.75"/>
<rect x="434.94" y="76.09" width="2.80" height="2.80" fill="#1ad858" stroke="#021206" stroke-width="0.75"/>
<rect x="457.86" y="71.47" width="2.80" height="2.80" fill="#1ad858" stroke="#021206" stroke-width="0.75"/>
<rect x="457.50" y="71.05" width="2.80" height="2.80" fill="#1ad858" stroke="#021206" stroke-width="0.75"/>
<rect x="462.29" y="71.40" width="2.80" height="2.80" fill="#1ad858" stroke="#021206" stroke-width="0.75"/>
<rect x="449.74" y="74.67" width="2.80" height="2.80" fill="#1ad858" stroke="#021206" stroke-width="0.75"/>
<rect x="443.36" y="77.98" width="2.80" height="2.80" fill="#1ad858" stroke="#021206" stroke-width="0.75"/>
<rect x="449.67" y="72.20" width="2.80" height="2.80" fill="#1ad858" stroke="#021206" stroke-width="0.75"/>
<rect x="450.02" y="74.01" width="2.80" height="2.80" fill="#1ad858" stroke="#021206" stroke-width="0.75"/>
<rect x="434.92" y="79.60" width="2.80" height="2.80" fill="#1ad858" stroke="#021206" stroke-width="0.75"/>
<rect x="450.82" y="74.17" width="2.80" height="2.80" fill="#1ad858" stroke="#021206" stroke-width="0.75"/>
<rect x="436.06" y="78.31" width="2.80" height="2.80" fill="#1ad858" stroke="#021206" stroke-width="0.75"/>
<rect x="442.10" y="73.90" width="2.80" height="2.80" fill="#1ad858" stroke="#021206" stroke-width="0.75"/>
<rect x="443.52" y="76.50" width="2.80" height="2.80" fill="#1ad858" stroke="#021206" stroke-width="0.75"/>
<rect x="461.58" y="71.79" width="2.80" height="2.80" fill="#1ad858" stroke="#021206" stroke-width="0.75"/>
<rect x="434.78" y="77.42" width="2.80" height="2.80" fill="#1ad858" stroke="#021206" stroke-width="0.75"/>
<rect x="454.50" y="71.95" width="2.80" height="2.80" fill="#1ad858" stroke="#021206" stroke-width="0.75"/>
<rect x="452.51" y="73.81" width="2.80" height="2.80" fill="#1ad858" stroke="#021206" stroke-width="0.75"/>
<rect x="437.75" y="76.38" width="2.80" height="2.80" fill="#1ad858" stroke="#021206" stroke-width="0.75"/>
<rect x="439.97" y="76.75" width="2.80" height="2.80" fill="#1ad858" stroke="#021206" stroke-width="0.75"/>
<rect x="445.26" y="75.27" width="2.80" height="2.80" fill="#1ad858" stroke="#021206" stroke-width="0.75"/>
<rect x="438.84" y="78.63" width="2.80" height="2.80" fill="#1ad858" stroke="#021206" stroke-width="0.75"/>
<rect x="459.55" y="72.03" width="2.80" height="2.80" fill="#1ad858" stroke="#021206" stroke-width="0.75"/>
<rect x="443.48" y="78.40" width="2.80" height="2.80" fill="#1ad858" stroke="#021206" stroke-width="0.75"/>
<rect x="460.46" y="71.12" width="2.80" height="2.80" fill="#1ad858" stroke="#021206" stroke-width="0.75"/>
<rect x="455.68" y="70.98" width="2.80" height="2.80" fill="#1ad858" stroke="#021206" stroke-width="0.75"/>
<rect x="457.56" y="71.65" width="2.80" height="2.80" fill="#1ad858" stroke="#021206" stroke-width="0.75"/>
<rect x="454.45" y="71.45" width="2.80" height="2.80" fill="#1ad858" stroke="#021206" stroke-width="0.75"/>
<rect x="439.71" y="74.57" width="2.80" height="2.80" fill="#1ad858" stroke="#021206" stroke-width="0.75"/>
<rect x="435.21" y="79.46" width="2.80" height="2.80" fill="#1ad858" stroke="#021206" stroke-width="0.75"/>
<rect x="450.99" y="71.92" width="2.80" height="2.80" fill="#1ad858" stroke="#021206" stroke-width="0.75"/>
<rect x="440.16" y="80.47" width="2.80" height="2.80" fill="#1ad858" stroke="#021206" stroke-width="0.75"/>
<rect x="461.63" y="71.15" width="2.80" height="2.80" fill="#1ad858" stroke="#021206" stroke-width="0.75"/>
<rect x="456.81" y="71.91" width="2.80" height="2.80" fill="#1ad858" stroke="#021206" stroke-width="0.75"/>
<rect x="449.40" y="74.16" width="2.80" height="2.80" fill="#1ad858" stroke="#021206" stroke-width="0.75"/>
<rect x="434.49" y="82.37" width="2.80" height="2.80" fill="#1ad858" stroke="#021206" stroke-width="0.75"/>
<rect x="439.48" y="79.08" width="2.80" height="2.80" fill="#1ad858" stroke="#021206" stroke-width="0.75"/>
<rect x="446.14" y="72.88" width="2.80" height="2.80" fill="#1ad858" stroke="#021206" stroke-width="0.75"/>
<path d="M439.54 60.65L441.19 62.30L439.54 63.95L437.89 62.30Z" fill="#3d76b4" stroke="#081220" stroke-width="0.85"/>
<path d="M440.52 59.62L442.17 61.27L440.52 62.92L438.87 61.27Z" fill="#3d76b4" stroke="#081220" stroke-width="0.85"/>
<path d="M440.96 59.76L442.61 61.41L440.96 63.06L439.31 61.41Z" fill="#3d76b4" stroke="#081220" stroke-width="0.85"/>
<path d="M442.40 59.77L444.05 61.42L442.40 63.07L440.75 61.42Z" fill="#3d76b4" stroke="#081220" stroke-width="0.85"/>
<path d="M443.82 59.01L445.47 60.66L443.82 62.31L442.17 60.66Z" fill="#3d76b4" stroke="#081220" stroke-width="0.85"/>
<path d="M444.81 58.75L446.46 60.40L444.81 62.05L443.16 60.40Z" fill="#3d76b4" stroke="#081220" stroke-width="0.85"/>
<path d="M445.39 58.28L447.04 59.93L445.39 61.58L443.74 59.93Z" fill="#3d76b4" stroke="#081220" stroke-width="0.85"/>
<path d="M446.71 58.43L448.36 60.08L446.71 61.73L445.06 60.08Z" fill="#3d76b4" stroke="#081220" stroke-width="0.85"/>
<circle cx="35.50" cy="49.20" r="1.5" fill="#f20000" stroke="#200000" stroke-width="0.5"/>
<circle cx="35.80" cy="47.60" r="1.5" fill="#f20000" stroke="#200000" stroke-width="0.5"/>
<circle cx="36.40" cy="46.00" r="1.5" fill="#f20000" stroke="#200000" stroke-width="0.5"/>
<circle cx="85.60" cy="27.10" r="1.5" fill="#f20000" stroke="#200000" stroke-width="0.5"/>
<circle cx="90.50" cy="27.60" r="1.5" fill="#f20000" stroke="#200000" stroke-width="0.5"/>
<circle cx="94.50" cy="27.10" r="1.5" fill="#f20000" stroke="#200000" stroke-width="0.5"/>
<circle cx="94.50" cy="23.90" r="1.5" fill="#f20000" stroke="#200000" stroke-width="0.5"/>
<circle cx="100.50" cy="21.00" r="1.5" fill="#f20000" stroke="#200000" stroke-width="0.5"/>
<circle cx="101.50" cy="22.50" r="1.5" fill="#f20000" stroke="#200000" stroke-width="0.5"/>
<circle cx="103.50" cy="26.20" r="1.5" fill="#f20000" stroke="#200000" stroke-width="0.5"/>
<circle cx="114.00" cy="21.20" r="1.5" fill="#f20000" stroke="#200000" stroke-width="0.5"/>
<circle cx="124.20" cy="19.60" r="1.5" fill="#f20000" stroke="#200000" stroke-width="0.5"/>
<circle cx="138.70" cy="16.50" r="1.5" fill="#f20000" stroke="#200000" stroke-width="0.5"/>
<circle cx="260.10" cy="26.50" r="1.5" fill="#f20000" stroke="#200000" stroke-width="0.5"/>
<circle cx="259.50" cy="30.70" r="1.5" fill="#f20000" stroke="#200000" stroke-width="0.5"/>
<circle cx="261.30" cy="31.30" r="1.5" fill="#f20000" stroke="#200000" stroke-width="0.5"/>
<circle cx="263.70" cy="30.10" r="1.5" fill="#f20000" stroke="#200000" stroke-width="0.5"/>
<circle cx="265.00" cy="30.70" r="1.5" fill="#f20000" stroke="#200000" stroke-width="0.5"/>
<circle cx="268.60" cy="29.50" r="1.5" fill="#f20000" stroke="#200000" stroke-width="0.5"/>
<circle cx="270.40" cy="29.30" r="1.5" fill="#f20000" stroke="#200000" stroke-width="0.5"/>
<circle cx="271.00" cy="30.10" r="1.5" fill="#f20000" stroke="#200000" stroke-width="0.5"/>
<circle cx="278.30" cy="28.50" r="1.5" fill="#f20000" stroke="#200000" stroke-width="0.5"/>
<circle cx="288.90" cy="25.60" r="1.5" fill="#f20000" stroke="#200000" stroke-width="0.5"/>
<circle cx="297.70" cy="24.80" r="1.5" fill="#f20000" stroke="#200000" stroke-width="0.5"/>
<circle cx="299.70" cy="23.90" r="1.5" fill="#f20000" stroke="#200000" stroke-width="0.5"/>
<circle cx="324.80" cy="20.00" r="1.5" fill="#f20000" stroke="#200000" stroke-width="0.5"/>
<circle cx="257.50" cy="29.50" r="1.5" fill="#f20000" stroke="#200000" stroke-width="0.5"/>
<circle cx="434.50" cy="35.60" r="1.5" fill="#f20000" stroke="#200000" stroke-width="0.5"/>
<circle cx="444.20" cy="30.10" r="1.5" fill="#f20000" stroke="#200000" stroke-width="0.5"/>
<circle cx="449.00" cy="28.90" r="1.5" fill="#f20000" stroke="#200000" stroke-width="0.5"/>
<circle cx="451.40" cy="28.50" r="1.5" fill="#f20000" stroke="#200000" stroke-width="0.5"/>
<circle cx="453.60" cy="27.70" r="1.5" fill="#f20000" stroke="#200000" stroke-width="0.5"/>
<circle cx="456.00" cy="27.10" r="1.5" fill="#f20000" stroke="#200000" stroke-width="0.5"/>
<circle cx="470.20" cy="24.10" r="1.5" fill="#f20000" stroke="#200000" stroke-width="0.5"/>
<circle cx="475.90" cy="23.10" r="1.5" fill="#f20000" stroke="#200000" stroke-width="0.5"/>
<circle cx="483.30" cy="21.70" r="1.5" fill="#f20000" stroke="#200000" stroke-width="0.5"/>
<path d="M75.40 51.25L77.05 52.90L75.40 54.55L73.75 52.90Z" fill="#3d76b4" stroke="#081220" stroke-width="0.65"/>
<path d="M78.40 49.15L80.05 50.80L78.40 52.45L76.75 50.80Z" fill="#3d76b4" stroke="#081220" stroke-width="0.65"/>
<path d="M79.00 50.85L80.65 52.50L79.00 54.15L77.35 52.50Z" fill="#3d76b4" stroke="#081220" stroke-width="0.65"/>
<path d="M85.10 48.45L86.75 50.10L85.10 51.75L83.45 50.10Z" fill="#3d76b4" stroke="#081220" stroke-width="0.65"/>
<path d="M80.20 56.65L81.85 58.30L80.20 59.95L78.55 58.30Z" fill="#3d76b4" stroke="#081220" stroke-width="0.65"/>
<path d="M108.70 49.85L110.35 51.50L108.70 53.15L107.05 51.50Z" fill="#3d76b4" stroke="#081220" stroke-width="0.65"/>
<path d="M117.40 42.05L119.05 43.70L117.40 45.35L115.75 43.70Z" fill="#3d76b4" stroke="#081220" stroke-width="0.65"/>
<path d="M131.90 43.55L133.55 45.20L131.90 46.85L130.25 45.20Z" fill="#3d76b4" stroke="#081220" stroke-width="0.65"/>
<path d="M139.50 41.65L141.15 43.30L139.50 44.95L137.85 43.30Z" fill="#3d76b4" stroke="#081220" stroke-width="0.65"/>
<path d="M146.80 36.05L148.45 37.70L146.80 39.35L145.15 37.70Z" fill="#3d76b4" stroke="#081220" stroke-width="0.65"/>
<path d="M158.90 37.75L160.55 39.40L158.90 41.05L157.25 39.40Z" fill="#3d76b4" stroke="#081220" stroke-width="0.65"/>
<path d="M162.90 34.95L164.55 36.60L162.90 38.25L161.25 36.60Z" fill="#3d76b4" stroke="#081220" stroke-width="0.65"/>
<path d="M163.70 32.25L165.35 33.90L163.70 35.55L162.05 33.90Z" fill="#3d76b4" stroke="#081220" stroke-width="0.65"/>
<path d="M166.10 33.35L167.75 35.00L166.10 36.65L164.45 35.00Z" fill="#3d76b4" stroke="#081220" stroke-width="0.65"/>
<path d="M168.50 34.15L170.15 35.80L168.50 37.45L166.85 35.80Z" fill="#3d76b4" stroke="#081220" stroke-width="0.65"/>
<path d="M170.50 34.95L172.15 36.60L170.50 38.25L168.85 36.60Z" fill="#3d76b4" stroke="#081220" stroke-width="0.65"/>
<path d="M255.20 55.95L256.85 57.60L255.20 59.25L253.55 57.60Z" fill="#3d76b4" stroke="#081220" stroke-width="0.65"/>
<path d="M258.40 54.65L260.05 56.30L258.40 57.95L256.75 56.30Z" fill="#3d76b4" stroke="#081220" stroke-width="0.65"/>
<path d="M260.80 54.35L262.45 56.00L260.80 57.65L259.15 56.00Z" fill="#3d76b4" stroke="#081220" stroke-width="0.65"/>
<path d="M274.50 49.35L276.15 51.00L274.50 52.65L272.85 51.00Z" fill="#3d76b4" stroke="#081220" stroke-width="0.65"/>
<path d="M285.50 48.15L287.15 49.80L285.50 51.45L283.85 49.80Z" fill="#3d76b4" stroke="#081220" stroke-width="0.65"/>
<path d="M301.80 44.65L303.45 46.30L301.80 47.95L300.15 46.30Z" fill="#3d76b4" stroke="#081220" stroke-width="0.65"/>
<path d="M311.90 43.55L313.55 45.20L311.90 46.85L310.25 45.20Z" fill="#3d76b4" stroke="#081220" stroke-width="0.65"/>
<path d="M318.40 42.55L320.05 44.20L318.40 45.85L316.75 44.20Z" fill="#3d76b4" stroke="#081220" stroke-width="0.65"/>
<path d="M328.70 41.45L330.35 43.10L328.70 44.75L327.05 43.10Z" fill="#3d76b4" stroke="#081220" stroke-width="0.65"/>
<path d="M331.30 40.65L332.95 42.30L331.30 43.95L329.65 42.30Z" fill="#3d76b4" stroke="#081220" stroke-width="0.65"/>
<path d="M344.50 39.35L346.15 41.00L344.50 42.65L342.85 41.00Z" fill="#3d76b4" stroke="#081220" stroke-width="0.65"/>
<path d="M347.70 38.65L349.35 40.30L347.70 41.95L346.05 40.30Z" fill="#3d76b4" stroke="#081220" stroke-width="0.65"/>
<path d="M349.70 38.35L351.35 40.00L349.70 41.65L348.05 40.00Z" fill="#3d76b4" stroke="#081220" stroke-width="0.65"/>
<path d="M351.80 38.35L353.45 40.00L351.80 41.65L350.15 40.00Z" fill="#3d76b4" stroke="#081220" stroke-width="0.65"/>
<path d="M352.90 38.65L354.55 40.30L352.90 41.95L351.25 40.30Z" fill="#3d76b4" stroke="#081220" stroke-width="0.65"/>
<path d="M464.40 54.35L466.05 56.00L464.40 57.65L462.75 56.00Z" fill="#3d76b4" stroke="#081220" stroke-width="0.65"/>
<path d="M475.30 47.65L476.95 49.30L475.30 50.95L473.65 49.30Z" fill="#3d76b4" stroke="#081220" stroke-width="0.65"/>
<path d="M490.40 47.05L492.05 48.70L490.40 50.35L488.75 48.70Z" fill="#3d76b4" stroke="#081220" stroke-width="0.65"/>
<path d="M497.50 41.05L499.15 42.70L497.50 44.35L495.85 42.70Z" fill="#3d76b4" stroke="#081220" stroke-width="0.65"/>
<path d="M501.50 44.25L503.15 45.90L501.50 47.55L499.85 45.90Z" fill="#3d76b4" stroke="#081220" stroke-width="0.65"/>
<path d="M516.60 36.55L518.25 38.20L516.60 39.85L514.95 38.20Z" fill="#3d76b4" stroke="#081220" stroke-width="0.65"/>
<path d="M519.60 39.65L521.25 41.30L519.60 42.95L517.95 41.30Z" fill="#3d76b4" stroke="#081220" stroke-width="0.65"/>
<path d="M521.70 34.95L523.35 36.60L521.70 38.25L520.05 36.60Z" fill="#3d76b4" stroke="#081220" stroke-width="0.65"/>
<path d="M524.70 34.55L526.35 36.20L524.70 37.85L523.05 36.20Z" fill="#3d76b4" stroke="#081220" stroke-width="0.65"/>
<path d="M527.10 34.95L528.75 36.60L527.10 38.25L525.45 36.60Z" fill="#3d76b4" stroke="#081220" stroke-width="0.65"/>
<path d="M528.70 35.55L530.35 37.20L528.70 38.85L527.05 37.20Z" fill="#3d76b4" stroke="#081220" stroke-width="0.65"/>
<rect x="46.20" y="86.60" width="2.80" height="2.80" fill="#1ad858" stroke="#021206" stroke-width="0.6"/>
<rect x="46.80" y="85.20" width="2.80" height="2.80" fill="#1ad858" stroke="#021206" stroke-width="0.6"/>
<rect x="47.40" y="83.60" width="2.80" height="2.80" fill="#1ad858" stroke="#021206" stroke-width="0.6"/>
<rect x="109.90" y="56.50" width="2.80" height="2.80" fill="#1ad858" stroke="#021206" stroke-width="0.6"/>
<rect x="110.50" y="59.50" width="2.80" height="2.80" fill="#1ad858" stroke="#021206" stroke-width="0.6"/>
<rect x="112.30" y="57.70" width="2.80" height="2.80" fill="#1ad858" stroke="#021206" stroke-width="0.6"/>
<rect x="120.40" y="55.50" width="2.80" height="2.80" fill="#1ad858" stroke="#021206" stroke-width="0.6"/>
<rect x="123.60" y="58.00" width="2.80" height="2.80" fill="#1ad858" stroke="#021206" stroke-width="0.6"/>
<rect x="127.60" y="53.10" width="2.80" height="2.80" fill="#1ad858" stroke="#021206" stroke-width="0.6"/>
<rect x="127.60" y="58.80" width="2.80" height="2.80" fill="#1ad858" stroke="#021206" stroke-width="0.6"/>
<rect x="130.10" y="51.50" width="2.80" height="2.80" fill="#1ad858" stroke="#021206" stroke-width="0.6"/>
<rect x="132.50" y="53.90" width="2.80" height="2.80" fill="#1ad858" stroke="#021206" stroke-width="0.6"/>
<rect x="134.90" y="51.50" width="2.80" height="2.80" fill="#1ad858" stroke="#021206" stroke-width="0.6"/>
<rect x="137.30" y="49.90" width="2.80" height="2.80" fill="#1ad858" stroke="#021206" stroke-width="0.6"/>
<rect x="137.30" y="54.70" width="2.80" height="2.80" fill="#1ad858" stroke="#021206" stroke-width="0.6"/>
<rect x="136.00" y="58.00" width="2.80" height="2.80" fill="#1ad858" stroke="#021206" stroke-width="0.6"/>
<rect x="144.60" y="49.10" width="2.80" height="2.80" fill="#1ad858" stroke="#021206" stroke-width="0.6"/>
<rect x="146.20" y="49.60" width="2.80" height="2.80" fill="#1ad858" stroke="#021206" stroke-width="0.6"/>
<rect x="149.40" y="52.30" width="2.80" height="2.80" fill="#1ad858" stroke="#021206" stroke-width="0.6"/>
<rect x="150.20" y="54.70" width="2.80" height="2.80" fill="#1ad858" stroke="#021206" stroke-width="0.6"/>
<rect x="152.60" y="48.30" width="2.80" height="2.80" fill="#1ad858" stroke="#021206" stroke-width="0.6"/>
<rect x="154.20" y="47.50" width="2.80" height="2.80" fill="#1ad858" stroke="#021206" stroke-width="0.6"/>
<rect x="155.10" y="50.70" width="2.80" height="2.80" fill="#1ad858" stroke="#021206" stroke-width="0.6"/>
<rect x="156.70" y="47.50" width="2.80" height="2.80" fill="#1ad858" stroke="#021206" stroke-width="0.6"/>
<rect x="163.10" y="43.80" width="2.80" height="2.80" fill="#1ad858" stroke="#021206" stroke-width="0.6"/>
<rect x="166.70" y="45.90" width="2.80" height="2.80" fill="#1ad858" stroke="#021206" stroke-width="0.6"/>
<rect x="164.40" y="52.80" width="2.80" height="2.80" fill="#1ad858" stroke="#021206" stroke-width="0.6"/>
<rect x="168.00" y="53.90" width="2.80" height="2.80" fill="#1ad858" stroke="#021206" stroke-width="0.6"/>
<rect x="100.20" y="58.00" width="2.80" height="2.80" fill="#1ad858" stroke="#021206" stroke-width="0.6"/>
<rect x="103.40" y="57.60" width="2.80" height="2.80" fill="#1ad858" stroke="#021206" stroke-width="0.6"/>
<rect x="105.90" y="58.00" width="2.80" height="2.80" fill="#1ad858" stroke="#021206" stroke-width="0.6"/>
<rect x="110.70" y="60.40" width="2.80" height="2.80" fill="#1ad858" stroke="#021206" stroke-width="0.6"/>
<rect x="126.60" y="56.60" width="2.80" height="2.80" fill="#1ad858" stroke="#021206" stroke-width="0.6"/>
<rect x="130.60" y="55.60" width="2.80" height="2.80" fill="#1ad858" stroke="#021206" stroke-width="0.6"/>
<rect x="239.80" y="84.60" width="2.80" height="2.80" fill="#1ad858" stroke="#021206" stroke-width="0.6"/>
<rect x="289.90" y="61.50" width="2.80" height="2.80" fill="#1ad858" stroke="#021206" stroke-width="0.6"/>
<rect x="292.30" y="63.30" width="2.80" height="2.80" fill="#1ad858" stroke="#021206" stroke-width="0.6"/>
<rect x="290.70" y="62.00" width="2.80" height="2.80" fill="#1ad858" stroke="#021206" stroke-width="0.6"/>
<rect x="293.90" y="64.40" width="2.80" height="2.80" fill="#1ad858" stroke="#021206" stroke-width="0.6"/>
<rect x="298.00" y="59.90" width="2.80" height="2.80" fill="#1ad858" stroke="#021206" stroke-width="0.6"/>
<rect x="302.00" y="58.80" width="2.80" height="2.80" fill="#1ad858" stroke="#021206" stroke-width="0.6"/>
<rect x="304.40" y="61.20" width="2.80" height="2.80" fill="#1ad858" stroke="#021206" stroke-width="0.6"/>
<rect x="306.80" y="59.60" width="2.80" height="2.80" fill="#1ad858" stroke="#021206" stroke-width="0.6"/>
<rect x="309.20" y="60.40" width="2.80" height="2.80" fill="#1ad858" stroke="#021206" stroke-width="0.6"/>
<rect x="311.70" y="57.10" width="2.80" height="2.80" fill="#1ad858" stroke="#021206" stroke-width="0.6"/>
<rect x="313.30" y="58.80" width="2.80" height="2.80" fill="#1ad858" stroke="#021206" stroke-width="0.6"/>
<rect x="315.70" y="56.30" width="2.80" height="2.80" fill="#1ad858" stroke="#021206" stroke-width="0.6"/>
<rect x="315.70" y="59.60" width="2.80" height="2.80" fill="#1ad858" stroke="#021206" stroke-width="0.6"/>
<rect x="318.90" y="57.10" width="2.80" height="2.80" fill="#1ad858" stroke="#021206" stroke-width="0.6"/>
<rect x="321.30" y="54.70" width="2.80" height="2.80" fill="#1ad858" stroke="#021206" stroke-width="0.6"/>
<rect x="324.60" y="55.50" width="2.80" height="2.80" fill="#1ad858" stroke="#021206" stroke-width="0.6"/>
<rect x="327.00" y="53.90" width="2.80" height="2.80" fill="#1ad858" stroke="#021206" stroke-width="0.6"/>
<rect x="330.20" y="53.90" width="2.80" height="2.80" fill="#1ad858" stroke="#021206" stroke-width="0.6"/>
<rect x="330.20" y="58.80" width="2.80" height="2.80" fill="#1ad858" stroke="#021206" stroke-width="0.6"/>
<rect x="333.40" y="54.40" width="2.80" height="2.80" fill="#1ad858" stroke="#021206" stroke-width="0.6"/>
<rect x="335.90" y="53.10" width="2.80" height="2.80" fill="#1ad858" stroke="#021206" stroke-width="0.6"/>
<rect x="338.60" y="51.20" width="2.80" height="2.80" fill="#1ad858" stroke="#021206" stroke-width="0.6"/>
<rect x="342.30" y="52.80" width="2.80" height="2.80" fill="#1ad858" stroke="#021206" stroke-width="0.6"/>
<rect x="343.90" y="54.70" width="2.80" height="2.80" fill="#1ad858" stroke="#021206" stroke-width="0.6"/>
<rect x="346.30" y="55.10" width="2.80" height="2.80" fill="#1ad858" stroke="#021206" stroke-width="0.6"/>
<rect x="348.80" y="54.70" width="2.80" height="2.80" fill="#1ad858" stroke="#021206" stroke-width="0.6"/>
<rect x="467.50" y="68.90" width="2.80" height="2.80" fill="#1ad858" stroke="#021206" stroke-width="0.6"/>
<rect x="468.70" y="70.70" width="2.80" height="2.80" fill="#1ad858" stroke="#021206" stroke-width="0.6"/>
<rect x="472.30" y="67.70" width="2.80" height="2.80" fill="#1ad858" stroke="#021206" stroke-width="0.6"/>
<rect x="473.90" y="67.70" width="2.80" height="2.80" fill="#1ad858" stroke="#021206" stroke-width="0.6"/>
<rect x="477.90" y="68.70" width="2.80" height="2.80" fill="#1ad858" stroke="#021206" stroke-width="0.6"/>
<rect x="480.90" y="66.70" width="2.80" height="2.80" fill="#1ad858" stroke="#021206" stroke-width="0.6"/>
<rect x="484.00" y="66.10" width="2.80" height="2.80" fill="#1ad858" stroke="#021206" stroke-width="0.6"/>
<rect x="487.00" y="64.70" width="2.80" height="2.80" fill="#1ad858" stroke="#021206" stroke-width="0.6"/>
<rect x="490.00" y="63.70" width="2.80" height="2.80" fill="#1ad858" stroke="#021206" stroke-width="0.6"/>
<rect x="493.00" y="61.70" width="2.80" height="2.80" fill="#1ad858" stroke="#021206" stroke-width="0.6"/>
<rect x="497.10" y="61.30" width="2.80" height="2.80" fill="#1ad858" stroke="#021206" stroke-width="0.6"/>
<rect x="501.10" y="61.70" width="2.80" height="2.80" fill="#1ad858" stroke="#021206" stroke-width="0.6"/>
<rect x="506.10" y="58.00" width="2.80" height="2.80" fill="#1ad858" stroke="#021206" stroke-width="0.6"/>
<rect x="508.20" y="59.60" width="2.80" height="2.80" fill="#1ad858" stroke="#021206" stroke-width="0.6"/>
<rect x="512.20" y="60.70" width="2.80" height="2.80" fill="#1ad858" stroke="#021206" stroke-width="0.6"/>
<rect x="515.20" y="57.60" width="2.80" height="2.80" fill="#1ad858" stroke="#021206" stroke-width="0.6"/>
<rect x="519.20" y="60.10" width="2.80" height="2.80" fill="#1ad858" stroke="#021206" stroke-width="0.6"/>
<rect x="523.30" y="59.60" width="2.80" height="2.80" fill="#1ad858" stroke="#021206" stroke-width="0.6"/>
<rect x="525.30" y="56.60" width="2.80" height="2.80" fill="#1ad858" stroke="#021206" stroke-width="0.6"/>
<rect x="531.70" y="54.60" width="2.80" height="2.80" fill="#1ad858" stroke="#021206" stroke-width="0.6"/>
<rect x="505.10" y="57.00" width="2.80" height="2.80" fill="#1ad858" stroke="#021206" stroke-width="0.6"/>
<rect x="509.20" y="57.00" width="2.80" height="2.80" fill="#1ad858" stroke="#021206" stroke-width="0.6"/>
<rect x="514.20" y="57.00" width="2.80" height="2.80" fill="#1ad858" stroke="#021206" stroke-width="0.6"/>
<rect x="531.70" y="53.40" width="2.80" height="2.80" fill="#1ad858" stroke="#021206" stroke-width="0.6"/>
</svg></body></html>
